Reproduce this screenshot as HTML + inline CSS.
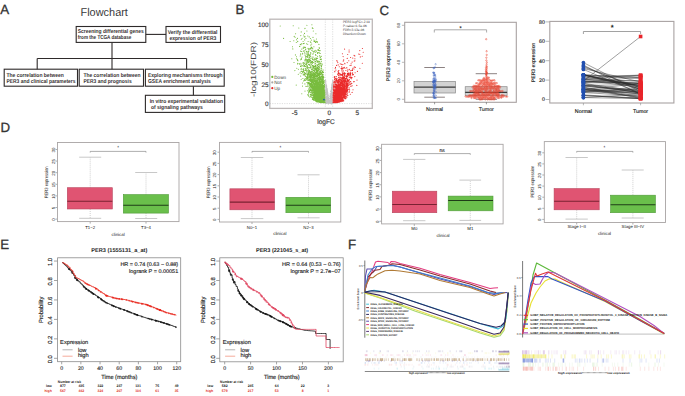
<!DOCTYPE html>
<html><head><meta charset="utf-8"><style>
html,body{margin:0;padding:0;background:#fff;width:685px;height:396px;overflow:hidden}
svg{display:block}
text{font-family:"Liberation Sans",sans-serif;text-rendering:geometricPrecision}
</style></head><body>
<svg width="685" height="396" viewBox="0 0 685 396" font-family="Liberation Sans, sans-serif">
<rect width="685" height="396" fill="#fff"/>
<text x="0.30" y="14.00" font-size="13.3" fill="#333" stroke="#333" stroke-width="0.3">A</text>
<text x="235.40" y="13.80" font-size="13.3" fill="#333" stroke="#333" stroke-width="0.3">B</text>
<text x="379.60" y="14.90" font-size="13.3" fill="#333" stroke="#333" stroke-width="0.3">C</text>
<text x="0.60" y="132.00" font-size="13.3" fill="#333" stroke="#333" stroke-width="0.3">D</text>
<text x="0.20" y="249.20" font-size="13.3" fill="#333" stroke="#333" stroke-width="0.3">E</text>
<text x="347.90" y="248.90" font-size="13.3" fill="#333" stroke="#333" stroke-width="0.3">F</text>
<text x="80.50" y="16.20" font-size="11.3" fill="#3a3a3a" textLength="47.4" lengthAdjust="spacingAndGlyphs" >Flowchart</text>
<rect x="76.20" y="26.50" width="69.60" height="15.90" fill="none" stroke="#2e2a2a" stroke-width="1.1" />
<rect x="166.00" y="26.50" width="54.50" height="15.90" fill="none" stroke="#2e2a2a" stroke-width="1.1" />
<rect x="4.20" y="69.20" width="73.30" height="17.00" fill="none" stroke="#2e2a2a" stroke-width="1.1" />
<rect x="79.20" y="69.20" width="64.30" height="17.00" fill="none" stroke="#2e2a2a" stroke-width="1.1" />
<rect x="145.40" y="69.20" width="78.80" height="17.00" fill="none" stroke="#2e2a2a" stroke-width="1.1" />
<rect x="145.40" y="95.30" width="79.30" height="17.10" fill="none" stroke="#2e2a2a" stroke-width="1.1" />
<line x1="145.80" y1="34.40" x2="166.00" y2="34.40" stroke="#2e2a2a" stroke-width="1.1" />
<line x1="112.00" y1="42.40" x2="112.00" y2="58.50" stroke="#2e2a2a" stroke-width="1.1" />
<line x1="37.20" y1="58.50" x2="186.60" y2="58.50" stroke="#2e2a2a" stroke-width="1.1" />
<line x1="37.20" y1="58.50" x2="37.20" y2="69.20" stroke="#2e2a2a" stroke-width="1.1" />
<line x1="112.00" y1="58.50" x2="112.00" y2="69.20" stroke="#2e2a2a" stroke-width="1.1" />
<line x1="186.60" y1="58.50" x2="186.60" y2="69.20" stroke="#2e2a2a" stroke-width="1.1" />
<line x1="193.40" y1="86.20" x2="193.40" y2="95.30" stroke="#2e2a2a" stroke-width="1.1" />
<text x="77.80" y="32.82" font-size="5.6" fill="#383333" font-weight="bold" textLength="66" lengthAdjust="spacingAndGlyphs" >Screening differential genes</text>
<text x="77.80" y="39.12" font-size="5.6" fill="#383333" font-weight="bold" textLength="53.5" lengthAdjust="spacingAndGlyphs" >from the TCGA database</text>
<text x="167.70" y="33.92" font-size="5.6" fill="#383333" font-weight="bold" textLength="49.8" lengthAdjust="spacingAndGlyphs" >Verify the differential</text>
<text x="169.40" y="40.32" font-size="5.6" fill="#383333" font-weight="bold" textLength="46.9" lengthAdjust="spacingAndGlyphs" >expression of PER3</text>
<text x="6.40" y="76.82" font-size="5.6" fill="#383333" font-weight="bold" textLength="57.4" lengthAdjust="spacingAndGlyphs" >The correlation between</text>
<text x="6.40" y="83.12" font-size="5.6" fill="#383333" font-weight="bold" textLength="69.1" lengthAdjust="spacingAndGlyphs" >PER3 and clinical parameters</text>
<text x="83.40" y="76.82" font-size="5.6" fill="#383333" font-weight="bold" textLength="57.1" lengthAdjust="spacingAndGlyphs" >The correlation between</text>
<text x="83.40" y="83.22" font-size="5.6" fill="#383333" font-weight="bold" textLength="48.3" lengthAdjust="spacingAndGlyphs" >PER3 and prognosis</text>
<text x="148.00" y="76.82" font-size="5.6" fill="#383333" font-weight="bold" textLength="74.6" lengthAdjust="spacingAndGlyphs" >Exploring mechanisms through</text>
<text x="148.00" y="83.22" font-size="5.6" fill="#383333" font-weight="bold" textLength="62.8" lengthAdjust="spacingAndGlyphs" >GSEA enrichment analysis</text>
<text x="149.70" y="102.82" font-size="5.6" fill="#383333" font-weight="bold" textLength="73.3" lengthAdjust="spacingAndGlyphs" >In vitro experimental validation</text>
<text x="150.90" y="109.42" font-size="5.6" fill="#383333" font-weight="bold" textLength="52" lengthAdjust="spacingAndGlyphs" >of signaling pathways</text>
<g>
<path d="M327.6 96.9h.01M325.8 94.6h.01M326.7 99.2h.01M327.9 98.2h.01M326.1 85.4h.01M328.7 101.8h.01M328.1 97.6h.01M326.3 99.3h.01M326.3 90.0h.01M325.6 103.7h.01M327.0 88.9h.01M325.9 83.9h.01M326.5 87.1h.01M327.3 90.5h.01M327.7 101.0h.01M326.1 93.1h.01M327.2 94.2h.01M326.4 86.6h.01M326.7 99.1h.01M326.3 88.6h.01M327.3 91.5h.01M326.3 98.9h.01M327.3 99.7h.01M327.5 97.1h.01M327.4 95.1h.01M327.0 101.1h.01M327.1 88.4h.01M326.7 96.6h.01M326.2 103.2h.01M325.6 80.1h.01M327.4 92.2h.01M328.6 103.7h.01M327.4 90.9h.01M327.3 89.6h.01M326.5 97.8h.01M328.3 103.9h.01M328.5 97.3h.01M326.9 100.7h.01M327.4 96.1h.01M326.1 97.7h.01M328.6 97.7h.01M325.7 85.8h.01M326.8 100.6h.01M325.7 99.6h.01M326.2 84.9h.01M327.9 93.6h.01M326.1 98.5h.01M328.7 102.8h.01M328.3 99.9h.01M327.6 97.3h.01M326.1 87.4h.01M326.4 87.6h.01M328.3 95.4h.01M326.9 98.7h.01M326.6 87.1h.01M325.6 83.1h.01M328.2 100.9h.01M326.3 90.5h.01M326.4 101.9h.01M328.5 102.9h.01M328.6 98.4h.01M327.0 103.1h.01M327.9 97.2h.01M325.7 89.5h.01M325.9 102.9h.01M325.6 92.8h.01M327.2 88.7h.01M327.7 96.8h.01M327.0 100.3h.01M326.2 103.0h.01M328.7 100.4h.01M328.6 99.8h.01M328.7 101.6h.01M326.1 92.2h.01M327.7 101.8h.01M326.2 100.9h.01M326.7 92.6h.01M326.9 89.0h.01M325.7 81.6h.01M326.9 92.7h.01M325.8 90.3h.01M326.5 99.1h.01M325.7 80.1h.01M327.4 96.2h.01M325.8 100.5h.01M326.3 92.9h.01M327.8 97.3h.01M328.0 101.1h.01M327.0 91.0h.01M325.7 86.1h.01M325.6 101.3h.01M329.0 102.0h.01M326.8 94.7h.01M327.3 97.9h.01M327.9 96.7h.01M327.3 99.3h.01M326.6 85.5h.01M325.9 97.3h.01M325.8 100.7h.01M326.2 91.7h.01M328.3 98.0h.01M325.9 103.1h.01M328.5 99.0h.01M326.2 99.5h.01M329.0 102.3h.01M327.2 98.8h.01M328.1 96.5h.01M327.8 96.4h.01M327.6 95.4h.01M325.6 88.3h.01M326.9 101.0h.01M326.0 95.6h.01M326.4 90.6h.01M325.7 90.2h.01M326.2 100.0h.01M328.0 98.6h.01M326.4 87.4h.01M326.7 87.8h.01M327.4 90.1h.01M326.5 87.4h.01M325.5 99.7h.01M325.6 87.6h.01M327.9 97.3h.01M328.0 102.2h.01M325.7 102.4h.01M327.0 89.2h.01M325.7 92.5h.01M326.6 98.9h.01M325.6 82.6h.01M328.0 95.7h.01M325.7 82.5h.01M326.8 100.5h.01M326.6 90.8h.01M328.1 103.3h.01M326.5 98.4h.01M326.5 87.9h.01M326.7 100.2h.01M326.0 89.3h.01M325.8 96.0h.01M327.1 92.0h.01M327.6 96.5h.01M325.9 86.9h.01M326.1 84.2h.01M327.6 101.9h.01M327.0 89.8h.01M325.6 90.8h.01M325.6 98.5h.01M325.7 102.6h.01M325.6 103.3h.01M327.2 92.5h.01M327.5 96.1h.01M326.1 97.1h.01M327.3 95.7h.01M326.8 98.9h.01M327.2 89.8h.01M326.5 102.2h.01M327.5 100.1h.01M326.8 96.3h.01M327.6 99.9h.01M327.6 97.4h.01M326.3 86.6h.01M327.8 102.3h.01M326.2 85.7h.01M327.6 92.1h.01M328.3 95.9h.01M327.5 91.2h.01M326.2 84.6h.01M325.8 100.5h.01M327.8 92.6h.01M325.7 93.7h.01M326.6 98.5h.01M327.9 98.5h.01M328.4 100.0h.01M327.7 102.6h.01M325.6 94.2h.01M326.5 102.9h.01M325.9 95.3h.01M327.4 92.1h.01M326.1 97.0h.01M327.7 94.2h.01M328.2 99.5h.01M325.7 83.3h.01M325.8 97.5h.01M326.7 101.4h.01M328.9 102.4h.01M327.6 97.9h.01M328.9 100.4h.01M327.3 92.8h.01M325.9 91.4h.01M326.9 103.3h.01M328.7 103.1h.01M325.5 80.7h.01M326.1 90.7h.01M326.2 84.9h.01M328.2 101.7h.01M326.8 98.7h.01M326.2 87.1h.01M327.3 102.4h.01M326.1 93.4h.01M329.0 102.4h.01M326.0 90.3h.01M325.7 89.7h.01M326.2 88.3h.01M327.1 98.7h.01M328.0 94.2h.01M326.0 96.6h.01M326.5 90.9h.01M327.4 98.4h.01M326.0 97.4h.01M327.2 96.9h.01M326.6 85.4h.01M326.0 99.9h.01M325.7 96.4h.01M328.4 98.3h.01M326.7 86.3h.01M326.9 88.3h.01M325.9 100.1h.01M326.2 100.1h.01M326.5 90.9h.01M328.3 101.5h.01M327.3 89.6h.01M325.5 85.8h.01M327.9 101.4h.01M326.7 89.4h.01M327.6 101.4h.01M327.7 98.1h.01M325.7 80.9h.01M325.9 81.7h.01M326.5 92.7h.01M326.6 86.1h.01M325.8 103.4h.01M327.3 97.2h.01M326.0 84.0h.01M326.7 99.3h.01M326.6 90.2h.01M326.5 98.0h.01M327.0 97.1h.01M326.0 83.7h.01M326.7 98.4h.01M327.9 96.1h.01M326.3 103.5h.01M326.3 88.2h.01M327.2 98.4h.01M327.5 99.7h.01M328.1 96.3h.01M325.7 85.5h.01M325.9 93.2h.01M325.9 90.6h.01M327.1 90.0h.01M327.2 93.5h.01M327.5 98.4h.01M326.8 103.0h.01M328.6 103.8h.01M325.8 87.8h.01M326.6 92.8h.01M325.7 102.5h.01M328.7 102.5h.01M328.0 96.3h.01M326.6 99.9h.01M325.5 79.7h.01M328.1 103.5h.01M327.4 92.3h.01M327.4 92.3h.01M326.2 84.3h.01M326.7 94.1h.01M326.6 98.0h.01M327.7 94.7h.01M325.8 91.6h.01M326.0 84.5h.01M326.7 98.0h.01M330.8 103.1h.01M331.7 86.1h.01M329.4 102.3h.01M332.7 88.3h.01M331.9 101.1h.01M331.7 85.1h.01M331.8 94.1h.01M332.5 85.0h.01M331.6 92.7h.01M331.8 90.7h.01M329.6 103.3h.01M332.7 103.2h.01M329.9 98.5h.01M331.2 90.6h.01M331.9 98.5h.01M331.3 92.1h.01M332.7 92.2h.01M331.8 102.0h.01M330.2 101.8h.01M332.3 94.3h.01M330.3 97.1h.01M331.4 94.3h.01M332.4 84.6h.01M332.4 92.4h.01M331.7 85.9h.01M331.8 91.5h.01M329.9 102.1h.01M331.2 95.7h.01M330.8 91.3h.01M331.3 103.7h.01M332.4 93.2h.01M332.4 94.7h.01M329.7 101.7h.01M331.0 102.9h.01M332.4 82.1h.01M331.7 86.9h.01M331.5 91.1h.01M331.7 91.7h.01M331.0 100.5h.01M330.9 101.3h.01M332.4 101.7h.01M330.9 97.9h.01M332.3 89.8h.01M329.3 101.2h.01M331.5 98.6h.01M332.1 94.4h.01M331.1 98.9h.01M331.7 94.1h.01M332.3 87.2h.01M329.4 101.3h.01M332.1 99.4h.01M331.2 91.1h.01M331.3 96.3h.01M329.6 100.1h.01M332.0 83.9h.01M330.2 94.4h.01M331.5 97.1h.01M332.1 97.4h.01M331.4 92.2h.01M331.8 85.0h.01M332.2 93.0h.01M331.9 84.9h.01M329.2 102.8h.01M331.2 89.7h.01M331.9 85.1h.01M331.3 103.9h.01M331.6 102.4h.01M332.2 89.7h.01M332.6 81.6h.01M331.6 103.9h.01M331.4 89.3h.01M332.4 89.9h.01M330.4 96.9h.01M331.3 100.0h.01M331.1 98.6h.01M331.4 93.1h.01M332.1 87.7h.01M331.5 91.2h.01M332.8 80.3h.01M332.1 92.4h.01M332.0 92.6h.01M331.3 98.7h.01M332.2 98.1h.01M332.4 86.7h.01M332.6 103.5h.01M329.3 102.2h.01M331.5 91.8h.01M331.7 84.7h.01M330.2 93.6h.01M331.8 97.4h.01M331.3 101.5h.01M330.1 95.4h.01M332.8 86.3h.01M331.5 93.9h.01M330.4 97.9h.01M331.5 91.3h.01M332.8 95.9h.01M331.3 96.0h.01M330.3 103.3h.01M330.0 98.1h.01M331.5 87.8h.01M331.6 92.2h.01M330.7 102.4h.01M331.7 101.1h.01M332.5 95.5h.01M331.9 90.9h.01M330.9 97.7h.01M330.8 96.1h.01M332.4 84.5h.01M330.1 96.4h.01M331.6 103.7h.01M330.6 96.3h.01M330.7 97.4h.01M332.4 86.9h.01M329.1 101.4h.01M331.7 94.5h.01M331.5 98.6h.01M331.8 88.4h.01M332.7 87.5h.01M332.8 81.7h.01M332.4 88.1h.01M331.7 96.7h.01M332.2 92.4h.01M331.6 91.8h.01M331.5 102.7h.01M331.7 91.9h.01M331.2 102.0h.01M331.1 100.2h.01M332.3 84.8h.01M331.8 89.9h.01M332.1 99.2h.01M329.6 98.4h.01M330.6 101.0h.01M332.4 97.9h.01M331.4 87.4h.01M329.2 101.3h.01M332.2 85.6h.01M330.8 96.0h.01M331.5 93.8h.01M332.8 99.4h.01M331.5 88.5h.01M331.3 94.4h.01M332.1 102.6h.01M331.8 100.9h.01M330.7 98.8h.01M332.2 102.6h.01M331.5 93.3h.01M330.6 91.2h.01M331.3 94.7h.01M330.6 94.7h.01M332.6 80.5h.01M332.5 83.1h.01M332.0 99.5h.01M329.9 99.6h.01M331.8 98.9h.01M332.3 83.8h.01M332.4 88.8h.01M331.8 103.4h.01M331.3 98.2h.01M332.7 85.2h.01M332.2 91.7h.01M332.0 102.9h.01M330.7 94.9h.01M332.6 87.8h.01M331.8 90.6h.01M331.5 94.6h.01M329.8 96.6h.01M331.8 102.8h.01M331.7 87.3h.01M330.5 95.5h.01M331.2 97.1h.01M331.5 96.7h.01M332.6 83.0h.01M332.0 97.9h.01M332.5 89.7h.01M330.5 96.9h.01M332.3 94.9h.01M332.6 89.5h.01M331.4 89.0h.01M329.8 96.3h.01M331.8 100.5h.01M330.7 101.5h.01M331.8 89.8h.01M332.2 86.6h.01M331.8 91.9h.01M331.9 91.8h.01M331.5 98.7h.01M330.2 97.9h.01M331.8 92.1h.01M331.8 102.5h.01M332.7 101.3h.01M332.8 87.6h.01M332.3 89.8h.01M330.4 102.7h.01M329.6 101.1h.01M332.1 98.2h.01M331.5 102.1h.01M331.2 98.2h.01M330.7 103.2h.01M329.0 101.8h.01M330.9 97.3h.01M330.8 97.7h.01M332.5 97.7h.01M330.7 91.9h.01M331.2 95.6h.01M330.0 102.1h.01M331.6 91.2h.01M329.7 102.7h.01M329.8 96.5h.01M332.7 93.9h.01M332.4 96.4h.01M331.9 92.2h.01M330.3 103.5h.01M329.9 98.4h.01M330.0 100.1h.01M329.4 101.8h.01M329.2 100.3h.01M330.2 103.2h.01M329.7 103.1h.01M332.6 86.6h.01M331.5 94.7h.01M332.2 87.8h.01M330.2 95.6h.01M331.3 89.5h.01M329.3 101.9h.01M331.4 93.8h.01M332.6 95.3h.01M331.1 90.6h.01M332.5 102.8h.01M329.5 101.5h.01M331.9 96.2h.01M330.4 102.5h.01M331.1 100.6h.01M330.4 97.1h.01M331.1 94.6h.01M331.6 94.8h.01M330.4 98.2h.01M329.0 101.9h.01M330.3 96.0h.01M331.9 90.0h.01M330.6 101.5h.01M330.2 97.0h.01M332.1 101.3h.01M332.3 83.0h.01M332.3 83.3h.01M331.3 98.5h.01M331.7 87.9h.01M332.7 89.3h.01M331.8 90.7h.01M332.7 98.9h.01M332.1 99.4h.01M329.0 101.6h.01M332.6 95.3h.01M330.8 100.9h.01M331.7 103.1h.01M332.6 83.5h.01M329.5 102.3h.01M330.8 95.7h.01M329.2 102.1h.01M331.1 93.2h.01M331.2 97.4h.01M330.9 99.7h.01M332.0 84.0h.01M332.7 83.5h.01M331.8 93.5h.01M329.9 102.7h.01M330.3 97.9h.01M332.2 88.7h.01M331.8 99.5h.01M331.8 98.4h.01" stroke="#c4c4c4" stroke-width="1.10" stroke-linecap="round" fill="none" opacity="1"/>
<path d="M321.0 83.7h.01M308.2 54.3h.01M320.3 71.4h.01M318.1 85.0h.01M322.8 101.8h.01M317.3 65.5h.01M315.7 82.4h.01M320.0 73.9h.01M323.2 86.6h.01M323.6 99.6h.01M314.0 92.3h.01M322.9 81.2h.01M315.9 83.3h.01M323.8 98.1h.01M321.8 81.3h.01M323.5 93.3h.01M323.2 79.5h.01M319.5 92.6h.01M319.3 95.5h.01M318.6 101.5h.01M309.0 80.6h.01M322.6 90.8h.01M321.9 96.2h.01M311.7 44.0h.01M304.9 53.2h.01M309.4 74.1h.01M319.0 83.0h.01M317.2 62.4h.01M313.8 90.7h.01M316.2 88.2h.01M318.8 93.8h.01M312.4 58.8h.01M315.5 89.3h.01M322.1 76.5h.01M315.6 94.3h.01M313.6 83.6h.01M316.6 79.7h.01M313.0 88.1h.01M320.8 82.7h.01M318.0 87.0h.01M314.8 97.5h.01M313.3 72.8h.01M322.8 102.0h.01M324.1 95.6h.01M321.9 82.2h.01M318.5 93.0h.01M308.6 61.3h.01M320.9 82.5h.01M320.0 85.4h.01M317.0 68.9h.01M322.6 97.8h.01M319.7 94.7h.01M308.3 83.3h.01M319.9 99.2h.01M318.1 98.9h.01M324.1 90.0h.01M321.2 98.8h.01M315.2 93.7h.01M309.3 57.6h.01M322.6 96.2h.01M321.1 85.5h.01M318.5 98.7h.01M321.5 101.5h.01M316.0 94.2h.01M296.5 39.7h.01M315.2 97.4h.01M319.6 90.2h.01M324.0 102.6h.01M318.2 101.9h.01M320.1 95.9h.01M324.0 97.6h.01M314.1 96.9h.01M321.0 91.3h.01M318.4 50.4h.01M316.0 86.0h.01M318.6 97.0h.01M316.2 85.9h.01M314.4 86.6h.01M321.4 88.4h.01M319.4 94.6h.01M322.4 91.3h.01M322.9 80.7h.01M318.0 82.8h.01M301.2 65.7h.01M316.4 100.6h.01M317.9 86.3h.01M311.1 83.9h.01M319.9 91.2h.01M318.3 90.8h.01M323.0 97.9h.01M322.1 95.6h.01M315.1 86.5h.01M314.7 87.3h.01M308.1 82.7h.01M317.1 73.1h.01M315.9 78.5h.01M319.4 99.2h.01M314.5 80.0h.01M324.3 101.2h.01M314.4 91.2h.01M319.7 96.6h.01M317.7 90.2h.01M308.2 86.8h.01M321.3 97.7h.01M317.1 41.5h.01M321.5 97.9h.01M319.9 95.8h.01M321.9 102.3h.01M314.5 74.9h.01M321.5 93.6h.01M315.9 98.7h.01M307.2 78.9h.01M310.1 80.1h.01M319.4 99.7h.01M309.4 91.2h.01M320.6 90.4h.01M323.8 77.1h.01M324.7 93.4h.01M318.5 95.8h.01M322.3 88.1h.01M322.3 94.0h.01M303.4 62.6h.01M321.2 95.6h.01M319.5 84.2h.01M321.8 102.5h.01M322.8 93.5h.01M322.9 79.7h.01M315.8 93.1h.01M318.2 79.3h.01M315.9 75.4h.01M322.3 79.4h.01M321.8 98.2h.01M321.3 59.0h.01M312.2 93.7h.01M314.0 87.4h.01M304.5 65.4h.01M319.6 80.4h.01M313.5 82.1h.01M312.5 65.4h.01M307.5 61.2h.01M322.7 100.8h.01M320.8 91.7h.01M319.7 77.8h.01M312.9 28.4h.01M306.4 77.0h.01M315.5 42.4h.01M324.5 98.0h.01M320.5 86.7h.01M319.7 83.0h.01M322.4 95.8h.01M317.3 95.0h.01M317.3 96.0h.01M319.6 94.4h.01M320.1 57.3h.01M314.0 90.6h.01M315.0 41.0h.01M315.5 84.7h.01M319.6 96.0h.01M318.4 91.8h.01M316.7 99.8h.01M319.7 101.1h.01M319.6 84.2h.01M321.9 80.8h.01M320.1 95.8h.01M307.2 74.3h.01M319.3 97.3h.01M324.4 102.1h.01M321.9 72.8h.01M315.1 97.7h.01M324.3 87.8h.01M310.2 56.6h.01M318.1 90.0h.01M307.8 68.7h.01M317.7 95.6h.01M323.1 97.4h.01M321.8 84.2h.01M319.9 101.1h.01M324.1 93.3h.01M317.3 84.2h.01M322.1 91.0h.01M315.6 94.6h.01M322.8 97.1h.01M315.9 98.0h.01M324.2 90.4h.01M319.5 75.1h.01M317.2 80.3h.01M321.9 98.9h.01M317.9 96.3h.01M319.2 68.7h.01M322.7 93.9h.01M314.8 96.2h.01M321.0 79.5h.01M317.6 93.6h.01M321.7 93.6h.01M320.8 88.9h.01M313.6 92.9h.01M307.4 66.3h.01M315.6 88.7h.01M323.1 98.6h.01M312.0 74.7h.01M318.3 89.0h.01M320.0 72.9h.01M322.2 82.4h.01M322.1 99.5h.01M309.5 57.0h.01M316.9 96.9h.01M319.8 95.2h.01M302.1 71.3h.01M317.4 64.7h.01M318.8 69.2h.01M309.4 74.2h.01M315.1 95.5h.01M321.8 102.0h.01M318.0 89.9h.01M323.8 99.1h.01M319.1 85.5h.01M307.7 83.7h.01M315.4 79.3h.01M313.3 31.0h.01M316.0 89.3h.01M320.2 96.4h.01M320.0 82.0h.01M319.2 100.4h.01M322.6 87.4h.01M321.7 92.0h.01M320.3 73.1h.01M320.0 96.2h.01M319.3 97.1h.01M317.3 71.3h.01M324.6 94.7h.01M318.2 97.6h.01M302.2 69.3h.01M324.3 87.3h.01M313.9 81.5h.01M313.5 99.4h.01M320.7 86.5h.01M312.0 73.3h.01M305.6 80.2h.01M323.8 95.5h.01M310.6 54.0h.01M318.8 73.8h.01M321.7 99.0h.01M323.5 92.6h.01M325.0 94.2h.01M315.2 97.2h.01M305.1 70.4h.01M322.6 84.7h.01M323.1 88.7h.01M312.0 57.0h.01M319.9 89.7h.01M321.2 92.3h.01M320.5 101.2h.01M324.9 94.8h.01M315.0 66.1h.01M321.3 78.2h.01M320.4 101.5h.01M322.8 86.0h.01M324.4 99.0h.01M322.2 89.8h.01M301.2 79.3h.01M318.7 77.9h.01M318.3 95.9h.01M312.9 82.6h.01M319.9 97.1h.01M319.2 47.6h.01M313.1 84.2h.01M320.1 90.3h.01M311.2 89.8h.01M296.3 42.5h.01M322.7 95.5h.01M319.2 101.3h.01M318.9 93.2h.01M322.7 78.5h.01M322.2 64.1h.01M324.2 91.7h.01M320.5 97.2h.01M314.7 89.7h.01M315.9 80.7h.01M318.7 96.4h.01M313.9 88.7h.01M317.6 89.4h.01M320.2 96.9h.01M322.0 101.9h.01M323.9 94.9h.01M322.9 98.8h.01M314.9 88.1h.01M321.1 89.7h.01M318.0 71.0h.01M314.3 91.7h.01M318.0 97.2h.01M294.0 62.5h.01M297.4 59.2h.01M321.5 99.7h.01M319.7 100.7h.01M324.1 102.7h.01M321.0 85.2h.01M315.9 68.5h.01M310.6 80.7h.01M313.6 79.7h.01M318.5 64.0h.01M308.5 75.1h.01M319.9 92.9h.01M322.0 83.0h.01M316.8 70.2h.01M324.5 97.7h.01M304.7 80.4h.01M323.7 95.5h.01M311.1 83.3h.01M315.9 87.2h.01M319.1 91.4h.01M323.6 87.2h.01M318.3 91.3h.01M319.3 90.5h.01M320.6 98.7h.01M321.1 91.4h.01M319.7 55.6h.01M310.7 66.9h.01M324.2 92.4h.01M313.8 94.4h.01M320.0 84.1h.01M324.1 95.1h.01M318.6 85.9h.01M319.6 99.6h.01M307.9 74.1h.01M315.0 61.6h.01M316.5 83.8h.01M320.4 92.1h.01M320.8 72.4h.01M312.6 98.6h.01M301.6 51.5h.01M313.7 98.1h.01M318.1 92.9h.01M314.9 75.7h.01M313.5 75.9h.01M317.1 96.3h.01M314.7 73.7h.01M313.9 80.0h.01M317.8 88.7h.01M315.9 97.4h.01M321.7 95.2h.01M317.5 65.2h.01M318.2 89.5h.01M307.3 67.3h.01M313.6 72.9h.01M316.1 87.6h.01M322.0 98.1h.01M314.9 72.1h.01M324.3 88.8h.01M318.2 89.2h.01M324.4 101.5h.01M320.2 85.6h.01M323.1 101.0h.01M305.9 63.7h.01M316.0 69.6h.01M322.8 98.6h.01M324.8 101.2h.01M318.0 100.3h.01M320.2 79.2h.01M317.6 72.7h.01M319.1 85.7h.01M318.4 89.0h.01M319.3 95.2h.01M317.0 98.9h.01M323.9 90.9h.01M321.5 89.5h.01M322.7 86.9h.01M324.0 95.8h.01M320.3 96.3h.01M324.1 102.4h.01M321.3 100.0h.01M314.4 87.4h.01M323.8 98.0h.01M321.8 98.7h.01M315.7 86.7h.01M322.9 86.8h.01M315.4 82.0h.01M314.6 41.1h.01M319.4 50.6h.01M314.0 79.6h.01M323.9 102.6h.01M320.2 90.9h.01M319.8 99.7h.01M310.4 92.5h.01M319.0 90.3h.01M315.6 87.0h.01M312.6 71.1h.01M310.4 67.4h.01M323.0 90.3h.01M309.7 71.8h.01M314.3 98.2h.01M322.6 94.3h.01M324.5 96.1h.01M319.5 97.3h.01M324.0 101.0h.01M318.0 94.5h.01M313.4 96.8h.01M310.6 75.6h.01M321.2 95.7h.01M323.8 102.2h.01M324.3 99.8h.01M321.4 101.9h.01M323.3 100.9h.01M309.6 75.6h.01M316.5 98.7h.01M316.8 81.0h.01M324.3 101.8h.01M316.3 73.2h.01M320.3 82.8h.01M318.4 82.7h.01M313.9 66.4h.01M318.0 98.6h.01M316.2 91.1h.01M321.9 102.0h.01M300.8 35.6h.01M320.6 98.5h.01M320.4 101.9h.01M324.5 91.6h.01M315.4 97.6h.01M318.2 91.5h.01M308.2 83.8h.01M318.5 100.8h.01M318.0 92.5h.01M320.6 77.2h.01M310.4 38.5h.01M307.9 61.9h.01M313.2 70.7h.01M313.5 67.5h.01M318.4 90.7h.01M318.3 68.8h.01M321.6 100.8h.01M322.1 100.6h.01M322.7 100.2h.01M311.3 40.1h.01M320.7 98.4h.01M324.2 80.6h.01M318.9 78.0h.01M312.6 85.1h.01M308.1 72.4h.01M314.8 99.6h.01M308.9 59.8h.01M317.9 85.6h.01M304.7 39.9h.01M315.9 89.5h.01M322.2 84.1h.01M306.7 65.2h.01M319.1 82.5h.01M317.7 82.5h.01M310.6 76.9h.01M301.8 73.6h.01M312.4 89.5h.01M318.6 64.8h.01M324.8 98.1h.01M317.2 96.2h.01M315.8 78.7h.01M319.4 86.9h.01M307.4 78.5h.01M320.9 82.4h.01M319.2 93.7h.01M318.3 82.6h.01M320.8 95.5h.01M308.5 73.9h.01M322.4 101.6h.01M319.3 95.0h.01M317.4 89.8h.01M317.7 100.5h.01M311.2 88.1h.01M318.5 93.9h.01M322.9 78.9h.01M317.6 95.0h.01M312.8 97.9h.01M306.9 31.0h.01M320.9 70.4h.01M318.1 90.9h.01M316.3 72.0h.01M324.2 98.1h.01M319.7 100.2h.01M314.4 85.4h.01M310.2 84.1h.01M321.9 73.7h.01M320.8 98.2h.01M322.4 80.6h.01M311.9 79.5h.01M319.1 100.7h.01M308.7 78.1h.01M319.2 96.0h.01M312.8 48.8h.01M322.0 95.8h.01M315.9 89.7h.01M310.5 80.6h.01M321.0 93.7h.01M321.8 70.8h.01M319.8 76.8h.01M300.6 59.7h.01M324.0 87.1h.01M300.6 51.1h.01M320.1 83.4h.01M321.2 95.3h.01M305.5 49.8h.01M315.6 94.4h.01M322.4 99.4h.01M307.0 86.4h.01M322.4 92.1h.01M310.3 94.9h.01M314.4 79.8h.01M321.4 89.7h.01M317.6 98.8h.01M318.4 86.2h.01M323.3 95.2h.01M306.6 43.7h.01M323.8 90.8h.01M322.9 90.1h.01M321.2 92.8h.01M310.3 89.2h.01M316.3 96.0h.01M316.7 69.2h.01M319.2 96.8h.01M321.7 97.5h.01M306.8 59.8h.01M321.5 101.1h.01M308.0 51.6h.01M317.5 100.3h.01M313.2 68.3h.01M317.6 83.9h.01M315.8 92.2h.01M324.3 98.0h.01M321.2 98.2h.01M317.5 98.4h.01M324.6 98.1h.01M319.9 92.6h.01M300.1 72.9h.01M323.6 100.7h.01M319.4 93.6h.01M310.6 86.9h.01M323.9 81.2h.01M314.5 93.0h.01M321.4 101.9h.01M315.9 90.7h.01M317.9 95.9h.01M323.6 97.6h.01M320.0 96.0h.01M321.8 95.9h.01M317.6 100.6h.01M305.8 86.2h.01M314.6 96.1h.01M322.5 88.4h.01M315.8 85.3h.01M323.8 100.0h.01M321.1 74.8h.01M318.5 77.4h.01M317.1 86.8h.01M311.4 85.2h.01M311.7 73.8h.01M322.6 98.5h.01M320.5 98.2h.01M315.5 76.5h.01M317.7 100.0h.01M317.0 91.3h.01M321.3 79.6h.01M324.6 97.2h.01M323.4 99.7h.01M311.2 90.9h.01M324.3 102.7h.01M298.4 69.3h.01M320.1 86.5h.01M317.3 41.7h.01M323.5 88.8h.01M313.6 90.0h.01M320.4 63.1h.01M314.7 93.3h.01M320.4 90.3h.01M323.2 101.8h.01M301.3 68.3h.01M316.8 69.3h.01M306.2 72.7h.01M312.0 67.3h.01M320.8 85.7h.01M313.6 65.9h.01M322.8 94.4h.01M319.3 93.3h.01M320.9 79.4h.01M322.2 95.8h.01M313.7 73.1h.01M313.2 88.1h.01M320.7 94.5h.01M313.1 81.0h.01M309.7 77.4h.01M317.7 89.0h.01M321.6 90.6h.01M320.2 101.8h.01M309.0 76.6h.01M322.8 94.7h.01M309.2 71.9h.01M304.8 37.0h.01M311.1 81.2h.01M316.4 94.1h.01M305.2 76.0h.01M310.9 73.0h.01M324.9 97.1h.01M310.0 55.7h.01M322.1 96.5h.01M309.9 71.0h.01M317.8 91.5h.01M309.7 76.0h.01M321.1 99.8h.01M312.3 73.8h.01M309.6 75.5h.01M305.8 49.1h.01M324.1 97.8h.01M322.0 99.1h.01M314.4 76.5h.01M320.5 102.0h.01M317.9 74.2h.01M305.4 47.4h.01M322.2 96.6h.01M315.9 94.7h.01M317.9 96.6h.01M322.6 91.7h.01M313.5 77.7h.01M323.3 78.9h.01M319.1 97.9h.01M313.9 95.4h.01M318.7 84.4h.01M322.9 101.0h.01M318.4 100.8h.01M314.4 83.8h.01M321.3 101.0h.01M319.2 94.6h.01M319.6 96.9h.01M310.9 42.5h.01M318.8 68.8h.01M309.7 65.5h.01M315.8 65.9h.01M316.2 100.4h.01M320.2 82.5h.01M315.6 78.9h.01M309.4 84.0h.01M313.7 85.7h.01M306.2 62.4h.01M314.0 98.8h.01M320.0 100.5h.01M312.6 87.9h.01M316.0 69.7h.01M324.0 90.8h.01M323.4 98.4h.01M321.3 80.4h.01M324.2 102.4h.01M320.6 88.3h.01M319.6 75.0h.01M319.1 89.4h.01M321.4 77.9h.01M316.4 91.5h.01M325.0 92.2h.01M315.1 98.5h.01M323.7 96.5h.01M323.3 89.0h.01M324.3 87.1h.01M308.9 50.9h.01M322.4 93.2h.01M322.3 87.9h.01M315.6 87.7h.01M310.6 86.7h.01M322.3 88.9h.01M300.7 76.1h.01M313.9 75.9h.01M325.1 102.6h.01M314.2 80.1h.01M314.6 59.9h.01M322.9 101.1h.01M320.5 95.3h.01M322.4 90.2h.01M318.3 100.9h.01M316.0 57.7h.01M317.5 98.9h.01M315.3 52.3h.01M313.9 92.1h.01M322.9 84.6h.01M314.9 50.8h.01M322.0 86.4h.01M324.9 97.3h.01M316.9 97.8h.01M317.1 87.3h.01M324.7 99.0h.01M324.5 97.9h.01M314.6 78.4h.01M313.6 88.9h.01M313.9 90.5h.01M321.8 95.7h.01M320.8 97.8h.01M307.4 90.7h.01M319.7 92.5h.01M319.9 53.5h.01M323.2 70.0h.01M313.6 67.5h.01M316.5 99.3h.01M311.9 80.4h.01M318.5 91.1h.01M316.7 88.0h.01M321.3 76.5h.01M316.0 100.2h.01M298.3 74.3h.01M318.9 44.4h.01M319.4 89.2h.01M316.2 80.7h.01M317.0 91.2h.01M319.0 93.7h.01M322.8 98.6h.01M313.0 37.4h.01M315.8 66.8h.01M318.9 95.3h.01M315.8 65.8h.01M322.2 92.4h.01M320.0 82.1h.01M316.8 88.1h.01M299.5 46.5h.01M310.8 63.2h.01M312.8 89.7h.01M318.9 86.5h.01M312.4 90.0h.01M313.1 85.7h.01M313.5 78.7h.01M318.2 87.4h.01M320.2 83.5h.01M323.4 100.2h.01M319.3 92.2h.01M325.0 94.8h.01M324.3 90.7h.01M321.1 101.7h.01M324.2 99.5h.01M318.9 90.9h.01M313.0 71.1h.01M314.7 91.8h.01M325.0 102.2h.01M322.8 94.5h.01M322.8 98.8h.01M317.6 87.4h.01M321.6 85.7h.01M314.5 96.3h.01M318.6 96.2h.01M321.6 83.7h.01M311.7 90.3h.01M319.6 95.9h.01M322.7 91.4h.01M320.1 93.7h.01M309.4 64.4h.01M322.0 102.1h.01M320.5 98.3h.01M305.1 61.0h.01M317.4 100.4h.01M315.2 74.5h.01M318.3 99.5h.01M317.6 94.5h.01M322.6 92.3h.01M324.7 93.1h.01M318.6 101.8h.01M316.9 91.8h.01M315.4 67.1h.01M316.6 71.4h.01M321.1 72.6h.01M317.9 67.6h.01M324.5 86.3h.01M313.1 97.6h.01M319.5 100.2h.01M312.0 94.9h.01M321.0 102.6h.01M322.2 75.3h.01M290.1 41.5h.01M321.4 100.7h.01M313.9 84.9h.01M311.1 80.8h.01M323.7 98.1h.01M322.8 74.8h.01M321.3 92.5h.01M315.2 67.2h.01M320.9 91.2h.01M322.1 102.1h.01M306.0 73.3h.01M323.7 87.1h.01M310.9 63.0h.01M313.6 80.3h.01M318.0 97.2h.01M318.9 91.7h.01M314.6 79.5h.01M322.8 92.2h.01M308.7 71.6h.01M323.3 102.7h.01M315.0 90.6h.01M313.9 96.9h.01M322.2 72.4h.01M322.1 90.8h.01M311.9 68.7h.01M318.7 87.0h.01M318.8 89.2h.01M322.1 92.8h.01M313.4 84.0h.01M321.4 96.9h.01M318.8 91.4h.01M318.4 97.0h.01M315.8 55.0h.01M325.1 101.6h.01M314.1 93.7h.01M324.6 98.1h.01M315.8 96.7h.01M317.9 76.3h.01M322.2 101.8h.01M317.9 80.8h.01M318.7 97.1h.01M321.2 102.2h.01M319.1 93.1h.01M308.1 62.4h.01M323.1 94.7h.01M320.9 88.0h.01M321.2 96.6h.01M321.6 96.2h.01M316.4 83.0h.01M303.3 74.9h.01M324.0 88.3h.01M320.8 87.0h.01M320.8 74.3h.01M317.5 96.9h.01M316.6 70.3h.01M322.8 77.5h.01M312.7 95.4h.01M316.9 98.7h.01M316.9 98.9h.01M315.5 54.6h.01M322.8 101.5h.01M317.9 90.5h.01M316.4 99.1h.01M324.1 98.7h.01M317.7 68.6h.01M320.0 97.3h.01M319.3 89.0h.01M314.8 93.6h.01M317.4 98.2h.01M316.4 91.0h.01M314.3 86.2h.01M320.5 97.4h.01M322.6 100.6h.01M318.7 68.5h.01M309.2 67.8h.01M301.3 58.4h.01M320.9 99.3h.01M309.6 87.5h.01M318.7 82.3h.01M312.8 54.1h.01M319.3 95.7h.01M306.1 69.3h.01M318.2 97.3h.01M303.3 74.0h.01M321.9 98.5h.01M317.2 81.8h.01M301.0 66.5h.01M320.9 96.2h.01M314.5 66.2h.01M319.3 96.7h.01M312.5 78.3h.01M318.4 82.1h.01M313.1 77.2h.01M312.6 84.5h.01M300.7 53.8h.01M323.3 93.9h.01M311.7 86.7h.01M317.6 80.6h.01M324.1 99.8h.01M321.2 91.7h.01M316.4 86.4h.01M319.4 76.1h.01M309.4 80.2h.01M302.8 63.0h.01M318.8 99.0h.01M312.1 89.8h.01M320.7 101.6h.01M323.3 78.6h.01M315.8 90.1h.01M313.6 74.3h.01M315.5 87.4h.01M317.8 79.3h.01M319.2 91.8h.01M323.6 93.3h.01M305.2 78.8h.01M320.4 101.1h.01M321.2 94.6h.01M312.7 90.4h.01M317.9 68.3h.01M320.4 57.5h.01M323.4 99.5h.01M316.2 68.4h.01M321.4 102.1h.01M324.2 97.2h.01M298.0 60.8h.01M322.3 102.2h.01M312.8 51.1h.01M315.7 90.9h.01M322.2 71.4h.01M314.1 87.5h.01M315.6 90.5h.01M316.4 79.9h.01M319.5 97.4h.01M312.8 89.7h.01M323.5 102.0h.01M315.3 59.1h.01M314.6 94.0h.01M319.7 79.5h.01M310.7 96.4h.01M320.0 101.0h.01M324.2 98.1h.01M318.0 60.9h.01M318.5 87.7h.01M310.2 74.3h.01M316.7 90.7h.01M323.3 84.9h.01M318.5 91.8h.01M319.1 101.4h.01M316.8 75.9h.01M317.1 70.0h.01M323.0 89.6h.01M311.9 24.8h.01M320.2 92.2h.01M319.2 93.3h.01M318.8 78.3h.01M307.8 94.5h.01M296.2 85.1h.01M304.9 66.0h.01M309.9 89.8h.01M319.3 95.6h.01M320.8 86.6h.01M316.3 95.5h.01M313.9 97.2h.01M322.7 85.3h.01M316.9 83.6h.01M324.2 101.1h.01M321.7 98.6h.01M313.7 89.2h.01M321.1 100.2h.01M319.2 98.6h.01M324.7 92.4h.01M315.0 82.0h.01M317.0 82.5h.01M304.7 73.6h.01M306.3 70.4h.01M307.5 55.0h.01M324.6 93.7h.01M322.8 71.3h.01M317.8 100.2h.01M320.0 93.0h.01M317.4 97.4h.01M324.9 101.8h.01M315.5 94.0h.01M318.5 101.3h.01M318.7 92.7h.01M324.4 94.4h.01M317.8 49.9h.01M317.8 83.6h.01M319.7 90.5h.01M323.3 83.3h.01M323.8 93.2h.01M320.4 91.2h.01M320.3 98.4h.01M324.8 101.4h.01M321.5 102.0h.01M313.4 83.8h.01M316.0 91.6h.01M311.5 77.2h.01M317.8 92.6h.01M319.5 87.0h.01M314.2 100.5h.01M321.3 91.3h.01M311.0 88.1h.01M323.8 102.4h.01M307.9 74.7h.01M306.9 82.5h.01M309.8 67.7h.01M312.1 86.3h.01M324.3 98.6h.01M312.6 80.9h.01M320.7 99.1h.01M317.8 90.5h.01M318.4 97.3h.01M312.0 86.6h.01M301.3 71.2h.01M317.4 97.9h.01M321.6 88.5h.01M300.7 54.7h.01M311.9 77.1h.01M319.5 102.0h.01M303.1 41.5h.01M322.2 93.2h.01M318.3 91.4h.01M322.4 96.2h.01M321.6 91.5h.01M323.3 86.1h.01M318.9 75.4h.01M306.9 74.4h.01M321.9 96.2h.01M323.4 92.7h.01M310.6 62.3h.01M320.9 99.4h.01M310.2 83.5h.01M311.6 82.2h.01M316.0 76.7h.01M317.9 78.2h.01M318.4 75.3h.01M317.2 93.6h.01M321.9 99.3h.01M319.0 83.7h.01M314.8 70.8h.01M321.7 94.3h.01M315.4 90.9h.01M315.9 100.0h.01M317.8 80.6h.01M317.6 89.6h.01M321.0 101.9h.01M312.7 66.3h.01M313.5 97.9h.01M324.2 80.8h.01M317.9 71.9h.01M323.0 93.9h.01M323.6 88.2h.01M317.7 98.1h.01M305.3 68.4h.01M323.7 77.3h.01M319.2 78.3h.01M316.7 72.6h.01M319.1 52.6h.01M318.1 96.1h.01M319.6 98.7h.01M317.0 85.1h.01M318.6 100.2h.01M317.1 84.2h.01M320.5 92.5h.01M295.1 37.3h.01M314.6 88.1h.01M318.8 101.2h.01M323.0 81.1h.01M321.7 84.5h.01M317.4 90.5h.01M317.3 52.6h.01M323.5 72.4h.01M322.9 93.3h.01M318.0 73.3h.01M324.7 93.3h.01M313.2 92.8h.01M316.5 75.7h.01M319.8 89.7h.01M312.5 87.0h.01M305.6 59.3h.01M313.8 89.0h.01M316.0 74.2h.01M318.6 100.1h.01M321.1 92.5h.01M310.8 84.5h.01M318.4 94.9h.01M313.4 59.9h.01M317.1 93.5h.01M321.1 99.2h.01M317.4 61.6h.01M323.6 93.2h.01M305.6 70.2h.01M313.7 86.9h.01M313.0 92.7h.01M324.2 100.4h.01M307.6 76.5h.01M293.2 25.8h.01M301.8 93.8h.01M312.6 59.4h.01M317.1 76.5h.01M308.1 77.0h.01M323.2 94.2h.01M302.1 38.2h.01M319.5 98.1h.01M318.2 84.1h.01M292.8 48.9h.01M316.9 91.2h.01M319.5 99.4h.01M319.2 82.4h.01M325.1 100.2h.01M320.1 87.2h.01M310.4 94.3h.01M291.8 58.8h.01M312.7 88.7h.01M308.8 78.2h.01M308.0 80.6h.01M315.4 67.1h.01M318.8 62.7h.01M321.1 101.5h.01M324.2 93.9h.01M322.0 98.9h.01M324.7 92.5h.01M314.5 80.2h.01M316.9 89.9h.01M317.2 100.4h.01M310.7 94.8h.01M322.8 91.9h.01M321.0 101.1h.01M321.0 102.5h.01M319.4 75.7h.01M314.6 98.0h.01M316.1 59.0h.01M321.3 73.7h.01M319.1 101.6h.01M320.0 89.5h.01M310.0 86.2h.01M317.5 95.6h.01M309.7 61.4h.01M323.9 92.5h.01M321.3 68.0h.01M305.5 56.0h.01M320.3 83.1h.01M312.5 79.6h.01M310.9 80.1h.01M316.5 51.1h.01M322.0 82.3h.01M322.3 85.2h.01M314.3 80.9h.01M324.6 98.7h.01M313.3 81.9h.01M321.8 101.6h.01M322.7 100.9h.01M315.7 78.7h.01M324.3 100.8h.01M316.5 86.5h.01M315.4 96.4h.01M320.7 78.1h.01M321.0 88.2h.01M312.7 86.8h.01M319.1 94.3h.01M305.8 59.9h.01M316.1 86.7h.01M316.2 99.2h.01M324.0 102.6h.01M307.7 44.3h.01M319.8 84.4h.01M304.6 72.4h.01M302.6 71.9h.01M319.6 71.6h.01M324.3 95.3h.01M308.3 83.4h.01M321.0 97.1h.01M325.0 94.9h.01M320.5 98.8h.01M322.6 90.7h.01M312.9 75.8h.01M321.5 100.8h.01M321.1 94.2h.01M319.6 81.0h.01M321.9 97.6h.01M322.0 101.8h.01M296.4 58.7h.01M317.1 89.0h.01M317.8 95.9h.01M318.7 94.8h.01M321.0 96.8h.01M323.3 90.0h.01M324.7 100.0h.01M308.2 73.2h.01M324.4 93.2h.01M321.1 99.8h.01M319.2 77.3h.01M313.5 86.4h.01M315.5 66.5h.01M306.0 59.4h.01M321.6 93.8h.01M318.3 85.1h.01M312.8 77.6h.01M319.9 99.1h.01M316.0 92.2h.01M319.3 99.6h.01M316.8 92.6h.01M324.7 97.0h.01M322.4 95.8h.01M315.6 91.0h.01M315.9 82.4h.01M320.7 98.6h.01M314.2 74.5h.01M318.3 95.9h.01M315.9 83.2h.01M305.9 38.5h.01M315.2 41.7h.01M318.9 99.4h.01M315.7 93.2h.01M308.5 82.5h.01M317.0 67.7h.01M316.6 91.7h.01M317.8 88.8h.01M320.2 89.6h.01M315.7 88.5h.01M280.2 26.0h.01M317.6 88.2h.01M320.4 94.3h.01M319.3 86.7h.01M320.3 96.0h.01M324.3 82.7h.01M314.3 96.9h.01M318.3 52.8h.01M320.3 59.5h.01M319.2 68.9h.01M323.2 100.3h.01M324.7 98.0h.01M324.7 100.0h.01M315.9 99.0h.01M318.8 100.8h.01M316.8 84.4h.01M309.9 75.0h.01M317.7 98.5h.01M312.0 79.9h.01M320.4 97.1h.01M303.4 71.4h.01M319.7 97.9h.01M317.2 98.3h.01M323.0 96.8h.01M323.2 93.4h.01M318.4 93.2h.01M310.3 78.2h.01M310.8 60.5h.01M319.0 77.5h.01M303.7 80.9h.01M318.7 100.9h.01M303.5 68.9h.01M318.0 94.4h.01M302.8 72.5h.01M320.5 98.3h.01M322.5 102.3h.01M320.6 101.6h.01M323.2 100.7h.01M321.6 82.2h.01M307.9 73.8h.01M313.6 67.6h.01M322.1 95.1h.01M309.0 90.1h.01M296.5 56.7h.01M316.2 79.4h.01M316.0 95.3h.01M318.6 91.4h.01M321.5 100.7h.01M313.5 82.7h.01M323.2 98.1h.01M311.8 75.9h.01M316.6 76.4h.01M322.4 102.0h.01M315.0 71.9h.01M323.0 98.6h.01M319.9 75.0h.01M321.1 99.9h.01M316.2 59.7h.01M317.3 79.8h.01M320.2 95.6h.01M318.9 92.1h.01M318.7 96.0h.01M322.8 89.3h.01M320.2 83.1h.01M324.3 93.9h.01M312.6 71.0h.01M323.1 74.3h.01M318.6 94.1h.01M320.8 99.0h.01M321.7 88.9h.01M318.3 97.3h.01M307.1 52.3h.01M318.7 77.7h.01M308.6 59.2h.01M319.6 99.1h.01M313.2 78.2h.01M317.9 99.1h.01M321.4 98.9h.01M324.0 88.1h.01M319.4 95.5h.01M321.5 85.6h.01M318.2 100.6h.01M314.3 75.3h.01M322.9 77.8h.01M318.9 99.2h.01M319.8 91.4h.01M320.8 99.5h.01M314.5 84.0h.01M316.8 77.9h.01M324.2 91.1h.01M320.6 90.3h.01M320.9 101.0h.01M323.2 98.2h.01M309.9 59.5h.01M325.0 96.6h.01M309.3 92.0h.01M305.9 59.4h.01M316.4 69.3h.01M321.6 90.9h.01M320.9 99.1h.01M323.8 97.3h.01M320.8 100.2h.01M315.0 88.7h.01M322.4 76.9h.01M318.3 93.0h.01M318.8 86.9h.01M316.3 94.6h.01M320.1 65.5h.01M316.9 93.9h.01M319.1 87.7h.01M322.6 94.3h.01M308.1 85.0h.01M319.7 98.8h.01M314.8 88.5h.01M317.9 98.5h.01M320.7 93.0h.01M303.7 64.6h.01M318.7 94.8h.01M318.7 87.6h.01M315.2 66.0h.01M315.7 99.0h.01M299.2 63.6h.01M320.7 96.8h.01M307.3 53.8h.01M319.5 100.4h.01M317.5 101.9h.01M321.5 96.4h.01M300.2 56.0h.01M316.5 92.6h.01M312.5 63.3h.01M314.8 90.3h.01M318.9 88.9h.01M311.9 87.4h.01M310.0 86.7h.01M311.1 88.7h.01M321.4 100.6h.01M313.1 88.0h.01M323.9 95.1h.01M310.5 48.6h.01M313.5 76.3h.01M324.3 85.3h.01M320.8 90.4h.01M300.9 44.8h.01M314.5 90.6h.01M320.6 91.9h.01M315.0 86.6h.01M309.3 83.6h.01M321.2 93.1h.01M311.7 79.0h.01M318.1 91.2h.01M323.6 83.5h.01M310.5 81.2h.01M319.6 100.5h.01M320.9 80.1h.01M324.7 96.3h.01M320.2 85.0h.01M308.6 91.9h.01M317.3 87.7h.01M318.6 82.1h.01M321.3 95.2h.01M319.1 101.3h.01M319.6 95.7h.01M313.5 82.5h.01M317.7 83.7h.01M322.3 101.5h.01M319.5 97.3h.01M308.7 89.0h.01M313.8 97.3h.01M314.9 79.3h.01M314.8 87.1h.01M321.9 94.4h.01M323.3 94.1h.01M324.5 92.8h.01M322.0 98.8h.01M322.0 91.0h.01M310.7 49.1h.01M319.9 93.7h.01M318.5 74.0h.01M319.6 87.9h.01M323.0 97.9h.01M323.1 96.0h.01M319.0 72.6h.01M316.6 80.0h.01M318.3 49.2h.01M315.7 66.2h.01M320.8 84.3h.01M313.8 92.2h.01M321.7 98.7h.01M313.7 77.3h.01M323.6 83.4h.01M315.9 93.0h.01M318.8 83.6h.01M324.3 90.3h.01M322.5 96.8h.01M319.3 98.2h.01M322.2 97.3h.01M315.2 83.4h.01M313.2 78.0h.01M324.5 101.9h.01M321.2 86.6h.01M315.8 72.6h.01M322.7 97.8h.01M321.0 63.5h.01M314.8 88.5h.01M321.4 81.5h.01M322.0 99.5h.01M317.6 56.2h.01M315.4 89.6h.01M311.3 91.1h.01M311.8 97.4h.01M318.8 100.9h.01M316.4 90.6h.01M313.5 73.9h.01M321.4 95.5h.01M304.9 55.0h.01M317.7 99.2h.01M319.9 86.1h.01M303.1 65.7h.01M314.4 84.1h.01M316.2 87.2h.01M319.6 95.2h.01M315.4 90.7h.01M324.5 102.7h.01M324.8 101.4h.01M308.5 51.3h.01M324.2 102.6h.01M318.3 84.2h.01M322.8 76.1h.01M321.1 96.3h.01M320.4 99.9h.01M321.8 86.3h.01M308.9 58.9h.01M307.0 60.2h.01M319.1 95.1h.01M324.8 101.8h.01M314.3 97.4h.01M322.1 82.6h.01M313.6 52.0h.01M322.6 97.7h.01M316.9 93.9h.01M322.1 90.0h.01M322.0 99.1h.01M319.7 84.3h.01M316.2 85.1h.01M315.3 82.9h.01M322.2 101.7h.01M315.6 88.3h.01M322.2 88.6h.01M321.4 85.7h.01M319.1 93.3h.01M316.0 87.9h.01M322.2 98.4h.01M317.1 89.0h.01M320.5 84.9h.01M314.5 97.5h.01M321.0 85.5h.01M304.7 52.1h.01M316.1 85.1h.01M322.9 99.5h.01M321.6 89.2h.01M317.9 100.2h.01M317.0 88.9h.01M320.1 97.9h.01M304.4 74.4h.01M320.6 87.3h.01M321.3 74.0h.01M314.5 83.4h.01M324.3 101.4h.01M321.3 98.5h.01M323.9 91.7h.01M292.5 46.7h.01M323.1 99.1h.01M323.1 97.3h.01M316.5 91.3h.01M317.4 78.4h.01M307.9 85.1h.01M322.8 93.5h.01M309.2 73.5h.01M319.8 96.3h.01M315.5 80.5h.01M308.4 74.7h.01M323.4 96.9h.01M315.3 75.7h.01M319.8 92.8h.01M319.1 93.2h.01M309.8 61.5h.01M315.5 89.5h.01M321.5 102.2h.01M315.7 75.2h.01M316.7 69.5h.01M324.8 94.5h.01M314.9 96.5h.01M323.6 100.8h.01M312.7 89.1h.01M308.8 76.6h.01M323.0 80.0h.01M309.4 70.2h.01M324.1 95.6h.01M308.8 71.2h.01M314.7 76.0h.01M323.1 100.3h.01M314.1 76.7h.01M318.2 84.9h.01M316.6 95.3h.01M317.9 100.7h.01M318.4 99.5h.01M320.9 102.1h.01M311.2 90.0h.01M318.2 100.5h.01M317.6 90.2h.01M306.8 64.7h.01M315.0 76.8h.01M324.2 98.9h.01M322.0 95.9h.01M320.8 91.4h.01M325.0 100.4h.01M315.2 76.1h.01M322.3 95.2h.01M308.4 48.9h.01M321.0 101.7h.01M319.7 92.0h.01M314.5 89.3h.01M319.6 98.0h.01M321.1 90.8h.01M321.5 76.4h.01M319.4 97.0h.01M319.8 80.7h.01M316.0 70.8h.01M323.9 94.9h.01M315.8 87.2h.01M321.4 99.6h.01M324.6 84.9h.01M323.9 99.0h.01M316.9 73.0h.01M324.1 102.3h.01M318.8 70.6h.01M324.3 102.0h.01M307.1 78.2h.01M312.0 83.1h.01M318.4 68.6h.01M313.0 76.9h.01M324.2 94.6h.01M320.6 101.4h.01M317.0 64.6h.01M311.3 86.9h.01M323.7 96.4h.01M317.8 73.9h.01M323.0 102.6h.01M320.4 82.3h.01M324.8 93.5h.01M319.1 99.5h.01M311.3 78.3h.01M312.7 74.7h.01M309.0 78.3h.01M318.9 102.0h.01M315.8 61.4h.01M321.6 99.9h.01M307.7 59.5h.01M310.2 90.7h.01M323.2 87.8h.01M305.8 78.8h.01M301.3 39.2h.01M317.4 96.2h.01M314.5 80.5h.01M316.0 91.2h.01M324.4 89.6h.01M318.2 75.4h.01M321.5 65.8h.01M319.8 92.2h.01M311.9 80.9h.01M317.5 96.1h.01M320.4 102.1h.01M317.3 94.4h.01M301.0 69.3h.01M312.7 69.4h.01M320.0 101.3h.01M321.0 92.3h.01M314.9 89.3h.01M315.4 100.4h.01M313.8 85.7h.01M315.4 92.4h.01M323.1 98.2h.01M322.4 79.9h.01M313.3 53.8h.01M319.2 99.3h.01M321.2 96.2h.01M316.4 81.8h.01M317.2 96.5h.01M319.6 92.2h.01M315.2 83.5h.01M315.6 72.5h.01M321.9 102.3h.01M323.2 88.1h.01M308.1 55.7h.01M318.0 98.1h.01M322.4 97.3h.01M320.1 101.2h.01M314.8 77.7h.01M316.7 100.9h.01M318.4 69.2h.01M319.9 91.9h.01M322.7 84.6h.01M321.7 93.6h.01M315.1 78.0h.01M323.6 93.1h.01M311.6 92.0h.01M317.4 79.7h.01M310.5 81.0h.01M324.7 95.6h.01M308.7 79.6h.01M324.9 100.5h.01M311.8 50.5h.01M319.2 86.8h.01M305.6 69.9h.01M323.2 99.3h.01M324.7 98.5h.01M315.6 63.3h.01M313.7 95.7h.01M309.1 54.7h.01M317.8 91.1h.01M322.4 97.9h.01M314.4 83.9h.01M321.3 101.1h.01M295.4 54.9h.01M320.2 95.4h.01M306.7 61.1h.01M309.3 80.5h.01M317.9 79.0h.01M316.7 84.6h.01M317.4 87.8h.01M324.1 92.4h.01M303.0 43.8h.01M317.2 101.3h.01M322.3 98.6h.01M324.9 100.5h.01M318.6 75.3h.01M319.1 92.0h.01M314.9 98.5h.01M322.0 97.2h.01M313.4 83.0h.01M317.5 90.0h.01M321.8 99.2h.01M314.4 81.2h.01M312.3 75.2h.01M309.8 70.7h.01M308.5 69.8h.01M321.0 100.8h.01M311.4 69.5h.01M322.6 72.3h.01M317.7 88.2h.01M321.6 79.3h.01M321.7 97.2h.01M312.7 79.5h.01M316.9 80.5h.01M316.1 101.1h.01M315.4 98.5h.01M299.6 64.1h.01M322.9 100.5h.01M309.9 97.2h.01M320.1 50.6h.01M315.3 69.4h.01M315.1 73.1h.01M317.3 80.0h.01M315.3 97.7h.01M311.8 87.6h.01M318.0 80.3h.01M314.6 84.0h.01M323.9 95.9h.01M315.0 95.4h.01M311.0 89.4h.01M317.7 99.8h.01M325.0 99.7h.01M314.4 95.1h.01M317.9 100.6h.01M315.9 33.8h.01M321.5 66.6h.01M317.2 92.3h.01M316.5 90.4h.01M316.6 89.7h.01M323.3 81.7h.01M310.9 53.0h.01M318.6 88.1h.01M309.7 84.7h.01M320.7 99.2h.01M318.2 89.6h.01M320.8 88.6h.01M320.6 94.4h.01M323.2 102.0h.01M316.2 74.2h.01M319.7 86.0h.01M319.5 99.0h.01M319.7 102.3h.01M321.8 92.0h.01M324.5 102.1h.01M310.3 67.9h.01M309.3 76.1h.01M322.2 92.8h.01M319.3 94.5h.01M319.3 79.6h.01M312.6 77.4h.01M318.4 99.4h.01M309.2 79.5h.01M310.2 71.8h.01M322.3 84.9h.01M313.1 88.1h.01M318.1 99.7h.01M324.7 95.2h.01M322.1 100.5h.01M318.4 90.8h.01M321.0 81.0h.01M324.9 99.0h.01M322.8 102.1h.01M323.3 85.9h.01M323.3 81.9h.01M313.8 62.4h.01M325.2 102.7h.01M317.9 97.1h.01M315.2 50.3h.01M318.0 101.0h.01M321.1 91.1h.01M319.0 100.6h.01M309.2 55.5h.01M300.5 66.4h.01M315.3 81.3h.01M318.7 92.7h.01M313.1 87.6h.01M320.6 93.2h.01M316.7 85.5h.01M307.7 73.9h.01M312.7 85.6h.01M323.3 76.9h.01M316.4 96.0h.01M323.5 78.9h.01M322.4 81.3h.01M318.8 96.1h.01M323.6 101.8h.01M320.3 97.0h.01M301.5 43.7h.01M322.5 100.6h.01M322.1 102.4h.01M315.0 68.6h.01M306.5 63.6h.01M311.3 81.9h.01M323.2 93.8h.01M314.1 89.8h.01M320.8 91.5h.01M313.1 88.8h.01M304.4 74.6h.01M317.4 87.8h.01M323.5 101.4h.01M306.7 66.8h.01M318.2 89.6h.01M319.0 96.3h.01M306.0 64.2h.01M322.5 72.1h.01M307.8 77.1h.01M318.7 95.2h.01M319.4 95.1h.01M314.7 91.4h.01M306.5 78.0h.01M301.8 49.1h.01M319.5 86.1h.01M310.7 52.5h.01M313.2 89.9h.01M318.7 89.7h.01M321.0 85.2h.01M303.2 47.8h.01M315.8 83.3h.01M319.2 87.6h.01M321.8 85.1h.01M321.3 98.3h.01M321.0 100.6h.01M318.6 99.3h.01M311.4 61.6h.01M313.5 67.0h.01M311.4 62.8h.01M318.2 88.5h.01M317.8 93.0h.01M313.1 88.5h.01M319.6 61.3h.01M320.1 101.9h.01M322.4 87.7h.01M317.4 94.6h.01M314.9 63.9h.01M313.1 82.8h.01M314.3 58.3h.01M311.7 92.2h.01M321.7 89.0h.01M322.3 84.4h.01M321.1 98.5h.01M312.0 97.4h.01M317.4 89.3h.01M297.7 63.3h.01M319.7 73.7h.01M315.1 88.0h.01M311.1 71.9h.01M301.0 64.7h.01M315.2 88.9h.01M315.7 90.9h.01M324.2 99.4h.01M311.4 76.8h.01M324.1 95.0h.01M322.5 92.5h.01M321.6 96.8h.01M324.0 96.2h.01M322.0 77.6h.01M313.2 82.4h.01M320.0 81.1h.01M322.4 101.0h.01M317.5 95.8h.01M321.0 95.7h.01M317.0 98.5h.01M314.5 71.3h.01M324.7 100.3h.01M318.3 99.6h.01M315.9 94.0h.01M312.6 82.3h.01M310.3 41.8h.01M317.7 86.6h.01M304.7 60.0h.01M321.0 79.9h.01M320.3 96.6h.01M320.4 98.6h.01M317.2 101.9h.01M321.3 97.2h.01M316.4 100.3h.01M313.1 57.1h.01M317.8 80.9h.01M319.0 97.2h.01M311.6 86.6h.01M317.3 90.2h.01M316.4 90.7h.01M304.0 46.9h.01M324.1 86.8h.01M322.3 94.0h.01M324.1 87.2h.01M315.2 90.4h.01M318.5 90.1h.01M311.5 79.7h.01M324.4 100.0h.01M318.1 82.1h.01M317.7 74.2h.01M321.2 91.2h.01M319.9 101.1h.01M313.9 76.7h.01M321.1 94.3h.01M303.7 35.0h.01M320.4 98.9h.01M321.8 101.3h.01M320.9 102.5h.01M318.7 101.3h.01M308.6 54.3h.01M318.4 87.5h.01M309.0 90.4h.01M313.0 84.1h.01M323.6 100.7h.01M321.8 102.0h.01M320.9 68.8h.01M311.1 88.5h.01M318.6 98.4h.01M311.3 81.7h.01M316.9 87.9h.01M319.9 98.4h.01M313.4 94.3h.01M320.5 101.9h.01M314.0 67.8h.01M323.8 99.0h.01M321.0 81.1h.01M310.8 86.0h.01M315.0 72.7h.01M324.6 96.4h.01M310.7 81.2h.01M317.1 100.5h.01M320.3 98.3h.01M318.2 92.5h.01M321.1 101.9h.01M321.6 98.5h.01M322.1 100.9h.01M321.5 89.7h.01M309.8 82.6h.01M314.9 67.0h.01M320.2 59.1h.01M318.2 95.4h.01M306.3 79.7h.01M322.7 97.4h.01M316.3 98.3h.01M320.2 98.1h.01M324.1 102.7h.01M316.7 100.4h.01M313.2 92.6h.01M306.7 56.4h.01M323.3 100.2h.01M321.5 97.7h.01M320.1 96.0h.01M316.4 84.9h.01M318.2 78.5h.01M314.1 92.7h.01M310.5 62.1h.01M318.5 100.5h.01M323.5 91.3h.01M319.2 102.3h.01M317.0 99.7h.01M308.4 83.0h.01M320.8 99.6h.01M319.2 95.8h.01M317.3 83.4h.01M324.9 91.8h.01M310.2 60.4h.01M311.0 74.9h.01M307.3 59.8h.01M315.9 86.1h.01M316.8 95.9h.01M314.0 94.9h.01M320.1 79.8h.01M317.0 58.4h.01M320.2 78.3h.01M323.0 82.2h.01M312.4 93.0h.01M314.9 92.7h.01M315.9 93.7h.01M315.1 76.0h.01M317.9 97.1h.01M309.7 85.5h.01M309.2 36.9h.01M307.2 74.2h.01M314.7 90.0h.01M320.2 97.2h.01M321.9 92.3h.01M312.1 93.9h.01M314.1 92.8h.01M317.1 94.2h.01M315.0 79.1h.01M323.5 93.7h.01M317.0 101.7h.01M319.7 101.0h.01M324.4 87.7h.01M317.4 73.7h.01M310.2 77.6h.01M318.2 71.1h.01M319.8 81.6h.01M320.0 97.9h.01M301.2 31.9h.01M318.0 84.0h.01M323.9 97.0h.01M323.3 97.9h.01M315.7 80.7h.01M323.2 99.6h.01M323.2 102.3h.01M316.7 95.6h.01M322.4 80.0h.01M320.2 97.7h.01M314.8 97.6h.01M302.5 86.1h.01M318.6 101.6h.01M311.1 94.1h.01M314.5 89.8h.01M320.6 97.6h.01M323.5 100.4h.01M317.6 99.4h.01M312.4 82.1h.01M306.8 67.9h.01M307.5 63.0h.01M311.8 83.1h.01M322.2 100.8h.01M317.5 101.5h.01M320.0 91.3h.01M322.8 97.4h.01M317.3 86.8h.01M308.0 55.8h.01M323.6 95.1h.01M317.8 87.1h.01M311.0 47.8h.01M304.9 28.6h.01M309.2 83.3h.01M319.5 48.3h.01M313.4 70.2h.01M321.5 95.4h.01M297.6 64.0h.01M319.9 94.2h.01M319.5 64.8h.01M321.5 101.0h.01M317.6 87.5h.01M317.6 58.3h.01M309.3 90.4h.01M313.6 92.9h.01M322.5 99.7h.01M304.9 83.9h.01M321.3 86.9h.01M318.7 97.8h.01M320.5 98.4h.01M321.3 100.3h.01M313.3 77.6h.01M322.4 101.3h.01M322.4 100.4h.01M317.2 95.0h.01M316.9 76.0h.01M324.0 94.3h.01M323.5 101.8h.01M304.9 75.2h.01M324.8 92.3h.01M310.4 74.6h.01M317.8 97.1h.01M304.0 66.6h.01M323.7 99.8h.01M315.5 68.5h.01M316.8 96.1h.01M318.0 100.5h.01M322.7 99.2h.01M297.6 41.3h.01M320.8 94.2h.01M317.6 93.5h.01M320.9 100.4h.01M315.8 97.3h.01M317.7 100.1h.01M316.7 91.0h.01M314.4 95.4h.01M321.2 102.5h.01M312.5 87.2h.01M306.3 79.7h.01M322.8 86.4h.01M319.5 100.3h.01M313.1 51.2h.01M323.6 88.5h.01M323.3 99.0h.01M319.3 89.5h.01M320.5 98.0h.01M312.3 27.9h.01M314.8 93.8h.01M324.2 99.1h.01M318.1 98.9h.01M323.5 87.3h.01M322.8 100.1h.01M316.3 101.6h.01M318.0 93.0h.01M314.6 84.7h.01M320.1 100.3h.01M315.5 81.6h.01M316.6 85.0h.01M317.2 85.7h.01M308.5 95.0h.01M317.0 80.9h.01M318.8 101.7h.01M316.7 82.5h.01M297.4 38.4h.01M318.1 93.9h.01M308.8 67.5h.01M310.0 81.6h.01M318.7 97.8h.01M323.3 96.6h.01M316.3 98.6h.01M321.0 99.4h.01M319.7 66.9h.01M315.9 88.2h.01M311.1 75.8h.01M317.9 100.8h.01M324.8 99.6h.01M314.2 59.8h.01M318.7 92.4h.01M315.6 84.3h.01M305.8 57.1h.01M311.4 71.6h.01M315.7 92.9h.01M322.6 97.6h.01M323.2 100.0h.01M325.1 101.9h.01M322.9 95.7h.01M313.8 86.2h.01M312.7 82.9h.01M320.1 92.6h.01M320.0 88.5h.01M316.4 58.5h.01M300.9 63.3h.01M314.7 74.6h.01M316.2 68.1h.01M322.2 100.8h.01M317.5 53.5h.01M319.2 95.4h.01M322.7 92.6h.01M311.3 64.6h.01M315.4 88.8h.01M321.5 96.9h.01M323.6 77.4h.01M323.1 89.3h.01M311.2 91.0h.01M319.9 79.1h.01M321.0 81.0h.01M320.8 94.7h.01M316.7 82.2h.01M316.4 60.3h.01M314.4 95.2h.01M322.8 87.0h.01M320.4 94.9h.01M318.5 61.6h.01M322.6 102.2h.01M324.9 101.4h.01M320.2 85.8h.01M321.2 87.0h.01M310.9 76.7h.01M321.5 102.2h.01M310.8 45.1h.01M322.1 91.5h.01M315.8 101.3h.01M312.8 92.2h.01M317.4 93.9h.01M322.6 94.1h.01M320.4 97.5h.01M322.6 95.6h.01M317.2 90.5h.01M321.9 96.3h.01M310.4 78.2h.01M313.5 89.9h.01M315.2 72.5h.01M311.7 92.6h.01M322.7 99.6h.01M313.2 79.4h.01M317.3 87.6h.01M321.0 96.9h.01M317.1 89.2h.01M322.4 90.9h.01M324.9 101.1h.01M309.9 77.5h.01M317.9 101.0h.01M317.7 101.3h.01M323.6 102.0h.01M323.8 89.3h.01M319.7 82.1h.01M319.7 96.1h.01M316.7 77.8h.01M314.4 98.2h.01M316.0 84.9h.01M319.2 96.8h.01M314.8 82.4h.01M321.9 96.4h.01M320.9 95.5h.01M319.0 100.1h.01M321.2 89.7h.01M318.6 83.0h.01M302.7 53.2h.01M315.8 96.3h.01M308.6 49.0h.01M324.0 97.4h.01M319.2 99.8h.01M317.8 90.3h.01M324.7 92.5h.01M318.7 91.2h.01M322.5 95.8h.01M305.0 28.2h.01M321.5 99.6h.01M318.0 89.5h.01M308.5 74.0h.01M318.4 82.4h.01M318.3 88.8h.01M318.9 97.9h.01M323.4 92.8h.01M312.9 68.1h.01M323.7 101.9h.01M319.9 83.1h.01M317.3 86.0h.01M322.1 101.8h.01M316.4 94.0h.01M318.4 93.0h.01M324.4 96.6h.01M313.6 75.9h.01M320.5 91.5h.01M319.4 86.8h.01M317.7 70.2h.01M321.2 101.1h.01M307.2 74.8h.01M309.6 55.5h.01M320.5 100.3h.01M319.7 100.2h.01M319.1 89.6h.01M307.4 78.4h.01M318.7 88.1h.01M317.9 101.9h.01M319.5 86.4h.01M315.3 91.6h.01M314.5 86.1h.01M311.4 47.7h.01M323.4 98.6h.01M321.5 102.2h.01M297.5 60.2h.01M320.9 99.8h.01M315.7 97.2h.01M309.0 73.0h.01M316.3 83.2h.01M323.6 95.6h.01M313.7 94.2h.01M321.8 92.9h.01M320.0 94.7h.01M307.3 79.7h.01M318.4 84.8h.01M316.9 87.8h.01M324.5 91.4h.01M320.4 74.6h.01M324.2 98.5h.01M306.8 71.5h.01M313.5 98.2h.01M320.6 101.9h.01M317.9 76.0h.01M321.5 99.8h.01M317.6 100.3h.01M323.9 77.2h.01M316.6 94.2h.01M319.8 91.2h.01M318.8 82.9h.01M316.3 101.0h.01M312.7 81.8h.01M323.1 99.7h.01M319.2 97.2h.01M320.5 83.2h.01M324.5 96.7h.01M318.3 98.5h.01M314.0 41.5h.01M324.1 85.8h.01M319.1 99.8h.01M310.5 73.0h.01M309.5 71.9h.01M311.4 95.8h.01M323.3 98.5h.01M316.8 98.3h.01M315.9 87.7h.01M309.1 80.2h.01M321.1 100.5h.01M313.4 92.4h.01M313.3 81.6h.01M319.7 88.7h.01M315.6 100.1h.01M321.3 95.6h.01M310.9 65.9h.01M316.8 71.8h.01M321.5 96.0h.01M317.7 98.5h.01M324.5 99.8h.01M318.7 98.8h.01M323.1 101.1h.01M317.2 78.5h.01M311.4 74.7h.01M322.3 81.4h.01M323.1 96.2h.01M318.0 100.6h.01M318.2 87.8h.01M310.3 83.5h.01M311.8 73.1h.01M317.0 99.3h.01M323.0 96.8h.01M311.7 92.4h.01M318.6 98.2h.01M324.5 96.6h.01M323.2 95.1h.01M314.9 76.4h.01M321.0 100.5h.01M325.1 97.0h.01M322.1 89.1h.01M312.0 75.9h.01M322.8 99.9h.01M318.3 94.2h.01M319.3 90.0h.01M323.6 96.0h.01M315.7 82.6h.01M308.0 60.4h.01M321.4 56.2h.01M320.3 97.6h.01M303.3 48.4h.01M318.0 99.9h.01M306.4 51.6h.01M321.3 94.7h.01M317.9 71.1h.01M303.5 71.7h.01M324.4 86.7h.01M322.3 100.3h.01M317.7 90.4h.01M316.4 39.0h.01M317.9 73.7h.01M315.6 65.3h.01M314.0 90.1h.01M309.6 82.8h.01M318.9 95.7h.01M317.9 78.5h.01M310.3 58.3h.01M311.9 47.9h.01M310.3 79.3h.01M322.8 99.1h.01M318.2 97.5h.01M317.5 84.6h.01M308.1 41.5h.01M323.8 102.5h.01M318.5 100.4h.01M324.6 102.6h.01M305.1 73.6h.01M318.2 96.3h.01M323.5 98.9h.01M323.8 102.1h.01M304.9 66.2h.01M314.5 77.2h.01M313.1 90.6h.01M319.9 82.7h.01M305.7 64.4h.01M321.5 88.0h.01M314.4 74.0h.01M310.5 56.0h.01M315.2 83.9h.01M312.7 62.8h.01M319.3 96.2h.01M313.7 86.4h.01M319.5 100.1h.01M322.6 102.1h.01M305.9 76.5h.01M321.7 89.0h.01M312.5 87.4h.01M318.8 99.2h.01M312.5 80.6h.01M317.1 66.9h.01M319.6 85.0h.01M322.7 100.3h.01M323.2 93.8h.01M323.1 100.8h.01M316.1 81.5h.01M321.1 99.3h.01M317.2 96.4h.01M316.9 85.1h.01M322.5 86.1h.01M315.4 99.8h.01M320.0 76.9h.01M321.9 87.0h.01M316.6 91.5h.01M314.2 73.3h.01M320.7 100.5h.01M306.9 25.3h.01M315.2 91.0h.01M319.1 84.2h.01M322.0 93.0h.01M319.4 91.1h.01M315.6 84.5h.01M313.1 74.4h.01M313.9 40.0h.01M308.0 83.8h.01M324.3 99.6h.01M294.2 36.4h.01M316.2 98.2h.01M318.2 84.8h.01M323.4 101.3h.01M318.6 86.3h.01M306.4 51.3h.01M320.6 81.4h.01M308.2 78.0h.01M322.8 86.1h.01M310.9 48.1h.01M304.4 47.6h.01M323.5 86.3h.01M319.7 84.8h.01M318.5 97.6h.01M321.6 73.1h.01M319.3 92.8h.01M320.9 78.9h.01M321.0 100.8h.01M302.9 78.5h.01M314.1 89.8h.01M313.6 85.7h.01M317.3 61.0h.01M311.5 80.9h.01M314.2 86.0h.01M318.7 90.8h.01M319.5 81.0h.01M316.0 83.1h.01M318.1 87.7h.01M304.2 43.2h.01M319.1 91.8h.01M311.9 84.2h.01M322.7 83.1h.01M319.1 99.0h.01M319.4 97.4h.01M312.1 87.3h.01M316.8 89.7h.01M317.6 89.9h.01M319.4 100.4h.01M319.8 94.9h.01M318.2 101.6h.01M322.3 93.0h.01M316.9 85.5h.01M313.9 70.3h.01M314.6 70.3h.01M305.4 66.4h.01M313.7 83.7h.01M310.3 74.0h.01M312.8 72.5h.01M318.0 94.5h.01M323.2 98.3h.01M316.6 94.5h.01M323.1 86.1h.01M313.3 80.2h.01M316.2 96.1h.01M323.9 96.0h.01M319.1 100.5h.01M322.1 99.1h.01M320.2 98.2h.01M316.5 86.1h.01M321.5 93.8h.01M314.2 84.7h.01M324.1 93.1h.01M323.4 91.0h.01M325.0 100.8h.01M315.3 61.8h.01M319.9 92.9h.01M322.6 83.8h.01M320.9 94.0h.01M324.0 82.0h.01M316.7 91.6h.01M322.4 100.2h.01M320.6 97.6h.01M316.8 89.1h.01M318.5 66.4h.01M310.8 74.8h.01M319.2 97.1h.01M314.2 77.6h.01M295.6 33.7h.01M299.8 46.2h.01M321.6 102.0h.01M317.9 99.3h.01M318.4 97.4h.01M301.1 71.4h.01M321.5 96.6h.01M307.7 65.7h.01M316.4 97.3h.01M307.3 79.1h.01M318.2 94.4h.01M319.7 89.0h.01M312.2 86.9h.01M317.0 75.1h.01M316.2 80.8h.01M319.5 63.2h.01M313.0 72.3h.01M318.1 98.0h.01M310.9 79.2h.01M319.3 94.9h.01M313.4 99.9h.01M317.6 78.1h.01M312.4 91.1h.01M312.4 99.4h.01M314.7 78.3h.01M313.3 86.4h.01M322.7 97.6h.01M310.8 77.6h.01M322.4 84.3h.01M318.9 75.0h.01M313.8 99.2h.01M320.7 92.2h.01M324.2 102.6h.01M318.5 99.0h.01M314.0 85.4h.01M313.5 86.4h.01M318.8 99.2h.01M317.1 42.4h.01M307.1 76.7h.01M318.2 100.5h.01M311.9 58.5h.01M315.4 76.9h.01M302.0 57.0h.01M317.7 82.5h.01M310.1 77.0h.01M319.9 92.7h.01M316.5 84.5h.01M303.3 51.2h.01M315.8 93.3h.01M310.1 76.1h.01M324.6 90.3h.01M318.1 89.2h.01M313.5 70.4h.01M319.9 100.4h.01M308.9 96.5h.01M317.3 91.6h.01M322.1 93.3h.01M309.0 64.0h.01M322.7 96.7h.01M323.6 83.4h.01M318.5 75.1h.01M323.2 76.0h.01M314.0 88.0h.01M315.9 88.0h.01M302.4 83.0h.01M317.3 82.8h.01M320.2 84.1h.01M320.4 92.8h.01M321.8 100.4h.01M319.3 101.1h.01M315.0 89.5h.01M318.1 80.2h.01M320.5 89.9h.01M320.0 88.5h.01M316.7 95.3h.01M316.7 90.6h.01M311.9 75.4h.01M316.0 86.8h.01M319.1 73.0h.01M314.1 91.7h.01M321.6 101.9h.01M312.6 86.0h.01M314.1 94.1h.01M310.6 85.2h.01M322.7 86.5h.01M308.0 82.3h.01M315.5 65.7h.01M310.2 54.2h.01M313.9 94.4h.01M324.5 101.7h.01M319.5 96.9h.01M297.8 41.6h.01M314.3 98.4h.01M313.7 75.8h.01M321.2 91.0h.01M319.7 101.0h.01M319.9 96.0h.01M315.4 98.7h.01M322.4 99.4h.01M322.6 102.2h.01M317.3 91.2h.01M313.0 91.3h.01M314.2 91.7h.01M321.1 87.6h.01M301.5 59.3h.01M319.6 61.7h.01M315.5 88.1h.01M323.4 97.8h.01M316.2 86.9h.01M310.8 89.1h.01M314.0 84.6h.01M321.5 99.8h.01M312.0 85.5h.01M315.3 97.2h.01M316.6 95.2h.01M321.1 95.5h.01M316.2 92.7h.01M319.6 92.7h.01M318.1 100.8h.01M323.1 92.2h.01M317.4 67.9h.01M315.0 94.3h.01M318.9 91.1h.01M310.0 79.0h.01M319.4 90.4h.01M321.8 98.9h.01M320.7 101.4h.01M316.6 98.7h.01M322.0 95.0h.01M305.0 36.5h.01M294.9 70.6h.01M322.5 99.6h.01M318.5 99.1h.01M311.9 73.4h.01M316.3 86.2h.01M311.2 47.0h.01M310.7 79.6h.01M317.5 92.8h.01M319.3 96.7h.01M318.8 99.8h.01M313.0 95.3h.01M321.1 102.0h.01M309.6 60.3h.01M320.9 94.3h.01M313.6 88.4h.01M312.1 62.1h.01M322.0 90.0h.01M320.9 82.4h.01M316.5 87.9h.01M321.9 88.8h.01M310.1 72.5h.01M319.9 93.0h.01M323.1 98.1h.01M318.4 95.6h.01M283.6 38.4h.01M307.9 68.1h.01M314.7 81.9h.01M318.3 97.3h.01M302.4 65.7h.01M305.5 73.8h.01M316.7 82.4h.01M315.9 87.2h.01M322.7 84.4h.01M321.2 88.1h.01M322.5 86.5h.01M314.9 90.7h.01M323.2 95.5h.01M317.2 90.8h.01M321.3 95.1h.01M315.5 92.0h.01M323.7 93.1h.01M307.8 57.4h.01M314.5 73.3h.01M317.7 92.2h.01M322.9 102.0h.01M322.6 74.3h.01M318.9 69.4h.01M318.4 94.2h.01M321.8 100.2h.01M323.8 87.5h.01M322.9 99.4h.01M308.4 76.9h.01M313.9 46.7h.01M316.4 90.8h.01M317.8 96.0h.01M322.4 101.5h.01M319.1 84.3h.01M321.0 94.0h.01M317.3 80.8h.01M324.2 99.1h.01M320.3 88.9h.01M318.6 101.4h.01M319.6 80.2h.01M304.9 74.7h.01M315.6 91.5h.01M308.4 52.9h.01M319.1 98.1h.01M298.8 28.0h.01M316.6 100.5h.01M312.8 89.2h.01M309.1 49.4h.01M320.9 94.4h.01M323.1 93.6h.01M309.7 79.6h.01M324.3 80.9h.01M321.7 99.2h.01M321.2 59.8h.01M314.9 80.3h.01M317.9 77.0h.01M307.5 78.4h.01M317.8 98.8h.01M315.0 88.1h.01M320.5 97.6h.01M318.0 94.7h.01M316.0 94.4h.01M319.5 102.1h.01M323.8 95.1h.01M322.6 102.4h.01M316.4 97.1h.01M323.3 91.3h.01M318.9 92.7h.01M316.6 89.1h.01M321.9 64.9h.01M318.5 97.3h.01M317.6 93.6h.01M293.8 40.8h.01M323.8 89.0h.01M321.5 89.4h.01M320.8 102.6h.01M311.7 79.1h.01M320.5 100.1h.01M318.0 85.8h.01M321.0 98.7h.01M319.8 95.1h.01M319.7 86.6h.01M315.9 55.4h.01M312.3 81.4h.01M322.3 100.3h.01M324.0 101.0h.01M316.7 93.2h.01M318.1 98.9h.01M316.6 92.9h.01M317.1 97.0h.01M319.6 79.0h.01M312.7 85.3h.01M317.9 85.5h.01M319.9 66.7h.01M314.8 80.4h.01M315.3 73.1h.01M319.8 82.5h.01M300.3 44.4h.01M321.2 96.8h.01M314.1 74.0h.01M310.9 90.4h.01M318.2 91.3h.01M321.7 100.9h.01M320.6 94.2h.01M319.8 94.6h.01M316.8 95.2h.01M309.8 84.5h.01M304.5 33.4h.01M322.2 79.2h.01M313.7 79.5h.01M320.4 88.0h.01M315.7 96.9h.01M316.4 94.1h.01M324.5 97.7h.01M319.1 67.6h.01M319.6 101.0h.01M314.7 51.6h.01M321.9 91.9h.01M322.6 89.7h.01M317.7 75.4h.01M313.8 95.5h.01M325.1 102.1h.01M324.4 94.9h.01M316.1 99.9h.01M316.7 89.6h.01M321.4 102.6h.01M317.1 76.0h.01M312.1 74.1h.01M307.5 70.7h.01M324.3 95.4h.01M320.0 94.4h.01M311.7 71.0h.01M314.5 75.9h.01M319.1 98.2h.01M318.8 98.2h.01M316.7 92.3h.01M321.9 93.7h.01M320.4 98.3h.01M322.7 99.1h.01M312.1 73.6h.01M308.0 48.2h.01M321.9 99.3h.01M311.4 75.6h.01M296.8 68.2h.01M323.2 76.4h.01M313.1 68.4h.01M317.2 99.3h.01M318.4 82.8h.01M323.6 102.0h.01M314.7 88.6h.01M320.1 71.6h.01M322.0 83.8h.01M315.8 95.5h.01M323.1 80.8h.01M312.7 95.8h.01M307.6 75.4h.01M304.5 63.1h.01M324.6 100.5h.01M317.7 98.4h.01M324.2 99.7h.01M303.6 43.5h.01M319.6 69.8h.01M309.3 88.2h.01M309.7 84.5h.01M308.6 93.1h.01M318.6 82.2h.01M308.1 95.5h.01M319.7 98.1h.01M319.9 93.0h.01M304.1 36.8h.01M321.1 76.2h.01M320.1 88.2h.01M309.4 79.9h.01M321.1 98.8h.01M316.8 95.5h.01M312.0 71.3h.01M307.5 56.8h.01M323.4 90.2h.01M319.0 95.9h.01M323.0 102.0h.01M320.5 92.2h.01M309.5 91.7h.01M315.0 86.9h.01M320.8 98.2h.01M318.6 80.0h.01M323.3 88.5h.01M303.8 70.7h.01M318.8 94.5h.01M307.9 56.2h.01M324.4 91.8h.01M318.1 94.5h.01M305.9 57.9h.01M318.6 88.0h.01M321.2 98.3h.01M310.6 73.3h.01M322.1 87.0h.01M321.6 99.2h.01M322.3 77.1h.01M319.5 85.7h.01M308.6 64.4h.01M314.1 74.3h.01M320.9 98.4h.01M322.9 95.1h.01M316.1 83.8h.01M316.8 90.5h.01M316.8 80.8h.01M322.8 98.7h.01M316.3 86.7h.01M320.4 82.8h.01M320.5 90.6h.01M320.2 53.5h.01M323.5 83.3h.01M315.9 73.3h.01M317.4 89.6h.01M311.1 72.6h.01M318.7 95.7h.01M318.5 101.2h.01M309.8 75.4h.01M315.6 87.0h.01M319.7 73.9h.01M307.8 36.0h.01M318.1 84.2h.01M321.9 87.8h.01M316.5 41.3h.01M309.0 62.5h.01M319.1 81.5h.01M321.8 69.0h.01M319.8 92.0h.01M319.6 93.6h.01M322.8 98.6h.01M319.9 102.4h.01M324.1 100.3h.01M303.9 63.5h.01M320.6 96.5h.01M324.4 102.0h.01M322.1 98.1h.01M322.1 100.2h.01M319.7 98.3h.01M324.5 84.4h.01M316.0 100.2h.01M320.5 88.9h.01M316.9 93.9h.01M322.6 98.0h.01M308.8 70.4h.01M322.0 100.4h.01M318.5 93.5h.01M320.9 101.2h.01M322.2 96.7h.01M318.1 94.5h.01M321.4 90.7h.01M320.7 98.1h.01M314.5 68.9h.01M321.6 102.3h.01M310.8 66.0h.01M312.0 47.8h.01M318.0 92.7h.01M318.6 96.1h.01M320.5 95.9h.01M305.0 91.1h.01M316.1 99.7h.01M323.3 93.7h.01M316.5 85.6h.01M319.4 82.5h.01M322.1 89.6h.01M304.1 50.6h.01M320.5 92.5h.01M319.9 93.8h.01M316.4 97.9h.01M320.9 101.4h.01M318.2 92.3h.01M321.3 61.6h.01M317.0 97.9h.01M316.4 85.3h.01M320.5 97.4h.01M318.3 74.4h.01M318.9 90.4h.01M320.1 56.5h.01M306.3 54.0h.01M314.5 95.6h.01M303.6 69.9h.01M314.9 88.6h.01M323.3 88.0h.01M324.8 100.4h.01M324.3 102.4h.01M322.7 86.8h.01M317.9 96.8h.01M313.5 86.5h.01M312.8 74.1h.01M309.9 48.5h.01M302.6 53.9h.01M320.6 102.4h.01M312.5 61.4h.01M316.3 98.7h.01M314.6 79.9h.01M324.5 97.5h.01M316.9 96.9h.01M311.9 85.4h.01M317.6 86.9h.01M323.4 85.6h.01M322.9 101.0h.01M325.0 102.2h.01M318.7 100.5h.01M322.7 97.0h.01M315.4 80.6h.01M319.2 98.6h.01M317.6 67.3h.01M316.6 80.8h.01M323.4 102.3h.01M320.2 74.3h.01M316.7 90.1h.01M321.8 97.3h.01M319.4 95.4h.01M320.8 99.9h.01M315.9 91.0h.01M321.9 93.5h.01M311.9 83.7h.01M320.5 94.0h.01M314.2 80.6h.01M315.4 85.8h.01M304.4 79.3h.01M322.0 99.4h.01M320.5 98.5h.01M320.7 101.8h.01M307.2 77.8h.01M322.4 101.6h.01M318.1 99.8h.01M321.9 93.2h.01M322.5 99.5h.01M316.6 88.4h.01M313.1 66.1h.01M315.8 91.2h.01M319.6 84.3h.01M313.5 81.9h.01M317.2 68.8h.01M317.6 97.3h.01M323.4 102.5h.01M320.6 86.8h.01M311.1 64.4h.01M320.3 100.8h.01M319.6 97.0h.01M312.5 88.6h.01M312.4 93.6h.01M312.3 48.7h.01M320.2 64.7h.01M318.4 92.2h.01M316.8 80.0h.01" stroke="#78bc3e" stroke-width="1.10" stroke-linecap="round" fill="none" opacity="1"/>
<path d="M336.8 92.6h.01M333.4 98.4h.01M341.9 100.3h.01M336.7 100.5h.01M340.5 95.3h.01M339.0 99.9h.01M344.7 87.9h.01M337.8 96.2h.01M335.8 100.0h.01M340.6 88.5h.01M344.8 78.4h.01M336.0 95.2h.01M337.9 96.3h.01M333.7 101.9h.01M336.1 90.6h.01M346.3 92.8h.01M335.2 96.4h.01M340.8 88.4h.01M344.4 67.2h.01M342.8 95.2h.01M339.3 100.1h.01M335.9 96.1h.01M351.1 63.8h.01M340.1 93.5h.01M338.7 90.0h.01M352.1 85.7h.01M340.7 88.5h.01M339.5 95.2h.01M337.6 97.0h.01M336.5 100.7h.01M334.1 81.1h.01M341.7 66.8h.01M338.1 100.9h.01M335.3 94.1h.01M333.3 93.5h.01M344.7 82.0h.01M340.8 94.1h.01M343.2 61.1h.01M343.5 97.9h.01M336.4 84.7h.01M339.7 99.3h.01M338.6 95.6h.01M341.8 83.7h.01M341.3 98.2h.01M351.8 70.4h.01M340.8 85.0h.01M343.9 96.6h.01M342.6 88.7h.01M335.0 76.7h.01M337.8 99.3h.01M337.4 90.7h.01M337.3 82.0h.01M337.8 94.4h.01M335.8 86.6h.01M338.9 90.3h.01M340.2 63.8h.01M344.9 92.1h.01M334.3 86.0h.01M340.4 77.5h.01M341.3 100.0h.01M333.4 100.0h.01M346.9 95.0h.01M334.7 92.3h.01M337.9 92.3h.01M336.5 93.4h.01M349.1 87.2h.01M343.4 96.5h.01M348.1 83.3h.01M339.4 96.6h.01M333.0 101.6h.01M335.4 99.5h.01M344.1 90.3h.01M334.0 98.6h.01M341.9 96.2h.01M339.9 88.4h.01M335.4 99.9h.01M336.4 100.4h.01M335.3 101.7h.01M335.4 94.1h.01M335.7 96.5h.01M341.9 92.1h.01M338.9 89.5h.01M333.8 101.3h.01M338.5 95.7h.01M335.8 102.4h.01M336.0 99.8h.01M333.3 100.2h.01M338.1 83.6h.01M339.4 97.8h.01M340.4 96.6h.01M335.7 101.9h.01M337.6 98.5h.01M336.6 84.0h.01M335.0 98.9h.01M345.1 85.0h.01M344.3 92.8h.01M335.0 102.2h.01M334.1 96.0h.01M352.7 74.9h.01M337.2 101.9h.01M338.0 91.5h.01M345.8 93.8h.01M346.4 82.0h.01M338.1 71.5h.01M342.3 89.2h.01M343.5 87.7h.01M352.1 92.4h.01M333.9 100.8h.01M335.4 102.4h.01M340.1 86.0h.01M342.2 79.1h.01M337.2 98.0h.01M337.8 91.8h.01M347.8 85.7h.01M337.3 102.3h.01M338.0 88.5h.01M334.7 99.1h.01M333.7 98.2h.01M335.7 99.1h.01M334.0 90.6h.01M340.3 90.3h.01M343.7 90.3h.01M352.5 69.1h.01M334.4 77.8h.01M334.9 94.6h.01M340.0 96.9h.01M333.6 102.2h.01M342.3 96.7h.01M333.6 90.5h.01M339.2 91.9h.01M335.3 100.9h.01M336.3 94.2h.01M333.5 90.1h.01M334.5 93.6h.01M339.8 100.2h.01M333.3 99.3h.01M333.8 102.2h.01M336.1 99.3h.01M340.1 91.3h.01M335.6 93.7h.01M334.7 100.0h.01M335.9 101.4h.01M342.2 79.0h.01M340.8 97.5h.01M335.1 100.8h.01M338.7 100.3h.01M333.2 102.5h.01M340.6 95.9h.01M342.7 86.8h.01M333.9 101.7h.01M340.8 95.8h.01M338.5 99.9h.01M334.3 97.1h.01M339.6 97.6h.01M337.8 93.2h.01M342.7 84.9h.01M342.1 100.1h.01M344.6 88.2h.01M338.3 87.3h.01M338.2 92.4h.01M333.5 94.1h.01M334.2 81.3h.01M341.1 98.7h.01M335.6 85.3h.01M337.8 81.3h.01M333.0 102.2h.01M351.5 78.7h.01M341.4 87.5h.01M345.0 97.8h.01M337.2 101.6h.01M339.7 87.5h.01M340.5 100.5h.01M340.3 99.3h.01M338.6 96.1h.01M343.3 83.7h.01M336.6 96.3h.01M338.4 97.9h.01M337.1 98.5h.01M333.4 89.3h.01M337.5 100.4h.01M341.3 78.0h.01M342.8 98.0h.01M342.5 98.4h.01M341.6 95.7h.01M339.6 97.6h.01M333.3 97.6h.01M340.5 82.2h.01M335.4 91.9h.01M344.0 74.9h.01M340.3 90.9h.01M333.9 100.5h.01M344.6 90.8h.01M353.0 89.8h.01M337.8 89.9h.01M338.8 97.1h.01M340.6 94.8h.01M333.3 92.4h.01M339.5 98.7h.01M347.5 93.7h.01M346.8 81.7h.01M339.7 89.3h.01M345.9 98.5h.01M344.8 92.4h.01M340.0 95.4h.01M337.0 100.0h.01M338.3 100.0h.01M338.2 97.6h.01M345.6 88.5h.01M338.3 101.5h.01M338.4 95.5h.01M339.4 93.1h.01M334.1 99.1h.01M335.6 92.3h.01M339.3 90.6h.01M341.8 101.1h.01M334.0 99.6h.01M343.6 96.4h.01M343.5 95.5h.01M343.2 99.5h.01M336.3 91.3h.01M334.0 101.9h.01M338.3 97.2h.01M347.2 74.1h.01M344.4 78.0h.01M341.7 83.2h.01M344.1 92.5h.01M335.0 100.4h.01M334.2 101.5h.01M337.5 98.7h.01M337.4 95.4h.01M342.0 94.4h.01M338.0 99.3h.01M334.6 89.6h.01M343.7 98.0h.01M344.5 83.6h.01M341.3 84.6h.01M345.0 76.6h.01M338.3 90.0h.01M339.5 95.2h.01M336.9 89.9h.01M345.5 91.2h.01M338.0 95.9h.01M337.4 81.2h.01M342.3 78.9h.01M334.5 100.9h.01M335.1 100.5h.01M343.5 93.7h.01M335.2 89.3h.01M338.2 100.6h.01M344.9 87.6h.01M340.8 81.5h.01M337.5 100.3h.01M338.3 92.8h.01M335.2 98.7h.01M345.2 78.7h.01M336.8 97.4h.01M339.2 98.0h.01M333.3 96.6h.01M343.3 90.1h.01M341.7 99.0h.01M345.7 98.7h.01M346.9 76.0h.01M336.8 90.4h.01M339.3 102.1h.01M350.5 77.6h.01M338.6 95.5h.01M339.2 94.2h.01M338.1 99.3h.01M346.5 85.9h.01M336.6 99.8h.01M337.4 97.3h.01M362.2 56.2h.01M335.2 89.0h.01M338.3 97.0h.01M343.0 89.5h.01M336.5 94.5h.01M342.4 92.8h.01M344.9 94.2h.01M341.7 96.3h.01M341.9 82.7h.01M340.2 92.7h.01M337.6 95.0h.01M337.8 99.4h.01M334.2 99.3h.01M338.1 99.3h.01M337.6 84.7h.01M340.3 92.9h.01M342.6 100.0h.01M333.5 97.7h.01M336.8 79.0h.01M339.1 98.2h.01M337.0 89.7h.01M338.4 72.8h.01M336.5 79.6h.01M339.0 99.3h.01M333.9 100.7h.01M349.6 89.9h.01M335.5 99.2h.01M343.7 95.9h.01M337.8 101.1h.01M334.4 99.8h.01M334.2 96.6h.01M335.3 97.8h.01M342.6 97.6h.01M345.0 98.3h.01M334.0 101.3h.01M339.6 87.1h.01M342.7 88.5h.01M335.2 101.0h.01M334.7 99.3h.01M333.7 102.6h.01M335.8 96.1h.01M335.7 101.2h.01M343.7 78.8h.01M337.4 99.0h.01M334.5 91.0h.01M333.2 99.8h.01M340.8 100.1h.01M338.8 85.9h.01M336.1 96.9h.01M340.9 99.3h.01M338.1 102.0h.01M335.5 100.6h.01M338.6 97.8h.01M340.7 80.4h.01M334.5 98.1h.01M343.3 92.7h.01M338.0 90.6h.01M333.6 100.6h.01M337.1 82.7h.01M343.0 77.3h.01M354.0 55.3h.01M362.3 63.2h.01M344.6 96.6h.01M347.1 86.9h.01M333.9 91.7h.01M333.2 102.0h.01M335.7 93.7h.01M339.8 97.4h.01M342.1 79.5h.01M346.4 84.8h.01M343.7 87.1h.01M338.2 92.3h.01M340.3 79.1h.01M347.5 90.4h.01M339.8 98.6h.01M342.0 90.7h.01M341.3 84.3h.01M335.9 87.5h.01M334.2 102.6h.01M338.0 99.2h.01M334.3 97.7h.01M337.9 101.9h.01M337.9 98.6h.01M338.1 86.6h.01M337.0 97.8h.01M336.3 90.2h.01M334.4 86.7h.01M342.3 80.6h.01M339.1 75.9h.01M339.2 89.7h.01M342.9 64.6h.01M336.3 76.8h.01M349.7 82.6h.01M338.5 94.5h.01M336.4 101.1h.01M357.4 71.4h.01M338.5 98.6h.01M338.6 88.0h.01M334.4 99.6h.01M334.2 100.0h.01M342.7 84.2h.01M336.7 97.6h.01M339.7 77.6h.01M345.7 78.3h.01M337.8 101.2h.01M342.7 92.4h.01M338.6 93.5h.01M343.0 84.3h.01M333.8 100.5h.01M335.9 97.1h.01M337.2 99.9h.01M340.1 82.3h.01M341.3 97.8h.01M341.2 94.7h.01M339.4 93.3h.01M341.7 97.4h.01M340.9 83.4h.01M343.6 89.5h.01M344.0 73.8h.01M333.8 102.3h.01M344.9 81.8h.01M339.5 91.9h.01M338.3 97.1h.01M349.5 91.9h.01M337.0 99.8h.01M342.6 99.0h.01M337.6 87.9h.01M334.0 95.5h.01M342.5 94.3h.01M343.1 97.1h.01M333.4 96.7h.01M340.1 92.8h.01M338.0 93.9h.01M335.4 90.4h.01M338.8 83.7h.01M337.1 86.6h.01M335.6 100.0h.01M340.7 100.0h.01M340.9 81.2h.01M334.6 99.7h.01M337.5 97.1h.01M335.8 97.3h.01M345.0 73.9h.01M337.5 99.9h.01M337.9 95.2h.01M353.5 81.7h.01M338.8 84.5h.01M342.5 97.8h.01M342.0 83.8h.01M334.7 100.8h.01M350.6 57.5h.01M340.2 100.1h.01M335.9 70.1h.01M339.3 101.4h.01M345.9 70.5h.01M338.1 90.9h.01M339.8 97.8h.01M338.5 102.1h.01M343.5 92.0h.01M346.6 97.0h.01M339.4 90.1h.01M346.1 84.0h.01M343.5 97.9h.01M338.8 99.6h.01M347.4 76.8h.01M333.2 100.6h.01M333.9 97.5h.01M335.5 90.7h.01M341.8 93.3h.01M338.8 101.0h.01M344.4 80.9h.01M348.0 73.0h.01M335.0 84.4h.01M335.2 78.4h.01M342.7 74.2h.01M339.0 80.8h.01M339.0 86.0h.01M339.6 101.4h.01M339.9 84.4h.01M349.2 69.7h.01M339.1 100.1h.01M336.9 99.3h.01M334.8 95.8h.01M341.6 96.2h.01M339.2 91.8h.01M338.7 91.3h.01M335.7 98.3h.01M333.4 100.6h.01M344.1 93.4h.01M338.6 94.2h.01M335.4 100.6h.01M335.6 100.3h.01M334.7 97.1h.01M336.8 95.3h.01M336.1 102.6h.01M337.5 88.9h.01M341.6 82.7h.01M342.7 75.9h.01M343.9 82.0h.01M337.2 95.0h.01M336.5 101.4h.01M335.1 95.7h.01M333.9 88.2h.01M336.6 100.3h.01M339.5 101.4h.01M335.1 89.2h.01M342.0 87.9h.01M337.6 98.3h.01M336.8 97.4h.01M348.6 83.0h.01M363.2 52.2h.01M341.3 81.2h.01M339.1 86.8h.01M334.4 97.1h.01M333.1 102.7h.01M333.7 95.9h.01M334.9 101.5h.01M343.8 78.1h.01M343.0 94.5h.01M336.9 94.5h.01M334.3 95.3h.01M339.9 99.0h.01M339.3 101.3h.01M336.9 99.7h.01M335.2 100.2h.01M337.7 94.7h.01M337.5 100.9h.01M350.8 81.7h.01M348.6 80.5h.01M336.6 95.1h.01M335.2 100.2h.01M333.6 101.2h.01M335.6 96.9h.01M340.2 93.8h.01M342.0 74.6h.01M341.9 68.4h.01M341.3 86.7h.01M340.4 93.6h.01M339.8 84.9h.01M336.0 100.1h.01M338.5 95.0h.01M341.0 79.7h.01M339.4 88.5h.01M336.8 84.8h.01M341.2 99.4h.01M338.6 90.0h.01M342.1 95.4h.01M336.2 91.7h.01M335.7 101.5h.01M336.4 101.6h.01M334.5 102.1h.01M341.6 97.0h.01M345.8 97.9h.01M345.3 91.0h.01M338.1 101.4h.01M334.9 99.4h.01M341.6 98.9h.01M342.7 94.4h.01M335.4 94.0h.01M343.3 87.3h.01M336.9 93.9h.01M338.7 95.0h.01M340.5 95.6h.01M338.1 98.9h.01M341.7 96.5h.01M338.6 79.4h.01M347.0 86.3h.01M341.5 98.7h.01M337.0 92.9h.01M337.9 94.2h.01M355.3 67.4h.01M333.4 95.3h.01M333.5 102.3h.01M336.0 96.9h.01M343.1 84.8h.01M347.6 71.3h.01M338.0 98.0h.01M340.1 87.7h.01M342.6 94.0h.01M337.2 102.1h.01M347.8 79.1h.01M345.8 84.0h.01M336.9 94.8h.01M335.4 101.4h.01M333.2 101.2h.01M338.5 80.4h.01M335.7 97.5h.01M347.3 73.6h.01M344.7 91.5h.01M333.2 98.1h.01M343.7 93.9h.01M335.7 91.0h.01M339.5 98.1h.01M336.7 94.4h.01M336.3 98.5h.01M335.7 99.3h.01M342.8 93.6h.01M345.7 83.9h.01M337.7 83.0h.01M346.2 88.4h.01M344.6 89.8h.01M335.9 100.7h.01M334.4 102.0h.01M334.0 97.8h.01M340.5 100.1h.01M346.6 91.4h.01M338.2 94.8h.01M341.8 94.4h.01M341.4 95.9h.01M343.7 85.7h.01M341.6 94.5h.01M333.1 94.2h.01M334.6 79.4h.01M338.0 91.0h.01M338.3 95.1h.01M338.4 98.0h.01M338.9 70.5h.01M345.2 95.9h.01M338.3 71.1h.01M337.4 100.1h.01M336.2 95.8h.01M347.0 83.1h.01M334.9 94.7h.01M339.0 94.5h.01M339.7 95.0h.01M345.6 86.5h.01M338.2 96.9h.01M341.7 93.8h.01M335.4 94.9h.01M334.8 95.9h.01M342.8 83.0h.01M334.2 99.4h.01M337.9 99.3h.01M333.0 102.3h.01M347.7 54.5h.01M338.3 101.0h.01M345.9 89.5h.01M340.0 88.7h.01M340.8 91.4h.01M336.4 97.4h.01M341.2 101.3h.01M337.5 93.8h.01M333.3 100.1h.01M343.5 73.3h.01M342.4 53.7h.01M343.5 96.7h.01M333.6 101.6h.01M339.8 88.4h.01M334.2 100.0h.01M335.9 96.1h.01M337.5 90.5h.01M337.3 101.6h.01M337.2 99.5h.01M334.2 89.8h.01M340.8 92.6h.01M342.4 93.3h.01M333.5 97.3h.01M339.1 95.3h.01M334.3 76.9h.01M352.8 58.1h.01M339.0 98.6h.01M349.5 84.1h.01M337.8 95.0h.01M334.0 91.1h.01M334.1 94.9h.01M336.1 101.1h.01M334.2 102.3h.01M339.4 96.1h.01M344.0 82.1h.01M347.4 86.6h.01M340.0 88.1h.01M336.6 65.4h.01M340.1 100.1h.01M335.3 94.1h.01M351.9 77.7h.01M348.5 73.1h.01M335.9 99.1h.01M347.8 86.3h.01M341.8 78.4h.01M339.3 100.8h.01M347.9 92.5h.01M337.4 98.4h.01M341.8 77.5h.01M335.7 93.5h.01M343.3 77.8h.01M343.4 88.6h.01M337.5 99.6h.01M340.3 100.5h.01M338.5 85.4h.01M337.0 93.5h.01M336.8 85.8h.01M335.0 101.8h.01M341.0 101.4h.01M349.3 69.4h.01M334.0 99.2h.01M350.8 73.4h.01M340.9 94.2h.01M341.9 70.3h.01M333.4 100.6h.01M343.2 61.1h.01M336.8 87.8h.01M336.3 95.9h.01M336.0 100.6h.01M342.4 99.4h.01M348.2 84.9h.01M336.6 96.8h.01M336.1 97.1h.01M342.3 91.8h.01M342.9 73.1h.01M334.2 100.2h.01M333.2 99.3h.01M337.2 95.1h.01M338.9 101.7h.01M340.8 100.2h.01M339.9 100.0h.01M340.0 89.4h.01M353.4 74.6h.01M337.2 97.3h.01M338.0 73.5h.01M340.6 92.7h.01M341.5 95.4h.01M338.1 101.4h.01M341.1 87.4h.01M339.7 88.8h.01M341.2 95.8h.01M340.1 99.0h.01M342.2 87.7h.01M345.5 94.7h.01M336.4 81.7h.01M335.3 95.2h.01M340.5 80.1h.01M338.8 95.7h.01M340.7 75.8h.01M352.1 77.5h.01M338.7 94.3h.01M335.1 89.5h.01M338.8 102.1h.01M339.3 100.7h.01M341.6 97.2h.01M334.9 86.5h.01M334.7 85.8h.01M336.2 88.6h.01M333.3 96.4h.01M336.8 96.9h.01M340.1 97.2h.01M339.2 92.8h.01M335.6 95.4h.01M335.0 101.5h.01M346.3 87.3h.01M343.3 92.7h.01M341.3 94.3h.01M338.1 90.4h.01M336.4 94.5h.01M334.0 101.9h.01M333.7 102.7h.01M340.4 95.0h.01M334.0 102.7h.01M334.1 96.3h.01M334.3 95.9h.01M335.9 100.2h.01M340.7 94.1h.01M347.8 86.1h.01M341.8 68.3h.01M337.8 102.5h.01M339.2 92.3h.01M333.3 93.2h.01M347.7 74.6h.01M339.8 92.1h.01M344.0 97.3h.01M333.7 95.0h.01M335.2 101.1h.01M339.6 97.7h.01M339.1 91.3h.01M339.0 95.0h.01M338.0 99.8h.01M345.3 79.1h.01M336.5 97.6h.01M343.2 89.1h.01M341.9 92.5h.01M343.4 80.4h.01M335.8 99.7h.01M336.9 99.0h.01M337.0 91.7h.01M341.6 92.9h.01M334.4 102.0h.01M345.0 89.7h.01M334.3 99.1h.01M341.7 91.5h.01M337.8 80.3h.01M336.8 97.4h.01M354.0 69.0h.01M337.4 100.3h.01M337.8 101.3h.01M337.7 101.6h.01M334.1 92.6h.01M336.1 101.8h.01M345.4 96.6h.01M337.5 101.3h.01M342.0 79.1h.01M341.0 95.5h.01M350.7 72.7h.01M343.7 94.9h.01M335.6 99.4h.01M343.1 76.2h.01M334.6 101.5h.01M346.8 83.9h.01M338.8 97.1h.01M337.1 102.1h.01M333.5 86.5h.01M342.8 99.8h.01M339.8 97.4h.01M338.5 93.6h.01M350.3 94.2h.01M333.7 94.8h.01M351.7 83.4h.01M339.3 91.6h.01M341.4 98.6h.01M335.5 101.3h.01M337.7 85.7h.01M340.1 88.8h.01M336.6 60.8h.01M334.6 96.2h.01M340.0 101.4h.01M336.6 98.0h.01M337.3 96.6h.01M339.3 66.8h.01M337.5 92.2h.01M334.0 95.0h.01M334.0 100.2h.01M335.8 96.6h.01M335.0 100.4h.01M336.8 97.8h.01M339.7 93.4h.01M342.0 92.0h.01M336.1 96.9h.01M348.9 85.1h.01M341.3 81.7h.01M334.8 71.8h.01M334.3 91.8h.01M342.7 77.2h.01M338.3 101.3h.01M336.7 100.3h.01M337.1 99.1h.01M337.3 85.5h.01M336.6 101.1h.01M333.1 99.5h.01M338.1 99.6h.01M342.3 93.7h.01M337.9 85.1h.01M343.6 87.8h.01M339.5 97.6h.01M337.5 94.4h.01M336.7 95.9h.01M334.1 96.2h.01M339.7 95.0h.01M344.8 85.9h.01M338.3 97.5h.01M338.4 73.8h.01M339.8 98.1h.01M337.4 98.7h.01M336.8 99.5h.01M350.4 74.3h.01M339.2 89.5h.01M341.2 101.2h.01M342.1 99.6h.01M351.8 77.6h.01M343.4 89.6h.01M337.4 102.1h.01M341.4 82.9h.01M337.4 96.6h.01M343.4 100.9h.01M343.5 93.5h.01M345.3 73.6h.01M337.3 90.2h.01M340.0 85.4h.01M338.6 98.5h.01M333.6 90.7h.01M334.9 93.6h.01M336.9 99.0h.01M341.8 90.5h.01M340.8 100.5h.01M341.3 84.6h.01M341.7 64.3h.01M342.2 97.8h.01M334.6 76.5h.01M342.7 101.3h.01M334.0 99.4h.01M347.0 84.3h.01M336.2 80.3h.01M338.6 94.8h.01M336.9 94.5h.01M340.9 99.1h.01M344.9 86.8h.01M335.4 97.7h.01M339.5 93.9h.01M333.0 96.0h.01M336.0 100.2h.01M340.4 85.1h.01M344.9 79.9h.01M333.2 102.1h.01M335.3 100.5h.01M334.9 91.4h.01M342.7 78.4h.01M334.4 93.4h.01M338.6 94.9h.01M337.3 94.6h.01M344.5 77.3h.01M342.5 84.7h.01M334.7 82.7h.01M344.4 84.5h.01M346.2 94.8h.01M341.3 93.1h.01M344.2 83.7h.01M334.7 87.2h.01M338.9 98.6h.01M333.8 96.0h.01M336.1 101.8h.01M336.5 86.9h.01M335.1 98.8h.01M340.9 84.7h.01M344.3 90.9h.01M341.8 94.2h.01M340.9 98.4h.01M340.6 95.4h.01M339.4 87.5h.01M346.8 67.9h.01M334.6 100.0h.01M347.4 81.1h.01M334.7 97.6h.01M338.2 101.2h.01M333.1 101.4h.01M337.2 101.9h.01M342.8 90.5h.01M337.3 93.4h.01M334.8 92.9h.01M340.4 83.4h.01M338.5 93.5h.01M335.5 94.4h.01M342.2 87.7h.01M336.8 80.1h.01M346.0 78.9h.01M343.7 59.9h.01M340.4 94.3h.01M335.9 98.3h.01M339.2 96.9h.01M338.0 101.3h.01M333.4 100.4h.01M336.9 98.5h.01M344.9 85.1h.01M336.6 86.3h.01M335.6 81.8h.01M334.0 90.7h.01M340.2 96.2h.01M333.9 101.7h.01M337.0 101.1h.01M337.2 90.6h.01M337.9 100.8h.01M333.2 102.2h.01M335.3 97.8h.01M335.6 87.8h.01M342.1 79.9h.01M341.6 100.0h.01M344.3 92.4h.01M343.7 92.4h.01M339.6 97.6h.01M335.5 94.9h.01M348.2 74.4h.01M338.8 92.4h.01M339.8 98.9h.01M339.0 100.1h.01M338.1 87.5h.01M338.5 92.4h.01M342.4 88.8h.01M338.3 98.0h.01M345.6 81.7h.01M338.2 98.9h.01M333.2 95.1h.01M345.0 93.4h.01M335.9 95.5h.01M334.6 93.0h.01M339.2 99.3h.01M334.3 91.7h.01M334.0 95.4h.01M342.4 86.2h.01M336.8 92.7h.01M333.4 101.6h.01M338.2 89.5h.01M335.4 98.5h.01M335.4 99.4h.01M337.8 91.2h.01M339.6 101.3h.01M337.1 94.5h.01M339.7 95.6h.01M333.8 100.7h.01M345.0 79.0h.01M336.1 102.0h.01M340.6 91.1h.01M342.6 68.0h.01M337.1 98.7h.01M334.3 102.4h.01M339.3 99.9h.01M333.4 99.3h.01M344.8 98.7h.01M345.3 90.5h.01M340.7 97.9h.01M341.2 100.4h.01M341.1 91.0h.01M335.3 99.7h.01M341.4 93.8h.01M337.1 92.1h.01M347.3 89.3h.01M337.1 95.6h.01M345.5 93.0h.01M336.7 98.7h.01M348.2 89.6h.01M342.5 98.4h.01M342.9 86.0h.01M349.9 73.8h.01M334.9 101.4h.01M335.5 93.8h.01M336.0 102.1h.01M340.2 95.5h.01M339.2 94.8h.01M336.5 96.4h.01M338.5 95.8h.01M334.2 81.0h.01M333.3 100.5h.01M336.0 97.4h.01M342.3 81.3h.01M333.0 96.9h.01M339.8 98.7h.01M336.0 86.7h.01M333.4 98.4h.01M335.3 93.4h.01M340.9 80.6h.01M337.8 88.9h.01M339.8 95.2h.01M333.0 97.5h.01M340.3 85.5h.01M335.9 95.9h.01M339.1 96.4h.01M337.8 101.5h.01M341.6 91.1h.01M338.6 94.6h.01M348.1 81.8h.01M341.2 98.5h.01M339.1 73.1h.01M338.4 102.1h.01M352.5 70.4h.01M339.4 88.0h.01M336.8 92.6h.01M341.1 94.8h.01M336.0 101.7h.01M343.8 84.0h.01M337.4 101.2h.01M336.5 96.8h.01M354.2 61.1h.01M338.5 87.7h.01M341.5 96.3h.01M334.2 93.1h.01M337.2 93.0h.01M337.0 95.8h.01M337.1 102.3h.01M337.2 99.4h.01M346.0 83.9h.01M336.8 99.7h.01M339.4 99.5h.01M334.1 99.8h.01M343.1 85.7h.01M337.6 100.2h.01M346.0 85.4h.01M349.1 81.0h.01M341.9 95.3h.01M349.0 80.4h.01M334.6 100.7h.01M339.6 92.5h.01M333.8 102.8h.01M333.7 90.9h.01M344.3 84.0h.01M346.8 94.7h.01M342.0 94.6h.01M339.1 97.4h.01M336.1 98.1h.01M338.7 98.0h.01M336.2 92.8h.01M339.6 97.8h.01M342.8 91.9h.01M334.4 102.2h.01M340.1 100.0h.01M340.2 94.7h.01M336.0 96.1h.01M333.7 99.6h.01M334.6 91.5h.01M335.3 93.4h.01M343.1 56.6h.01M335.2 89.7h.01M339.8 79.8h.01M338.1 86.1h.01M339.1 100.2h.01M341.7 100.2h.01M346.4 87.5h.01M350.9 86.4h.01M334.3 96.4h.01M343.8 87.1h.01M337.7 98.7h.01M343.8 77.2h.01M334.4 99.6h.01M346.7 85.8h.01M344.4 95.5h.01M338.5 100.4h.01M339.1 85.4h.01M346.3 84.9h.01M339.0 89.3h.01M333.9 100.6h.01M354.9 58.8h.01M341.0 101.8h.01M343.3 76.9h.01M336.1 89.8h.01M340.0 85.0h.01M333.4 101.1h.01M346.3 87.1h.01M336.3 98.3h.01M336.4 99.8h.01M335.3 91.4h.01M340.8 95.1h.01M336.9 86.9h.01M339.9 90.3h.01M333.1 99.8h.01M335.3 97.8h.01M338.4 96.6h.01M338.7 96.7h.01M338.0 100.3h.01M341.2 95.6h.01M339.7 101.4h.01M339.5 95.4h.01M338.0 100.7h.01M338.0 97.3h.01M336.6 86.3h.01M342.0 85.5h.01M335.8 79.2h.01M337.8 95.0h.01M341.2 89.4h.01M339.8 81.6h.01M337.4 94.8h.01M337.3 94.5h.01M338.2 90.1h.01M352.6 73.9h.01M341.2 96.5h.01M343.8 92.5h.01M333.5 98.8h.01M342.1 90.7h.01M338.9 99.0h.01M340.5 87.5h.01M345.6 93.6h.01M338.7 97.2h.01M335.9 101.7h.01M342.6 74.7h.01M336.9 95.4h.01M342.6 77.9h.01M360.3 56.9h.01M338.6 89.6h.01M333.9 100.1h.01M348.9 75.3h.01M334.0 102.2h.01M346.2 75.6h.01M335.1 87.4h.01M337.7 96.0h.01M335.0 100.2h.01M334.4 91.2h.01M347.5 80.4h.01M340.4 91.3h.01M335.8 87.4h.01M336.1 94.4h.01M338.7 85.1h.01M347.1 79.0h.01M335.1 90.2h.01M335.7 94.2h.01M335.1 86.2h.01M339.3 98.3h.01M333.6 97.8h.01M338.4 95.6h.01M339.1 101.2h.01M339.5 95.4h.01M337.4 93.5h.01M336.6 100.6h.01M335.5 100.7h.01M338.0 99.7h.01M339.3 92.9h.01M350.2 81.5h.01M338.5 86.8h.01M338.3 94.3h.01M334.7 98.6h.01M346.6 90.7h.01M343.7 87.1h.01M337.5 100.4h.01M337.2 87.0h.01M344.6 88.2h.01M338.8 93.3h.01M340.8 90.4h.01M333.6 102.3h.01M342.5 93.5h.01M335.1 96.9h.01M340.2 88.6h.01M340.5 100.9h.01M347.7 79.3h.01M338.2 98.8h.01M333.6 100.9h.01M351.7 77.3h.01M342.9 76.0h.01M337.1 92.9h.01M344.1 83.5h.01M337.2 99.4h.01M333.1 102.5h.01M339.2 93.3h.01M338.6 90.0h.01M336.5 102.5h.01M337.5 99.6h.01M336.4 99.5h.01M336.6 98.7h.01M336.8 96.0h.01M343.0 79.2h.01M347.1 86.9h.01M336.3 101.6h.01M343.7 94.7h.01M343.3 97.4h.01M336.5 97.7h.01M344.5 72.9h.01M338.6 94.7h.01M342.8 96.7h.01M333.8 89.5h.01M342.6 99.9h.01M343.1 90.5h.01M336.8 101.4h.01M344.1 92.4h.01M341.6 90.5h.01M343.2 93.3h.01M346.7 83.9h.01M347.2 62.6h.01M346.8 90.8h.01M335.8 102.7h.01M337.8 101.9h.01M334.6 101.7h.01M336.9 98.0h.01M336.9 101.1h.01M341.6 88.1h.01M347.2 89.8h.01M333.1 102.0h.01M336.6 98.2h.01M337.0 101.4h.01M335.7 98.1h.01M335.5 99.0h.01M339.1 99.6h.01M338.9 97.6h.01M335.7 89.6h.01M337.7 88.2h.01M336.0 101.6h.01M342.5 93.7h.01M335.9 87.7h.01M340.4 98.0h.01M333.4 96.0h.01M339.6 96.0h.01M343.3 70.9h.01M346.0 87.2h.01M334.6 102.1h.01M344.7 97.9h.01M341.0 74.2h.01M337.8 98.5h.01M339.8 99.0h.01M345.1 79.3h.01M334.5 94.7h.01M342.0 99.9h.01M337.2 92.5h.01M336.3 95.4h.01M342.6 88.1h.01M337.8 96.2h.01M337.6 100.7h.01M340.3 97.1h.01M340.7 85.5h.01M336.7 88.8h.01M336.4 98.8h.01M342.4 73.1h.01M341.5 90.2h.01M344.8 87.3h.01M345.7 80.6h.01M336.2 96.2h.01M335.1 83.3h.01M338.5 98.5h.01M339.7 99.5h.01M334.9 100.2h.01M339.3 93.4h.01M333.6 95.8h.01M347.8 79.5h.01M332.9 100.7h.01M336.7 95.6h.01M334.5 97.6h.01M345.9 79.2h.01M338.5 94.9h.01M340.3 91.1h.01M347.2 88.3h.01M336.4 99.8h.01M338.7 88.6h.01M349.1 88.7h.01M340.5 92.2h.01M334.3 86.5h.01M346.9 88.7h.01M350.2 75.9h.01M339.0 99.0h.01M343.7 96.7h.01M339.1 98.2h.01M333.1 101.1h.01M334.1 102.2h.01M347.2 58.4h.01M334.4 96.7h.01M335.9 100.5h.01M339.7 88.3h.01M338.4 101.1h.01M343.6 89.2h.01M342.3 87.8h.01M338.1 99.9h.01M336.7 102.1h.01M335.9 99.2h.01M342.8 92.7h.01M339.6 88.4h.01M336.7 97.4h.01M341.9 93.4h.01M347.1 89.5h.01M338.9 100.8h.01M338.2 96.6h.01M341.2 91.0h.01M333.7 87.0h.01M339.0 92.4h.01M337.3 97.8h.01M336.8 94.4h.01M341.4 95.8h.01M335.0 91.6h.01M338.5 92.3h.01M337.9 99.2h.01M341.4 88.6h.01M337.3 102.5h.01M338.8 91.8h.01M335.7 102.2h.01M357.0 80.1h.01M335.6 93.4h.01M337.6 92.8h.01M335.0 95.5h.01M333.6 99.5h.01M337.6 100.2h.01M340.0 85.5h.01M340.1 83.4h.01M333.7 85.5h.01M338.9 90.7h.01M337.9 97.4h.01M347.6 73.4h.01M340.3 89.0h.01M349.8 73.1h.01M340.2 97.7h.01M333.9 86.5h.01M335.6 96.1h.01M341.5 101.2h.01M338.8 95.8h.01M340.5 86.5h.01M334.1 97.4h.01M338.1 93.1h.01M340.0 97.8h.01M338.8 97.8h.01M352.0 85.7h.01M335.4 80.8h.01M340.5 100.5h.01M340.4 96.1h.01M339.6 87.2h.01M344.6 49.1h.01M338.3 98.6h.01M341.1 68.4h.01M336.3 94.7h.01M338.7 96.3h.01M343.5 73.1h.01M342.2 80.3h.01M336.2 100.5h.01M335.8 99.4h.01M338.4 92.6h.01M346.0 82.8h.01M338.6 101.6h.01M338.1 98.8h.01M338.7 75.2h.01M334.0 93.1h.01M337.3 94.7h.01M342.8 87.9h.01M337.0 102.5h.01M337.9 100.8h.01M341.7 89.8h.01M347.5 74.5h.01M335.2 100.8h.01M340.7 93.9h.01M339.6 97.4h.01M333.4 96.0h.01M344.3 80.8h.01M335.8 99.3h.01M334.2 97.8h.01M348.2 75.2h.01M339.9 90.2h.01M334.9 99.3h.01M336.4 92.5h.01M338.9 82.4h.01M339.3 90.2h.01M341.1 100.3h.01M336.0 96.1h.01M340.4 97.0h.01M338.1 95.2h.01M338.4 88.6h.01M339.2 100.7h.01M340.1 94.4h.01M336.1 94.0h.01M336.1 100.9h.01M339.1 98.0h.01M336.1 100.2h.01M338.4 99.0h.01M336.7 101.6h.01M343.1 88.2h.01M354.8 55.9h.01M332.9 101.7h.01M341.9 88.8h.01M335.2 68.3h.01M341.1 96.5h.01M335.9 99.5h.01M350.5 77.9h.01M352.6 72.7h.01M338.7 101.4h.01M336.5 96.3h.01M340.0 94.9h.01M340.6 74.0h.01M342.5 94.3h.01M338.1 100.1h.01M339.9 94.8h.01M334.9 92.3h.01M340.5 95.7h.01M346.6 77.6h.01M338.6 100.7h.01M345.7 92.5h.01M336.2 102.2h.01M339.4 87.4h.01M335.8 99.9h.01M343.1 68.6h.01M343.3 90.8h.01M345.1 92.8h.01M347.2 90.0h.01M338.6 98.4h.01M345.9 88.8h.01M333.7 82.9h.01M340.1 89.3h.01M349.1 50.0h.01M341.1 101.0h.01M334.4 81.5h.01M344.1 77.6h.01M343.2 99.7h.01M336.8 95.0h.01M346.0 93.2h.01M344.2 92.7h.01M333.2 99.0h.01M346.0 96.3h.01M337.7 86.8h.01M348.8 60.7h.01M333.9 100.3h.01M338.7 97.3h.01M338.5 77.6h.01M333.8 95.9h.01M337.8 98.9h.01M339.6 95.1h.01M341.2 98.3h.01M340.3 100.3h.01M343.3 95.1h.01M339.0 101.1h.01M334.6 98.1h.01M343.3 85.5h.01M338.8 96.8h.01M342.2 86.6h.01M339.3 84.4h.01M338.5 98.8h.01M333.1 101.3h.01M344.4 87.2h.01M344.7 97.6h.01M341.4 94.4h.01M333.9 101.1h.01M336.5 94.8h.01M337.5 98.8h.01M348.5 81.1h.01M337.9 91.9h.01M342.0 75.4h.01M341.1 100.9h.01M339.1 99.4h.01M336.6 85.8h.01M349.3 77.6h.01M340.3 92.7h.01M335.6 84.4h.01M355.1 72.7h.01M339.2 97.1h.01M338.2 102.1h.01M337.9 97.7h.01M334.8 91.0h.01M342.4 98.3h.01M342.2 90.2h.01M335.0 95.8h.01M333.8 101.2h.01M359.8 50.6h.01M359.8 54.3h.01M341.0 99.3h.01M344.8 63.4h.01M336.5 101.5h.01M341.4 90.7h.01M333.3 94.6h.01M339.5 81.7h.01M333.7 101.6h.01M350.0 65.5h.01M343.4 83.9h.01M341.9 91.4h.01M341.1 74.5h.01M345.7 93.8h.01M334.8 92.7h.01M336.0 91.7h.01M334.8 93.5h.01M335.4 101.7h.01M334.5 102.2h.01M334.6 95.3h.01M340.9 92.1h.01M345.2 90.8h.01M348.3 80.1h.01M337.6 94.4h.01M336.8 98.1h.01M344.1 91.3h.01M333.6 87.6h.01M349.2 77.0h.01M343.5 87.7h.01M336.4 101.3h.01M340.4 97.5h.01M347.9 85.8h.01M341.9 87.3h.01M339.1 101.5h.01M339.7 97.5h.01M341.2 94.3h.01M335.4 94.9h.01M337.0 97.8h.01M338.9 99.0h.01M341.3 95.4h.01M342.1 98.4h.01M349.4 79.5h.01M334.6 90.6h.01M340.6 99.6h.01M336.8 82.1h.01M338.3 84.9h.01M334.6 101.2h.01M333.4 89.8h.01M338.6 102.2h.01M339.7 93.5h.01M333.8 95.7h.01M345.0 68.2h.01M342.4 89.8h.01M335.5 97.9h.01M343.6 87.2h.01M336.8 99.1h.01M338.4 84.6h.01M343.1 82.0h.01M338.4 84.0h.01M336.2 84.8h.01M336.1 101.4h.01M340.2 83.5h.01M340.8 89.8h.01M345.5 90.6h.01M337.2 96.1h.01M333.8 98.3h.01M341.2 96.7h.01M338.2 98.3h.01M337.6 89.0h.01M346.4 76.4h.01M346.0 80.9h.01M333.2 102.7h.01M347.7 84.0h.01M342.0 94.5h.01M340.9 100.7h.01M341.0 100.4h.01M338.1 88.0h.01M333.5 102.4h.01M336.3 100.1h.01M337.4 101.9h.01M339.6 99.7h.01M334.5 101.2h.01M341.9 82.5h.01M340.9 90.0h.01M336.2 101.9h.01M338.1 99.7h.01M336.8 92.8h.01M336.8 102.6h.01M349.1 51.9h.01M339.5 99.8h.01M338.2 100.3h.01M334.2 101.1h.01M333.6 89.8h.01M340.0 85.1h.01M337.2 100.2h.01M337.8 88.0h.01M337.7 101.8h.01M343.2 94.2h.01M354.9 60.7h.01M339.0 101.0h.01M344.9 63.8h.01M340.3 98.4h.01M341.9 91.4h.01M339.7 91.2h.01M349.3 74.9h.01M338.8 97.9h.01M339.5 91.7h.01M339.0 88.1h.01M337.7 74.5h.01M341.4 96.8h.01M334.3 100.7h.01M339.1 81.5h.01M343.3 88.6h.01M339.8 95.2h.01M333.5 98.0h.01M346.9 80.8h.01M343.7 92.9h.01M335.0 101.7h.01M340.7 90.9h.01M337.5 99.6h.01M347.7 76.0h.01M343.2 86.8h.01M335.5 67.4h.01M337.3 97.3h.01M339.2 95.0h.01M338.1 83.7h.01M342.3 95.4h.01M346.8 67.6h.01M343.6 91.5h.01M336.8 88.7h.01M336.5 90.6h.01M341.4 91.6h.01M335.5 90.4h.01M337.3 98.0h.01M350.5 74.4h.01M333.4 100.6h.01M336.0 94.9h.01M336.5 80.7h.01M335.1 100.5h.01M335.1 97.8h.01M339.8 101.8h.01M334.1 95.9h.01M335.5 92.0h.01M341.6 95.9h.01M342.4 93.7h.01M343.8 100.8h.01M334.2 93.2h.01M344.8 96.8h.01M342.0 91.8h.01M336.3 94.7h.01M337.9 97.1h.01M340.4 94.5h.01M341.6 90.5h.01M333.6 95.7h.01M339.3 85.4h.01M347.6 80.9h.01M341.9 70.0h.01M336.2 96.0h.01M333.6 97.5h.01M337.7 90.5h.01M336.3 94.6h.01M337.0 93.6h.01M334.6 101.6h.01M340.9 94.1h.01M338.7 88.8h.01M333.2 101.5h.01M333.9 95.8h.01M338.8 98.6h.01M339.2 96.8h.01M344.0 86.5h.01M340.3 74.2h.01M344.0 82.6h.01M344.4 92.8h.01M340.2 96.6h.01M333.6 97.2h.01M333.8 102.4h.01M345.2 90.4h.01M333.6 94.8h.01M340.2 95.3h.01M341.6 97.3h.01M346.1 94.8h.01M334.6 101.9h.01M336.4 102.4h.01M346.7 84.4h.01M336.0 95.8h.01M340.6 101.5h.01M338.4 95.3h.01M337.3 100.2h.01M343.7 73.3h.01M341.2 91.7h.01M341.6 94.1h.01M338.7 100.9h.01M337.8 102.2h.01M337.2 78.7h.01M334.7 92.4h.01M344.5 81.8h.01M338.6 101.0h.01M334.1 89.8h.01M362.4 48.5h.01M347.5 93.7h.01M339.6 100.5h.01M335.3 101.5h.01M335.3 100.9h.01M338.4 89.5h.01M339.3 79.4h.01M341.7 90.5h.01M335.4 96.4h.01M334.8 95.9h.01M338.8 99.4h.01M354.8 76.6h.01M335.5 100.9h.01M341.4 93.1h.01M340.1 97.7h.01M334.9 94.5h.01M348.0 74.2h.01M343.1 97.6h.01M341.2 64.2h.01M346.4 78.3h.01M346.2 83.9h.01M338.4 95.1h.01M335.1 101.4h.01M339.2 99.0h.01M339.8 84.6h.01M342.4 83.6h.01M335.8 99.5h.01M339.2 98.1h.01M342.3 95.5h.01M336.4 97.8h.01M333.8 100.1h.01M335.6 93.5h.01M338.5 101.6h.01M344.6 80.3h.01M334.1 101.5h.01M336.4 100.1h.01M334.7 100.5h.01M339.8 73.9h.01M333.8 95.7h.01M334.6 100.8h.01M334.2 99.7h.01M342.4 83.2h.01M335.8 102.2h.01M338.1 82.3h.01M336.6 99.3h.01M341.7 84.0h.01M333.0 100.0h.01M334.0 97.2h.01M333.6 101.7h.01M335.6 98.0h.01M341.4 99.0h.01M335.0 98.3h.01M351.1 65.2h.01M344.7 75.9h.01M339.6 100.3h.01M337.8 99.8h.01M335.0 100.5h.01M334.6 102.8h.01M344.2 89.5h.01M350.8 75.7h.01M344.6 85.6h.01M333.5 86.2h.01M339.1 90.8h.01M333.2 101.2h.01M334.2 102.4h.01M336.0 101.4h.01M341.9 93.5h.01M344.1 89.8h.01M333.2 99.1h.01M337.3 61.1h.01M339.9 86.1h.01M344.8 82.4h.01M344.7 72.8h.01M338.0 100.2h.01M335.5 93.8h.01M342.7 91.3h.01M345.4 92.9h.01M337.2 89.0h.01M344.4 83.9h.01M337.0 96.6h.01M339.8 96.9h.01M333.1 100.0h.01M345.5 80.8h.01M343.9 84.7h.01M347.6 87.6h.01M339.7 100.6h.01M340.0 89.2h.01M335.8 96.0h.01M347.2 82.7h.01M359.9 68.3h.01M345.9 88.5h.01M333.9 101.7h.01M334.8 97.1h.01M339.9 74.8h.01M337.5 96.8h.01M338.7 95.7h.01M337.2 96.9h.01M347.8 91.5h.01M336.8 98.6h.01M334.6 90.2h.01M340.4 99.6h.01M336.9 98.9h.01M333.7 101.9h.01M339.8 96.7h.01M337.5 98.8h.01M339.9 90.5h.01M333.3 100.5h.01M344.5 97.6h.01M339.2 98.9h.01M339.6 83.8h.01M342.8 89.9h.01M337.6 98.2h.01M340.2 94.4h.01M345.1 98.3h.01M341.1 99.3h.01M341.7 89.7h.01M340.1 101.5h.01M337.6 100.0h.01M339.4 80.3h.01M332.9 100.1h.01M339.0 86.7h.01M339.9 99.3h.01M335.8 102.7h.01M334.2 92.7h.01M354.3 66.9h.01M342.6 78.3h.01M341.2 96.4h.01M336.3 101.9h.01M334.8 101.0h.01M341.9 80.7h.01M345.5 89.5h.01M339.3 99.7h.01M347.5 79.8h.01M334.8 100.2h.01M344.6 94.7h.01M339.0 86.2h.01M334.6 97.1h.01M347.1 90.8h.01M341.2 93.6h.01M346.9 85.5h.01M333.1 102.2h.01M340.3 91.2h.01M338.8 90.8h.01M340.9 98.4h.01M335.4 96.8h.01M335.1 98.8h.01M333.4 96.7h.01M336.6 95.9h.01M337.1 98.3h.01M338.8 95.1h.01M344.0 92.6h.01M338.8 90.2h.01M352.1 62.1h.01M342.0 95.1h.01M344.5 86.5h.01M336.8 102.2h.01M336.7 101.6h.01M333.4 98.6h.01M338.8 97.6h.01M338.1 96.1h.01M338.2 64.9h.01M347.8 75.3h.01M338.5 99.1h.01M340.9 85.0h.01M337.6 93.2h.01M342.7 81.4h.01M334.0 100.0h.01M336.1 102.2h.01M334.8 71.2h.01M339.7 94.7h.01M335.4 100.3h.01M340.8 93.8h.01M336.8 99.1h.01M343.0 90.2h.01M333.8 102.6h.01M337.5 100.8h.01M336.1 98.6h.01M337.0 100.3h.01M350.5 70.8h.01M339.8 92.7h.01M340.9 99.8h.01M343.9 97.8h.01M336.2 78.6h.01M337.5 89.2h.01M338.8 101.1h.01M344.4 91.5h.01M350.8 77.4h.01M333.8 91.8h.01M356.8 85.4h.01M334.3 100.6h.01M339.4 100.9h.01M335.8 85.2h.01M347.7 84.8h.01M333.7 102.2h.01M335.1 88.9h.01M338.4 100.5h.01M341.3 91.7h.01M339.1 97.7h.01M344.5 80.9h.01M342.4 92.4h.01M345.4 94.5h.01M337.7 88.8h.01M340.4 95.6h.01M337.6 98.5h.01M336.7 92.2h.01M335.5 94.3h.01M346.3 78.6h.01M333.0 102.0h.01M340.3 97.4h.01M340.0 100.9h.01M338.4 82.6h.01M339.7 78.9h.01M337.4 98.4h.01M339.6 100.9h.01M344.5 75.6h.01M335.5 101.4h.01M346.0 75.7h.01M339.2 96.8h.01M338.4 99.3h.01M335.4 95.0h.01M333.9 91.5h.01M334.6 99.0h.01M338.1 94.3h.01M350.5 72.7h.01M337.2 96.1h.01M358.7 54.0h.01M333.9 98.2h.01M343.3 90.1h.01M345.9 88.4h.01M334.5 90.3h.01M338.7 101.1h.01M340.4 95.2h.01M338.2 73.4h.01M338.8 81.8h.01M333.6 87.9h.01M335.6 99.5h.01M336.6 99.6h.01M339.5 99.1h.01M340.8 95.3h.01M334.8 82.0h.01M338.6 84.0h.01M344.1 79.7h.01M335.1 102.6h.01M341.4 98.5h.01M336.5 90.4h.01M333.4 100.6h.01M335.7 92.8h.01M333.8 102.5h.01M340.8 94.1h.01M339.3 97.5h.01M337.7 93.3h.01M337.5 98.6h.01M336.1 97.1h.01M339.6 90.2h.01M334.8 96.8h.01M337.2 100.0h.01M341.5 83.2h.01M344.3 89.9h.01M343.2 100.4h.01M342.2 90.8h.01M346.8 86.5h.01M343.5 93.5h.01M344.3 94.3h.01M343.8 67.6h.01M336.8 96.6h.01M337.4 100.6h.01M340.3 96.9h.01M336.2 100.8h.01M334.2 98.2h.01M339.5 95.8h.01M342.3 93.0h.01M337.7 97.9h.01M333.7 92.3h.01M334.7 99.3h.01M339.1 84.1h.01M342.1 97.4h.01M333.3 100.1h.01M339.8 100.2h.01M336.5 90.8h.01M350.7 83.9h.01M343.2 96.2h.01M343.3 87.7h.01M344.3 89.5h.01M333.9 101.6h.01M340.1 93.5h.01M341.9 87.1h.01M336.0 94.2h.01M335.9 98.0h.01M341.4 74.6h.01M336.5 95.5h.01M339.9 91.2h.01M340.5 84.2h.01M338.5 91.0h.01M337.1 90.9h.01M336.2 97.3h.01M343.2 78.2h.01M339.6 91.1h.01M345.9 90.6h.01M346.2 89.7h.01M338.8 96.8h.01M346.9 83.9h.01M333.7 82.1h.01M347.1 85.5h.01M339.4 90.9h.01M346.8 85.9h.01M338.5 95.1h.01M337.6 98.4h.01M344.4 89.1h.01M341.6 79.9h.01M341.6 85.4h.01M337.8 95.1h.01M343.3 81.1h.01M339.3 92.4h.01M336.6 97.6h.01M335.7 95.1h.01M341.5 93.7h.01M336.0 98.9h.01M335.0 97.6h.01M344.3 74.8h.01M338.6 86.7h.01M336.4 102.5h.01M338.9 94.3h.01M342.0 69.3h.01M335.4 90.3h.01M336.3 96.4h.01M336.4 91.7h.01M334.2 100.3h.01M339.2 88.8h.01M342.4 82.0h.01M342.0 95.7h.01M341.7 90.3h.01M338.5 99.5h.01M334.8 98.8h.01M337.1 89.1h.01M342.4 97.2h.01M339.7 98.3h.01M338.0 102.2h.01M336.0 95.6h.01M335.1 94.8h.01M340.8 89.9h.01M336.6 92.8h.01M354.2 81.6h.01M336.8 102.2h.01M341.1 95.4h.01M337.0 100.0h.01M337.3 88.8h.01M338.6 92.5h.01M333.4 100.5h.01M336.2 97.1h.01M347.9 83.2h.01M334.8 82.1h.01M334.5 101.6h.01M339.3 99.7h.01M340.2 93.1h.01M341.2 93.9h.01M333.9 98.8h.01M340.3 99.5h.01M346.7 78.5h.01M343.1 98.3h.01M340.3 92.0h.01M342.7 86.3h.01M342.1 71.8h.01M340.0 101.1h.01M333.9 98.4h.01M335.9 101.7h.01M337.9 82.9h.01M338.4 90.1h.01M334.3 97.2h.01M336.8 93.3h.01M344.9 97.9h.01M334.0 86.3h.01M343.7 89.8h.01M339.2 90.4h.01M337.6 96.2h.01M343.1 95.2h.01M339.5 92.1h.01M335.9 98.2h.01M342.0 97.7h.01M337.1 93.5h.01M340.8 80.0h.01M338.9 91.3h.01M338.0 94.8h.01M337.1 93.4h.01M342.1 100.8h.01M345.1 89.7h.01M341.4 91.0h.01M335.8 99.5h.01M333.3 95.5h.01M335.5 100.0h.01M334.5 100.2h.01M350.6 74.3h.01M342.6 94.9h.01M334.9 100.0h.01M342.3 91.9h.01M341.1 99.5h.01M333.5 85.9h.01M334.3 97.5h.01M340.0 87.9h.01M334.0 91.7h.01M335.1 99.3h.01M339.9 83.8h.01M351.8 83.5h.01M338.5 81.9h.01M343.4 80.4h.01M343.9 89.5h.01M344.1 93.9h.01M344.6 80.4h.01M335.4 82.7h.01M340.5 97.5h.01M342.2 92.4h.01M336.4 94.9h.01M333.8 101.9h.01M337.5 98.3h.01M334.9 93.6h.01M333.3 102.7h.01M334.9 99.5h.01M341.9 93.4h.01M347.0 97.1h.01M340.1 92.9h.01M343.5 94.0h.01M338.4 98.5h.01M339.9 96.4h.01M347.2 85.7h.01M348.0 85.3h.01M336.8 87.2h.01M337.4 94.1h.01M337.3 88.7h.01M337.4 96.4h.01M338.2 87.6h.01M344.3 88.2h.01M340.3 99.7h.01M333.2 99.7h.01M335.4 100.7h.01M335.0 100.9h.01M337.1 88.4h.01M336.3 76.6h.01M338.3 72.1h.01M338.3 92.8h.01M334.4 101.4h.01M340.5 95.5h.01M340.5 92.0h.01M335.1 98.0h.01M347.1 89.4h.01M338.3 91.8h.01M345.6 91.4h.01M333.3 96.3h.01M339.4 96.7h.01M335.4 98.3h.01M344.3 87.7h.01M336.1 99.9h.01M337.8 92.6h.01M342.4 91.8h.01M343.8 97.0h.01M334.6 102.6h.01M335.2 87.6h.01M334.7 90.5h.01M338.3 94.2h.01M337.1 100.8h.01M340.1 88.1h.01M338.6 84.9h.01M336.9 100.8h.01M345.6 83.9h.01M340.0 97.1h.01M337.1 87.4h.01M334.8 95.9h.01M337.8 80.3h.01M338.9 84.7h.01M334.0 96.4h.01M338.3 75.3h.01M334.0 96.8h.01M340.3 82.5h.01M343.7 94.2h.01M334.2 100.9h.01M334.8 90.3h.01M353.1 68.0h.01M336.3 101.9h.01M343.1 83.6h.01M334.9 100.4h.01M340.2 97.6h.01M336.5 89.1h.01M340.2 100.3h.01M336.5 88.9h.01M339.7 97.1h.01M338.8 98.2h.01M333.7 96.8h.01M343.1 83.9h.01M339.8 91.6h.01M335.1 100.6h.01M345.3 81.5h.01M348.7 73.9h.01M339.3 100.3h.01M337.8 97.9h.01M342.7 94.4h.01M336.3 89.7h.01M340.5 90.2h.01M341.0 83.8h.01M338.1 95.1h.01M341.7 96.0h.01M338.8 102.3h.01M334.5 99.9h.01M343.6 96.1h.01M347.8 69.9h.01M346.2 93.2h.01M335.3 99.3h.01M340.0 100.8h.01M344.1 94.8h.01M350.7 84.6h.01M340.2 78.8h.01M336.6 93.5h.01M340.3 97.9h.01M333.5 101.7h.01M333.8 102.1h.01M333.4 102.4h.01M337.1 101.7h.01M338.8 94.6h.01M339.4 98.9h.01M337.8 62.6h.01M339.8 92.0h.01M341.3 93.2h.01M340.2 79.5h.01M337.9 95.1h.01M339.5 102.0h.01M334.7 101.6h.01M333.7 84.5h.01M337.7 97.9h.01M347.8 95.4h.01M346.5 92.6h.01M338.8 101.6h.01M337.4 95.5h.01" stroke="#ea2a2a" stroke-width="1.10" stroke-linecap="round" fill="none" opacity="1"/>
</g>
<circle cx="324" cy="99.6" r="0.9" fill="#1f4fb0"/>
<line x1="269.80" y1="103.60" x2="372.30" y2="103.60" stroke="#c8c8c8" stroke-width="0.6" stroke-dasharray="1.2,1.2"/>
<line x1="325.30" y1="19.20" x2="325.30" y2="108.40" stroke="#c8c8c8" stroke-width="0.6" stroke-dasharray="1.2,1.2"/>
<line x1="332.70" y1="19.20" x2="332.70" y2="108.40" stroke="#c8c8c8" stroke-width="0.6" stroke-dasharray="1.2,1.2"/>
<rect x="269.80" y="19.20" width="102.50" height="89.20" fill="none" stroke="#bdb8b8" stroke-width="1.3" />
<text x="268.60" y="26.90" font-size="6.4" fill="#3a3a3a" stroke="#3a3a3a" stroke-width="0.16" text-anchor="end" >100</text>
<text x="268.60" y="46.80" font-size="6.4" fill="#3a3a3a" stroke="#3a3a3a" stroke-width="0.16" text-anchor="end" >75</text>
<text x="268.60" y="67.00" font-size="6.4" fill="#3a3a3a" stroke="#3a3a3a" stroke-width="0.16" text-anchor="end" >50</text>
<text x="268.60" y="86.70" font-size="6.4" fill="#3a3a3a" stroke="#3a3a3a" stroke-width="0.16" text-anchor="end" >25</text>
<text x="268.60" y="106.20" font-size="6.4" fill="#3a3a3a" stroke="#3a3a3a" stroke-width="0.16" text-anchor="end" >0</text>
<text transform="translate(256.10,69.50) rotate(-90)" font-size="7.5" fill="#4a4a4a" text-anchor="middle" textLength="55" lengthAdjust="spacingAndGlyphs" >-log10(FDR)</text>
<text x="294.60" y="115.30" font-size="6.4" fill="#3a3a3a" stroke="#3a3a3a" stroke-width="0.16" text-anchor="middle" >-5</text>
<text x="329.30" y="115.30" font-size="6.4" fill="#3a3a3a" stroke="#3a3a3a" stroke-width="0.16" text-anchor="middle" >0</text>
<text x="357.40" y="115.30" font-size="6.4" fill="#3a3a3a" stroke="#3a3a3a" stroke-width="0.16" text-anchor="middle" >5</text>
<text x="326.00" y="123.60" font-size="6.8" fill="#3a3a3a" stroke="#3a3a3a" stroke-width="0.17" text-anchor="middle" textLength="17.5" lengthAdjust="spacingAndGlyphs" >logFC</text>
<circle cx="272.3" cy="76.9" r="1.1" fill="#76b83a"/>
<text x="274.30" y="78.56" font-size="4.6" fill="#444" >Down</text>
<circle cx="272.3" cy="82.4" r="1.1" fill="#a9a9a9"/>
<text x="274.30" y="84.06" font-size="4.6" fill="#444" >Not</text>
<circle cx="272.3" cy="88.2" r="1.1" fill="#e8282a"/>
<text x="274.30" y="89.86" font-size="4.6" fill="#444" >Up</text>
<text x="342.90" y="23.29" font-size="3.3" fill="#3a3a3a" textLength="27.0" lengthAdjust="spacingAndGlyphs" >PER3 logFC=-2.19</text>
<text x="342.90" y="27.19" font-size="3.3" fill="#3a3a3a" textLength="24.0" lengthAdjust="spacingAndGlyphs" >P-value=1.5e-06</text>
<text x="342.90" y="31.09" font-size="3.3" fill="#3a3a3a" textLength="21.5" lengthAdjust="spacingAndGlyphs" >FDR=3.13e-06</text>
<text x="342.90" y="34.99" font-size="3.3" fill="#3a3a3a" textLength="23.0" lengthAdjust="spacingAndGlyphs" >Direction=Down</text>
<!--C-->
<line x1="401.90" y1="99.30" x2="404.70" y2="99.30" stroke="#8c8c8c" stroke-width="0.6" />
<text transform="translate(400.15,99.30) rotate(-90)" font-size="4.3" fill="#333" text-anchor="middle" >0</text>
<line x1="401.90" y1="80.80" x2="404.70" y2="80.80" stroke="#8c8c8c" stroke-width="0.6" />
<text transform="translate(400.15,80.80) rotate(-90)" font-size="4.3" fill="#333" text-anchor="middle" >20</text>
<line x1="401.90" y1="62.30" x2="404.70" y2="62.30" stroke="#8c8c8c" stroke-width="0.6" />
<text transform="translate(400.15,62.30) rotate(-90)" font-size="4.3" fill="#333" text-anchor="middle" >40</text>
<line x1="401.90" y1="43.80" x2="404.70" y2="43.80" stroke="#8c8c8c" stroke-width="0.6" />
<text transform="translate(400.15,43.80) rotate(-90)" font-size="4.3" fill="#333" text-anchor="middle" >60</text>
<line x1="401.90" y1="25.30" x2="404.70" y2="25.30" stroke="#8c8c8c" stroke-width="0.6" />
<text transform="translate(400.15,25.30) rotate(-90)" font-size="4.3" fill="#333" text-anchor="middle" >80</text>
<text transform="translate(390.31,60.40) rotate(-90)" font-size="5.3" fill="#222" stroke="#222" stroke-width="0.13" text-anchor="middle" textLength="42" lengthAdjust="spacingAndGlyphs" >PER3 expression</text>
<line x1="424.30" y1="67.50" x2="444.90" y2="67.50" stroke="#6e6262" stroke-width="0.8" />
<line x1="424.30" y1="97.20" x2="444.90" y2="97.20" stroke="#6e6262" stroke-width="0.8" />
<rect x="414.00" y="81.40" width="41.50" height="11.60" fill="#d2d2d2" stroke="#8a8a8a" stroke-width="0.7" />
<line x1="414.00" y1="87.20" x2="455.50" y2="87.20" stroke="#3a3a3a" stroke-width="1.2" />
<line x1="475.70" y1="73.70" x2="497.00" y2="73.70" stroke="#6e6262" stroke-width="0.8" />
<line x1="475.70" y1="99.30" x2="497.00" y2="99.30" stroke="#6e6262" stroke-width="0.8" />
<rect x="465.20" y="86.70" width="41.90" height="8.80" fill="#d2d2d2" stroke="#8a8a8a" stroke-width="0.7" />
<line x1="465.20" y1="92.30" x2="507.10" y2="92.30" stroke="#3a3a3a" stroke-width="1.2" />
<circle cx="435.8" cy="95.4" r="0.7" fill="none" stroke="#3f64c0" stroke-width="0.4"/>
<circle cx="434.5" cy="83.6" r="0.7" fill="none" stroke="#3f64c0" stroke-width="0.4"/>
<circle cx="433.7" cy="96.2" r="0.7" fill="none" stroke="#3f64c0" stroke-width="0.4"/>
<circle cx="434.6" cy="86.8" r="0.7" fill="none" stroke="#3f64c0" stroke-width="0.4"/>
<circle cx="433.5" cy="95.3" r="0.7" fill="none" stroke="#3f64c0" stroke-width="0.4"/>
<circle cx="434.0" cy="95.9" r="0.7" fill="none" stroke="#3f64c0" stroke-width="0.4"/>
<circle cx="435.1" cy="75.0" r="0.7" fill="none" stroke="#3f64c0" stroke-width="0.4"/>
<circle cx="433.3" cy="79.1" r="0.7" fill="none" stroke="#3f64c0" stroke-width="0.4"/>
<circle cx="435.0" cy="67.3" r="0.7" fill="none" stroke="#3f64c0" stroke-width="0.4"/>
<circle cx="434.9" cy="88.5" r="0.7" fill="none" stroke="#3f64c0" stroke-width="0.4"/>
<circle cx="434.7" cy="85.6" r="0.7" fill="none" stroke="#3f64c0" stroke-width="0.4"/>
<circle cx="433.4" cy="85.3" r="0.7" fill="none" stroke="#3f64c0" stroke-width="0.4"/>
<circle cx="433.3" cy="84.3" r="0.7" fill="none" stroke="#3f64c0" stroke-width="0.4"/>
<circle cx="434.5" cy="81.2" r="0.7" fill="none" stroke="#3f64c0" stroke-width="0.4"/>
<circle cx="434.7" cy="97.9" r="0.7" fill="none" stroke="#3f64c0" stroke-width="0.4"/>
<circle cx="435.0" cy="81.2" r="0.7" fill="none" stroke="#3f64c0" stroke-width="0.4"/>
<circle cx="434.5" cy="97.3" r="0.7" fill="none" stroke="#3f64c0" stroke-width="0.4"/>
<circle cx="434.0" cy="86.3" r="0.7" fill="none" stroke="#3f64c0" stroke-width="0.4"/>
<circle cx="435.6" cy="64.2" r="0.7" fill="none" stroke="#3f64c0" stroke-width="0.4"/>
<circle cx="435.2" cy="86.7" r="0.7" fill="none" stroke="#3f64c0" stroke-width="0.4"/>
<circle cx="434.0" cy="88.5" r="0.7" fill="none" stroke="#3f64c0" stroke-width="0.4"/>
<circle cx="433.4" cy="81.4" r="0.7" fill="none" stroke="#3f64c0" stroke-width="0.4"/>
<circle cx="435.6" cy="85.6" r="0.7" fill="none" stroke="#3f64c0" stroke-width="0.4"/>
<circle cx="434.3" cy="93.8" r="0.7" fill="none" stroke="#3f64c0" stroke-width="0.4"/>
<circle cx="433.2" cy="72.5" r="0.7" fill="none" stroke="#3f64c0" stroke-width="0.4"/>
<circle cx="433.8" cy="90.1" r="0.7" fill="none" stroke="#3f64c0" stroke-width="0.4"/>
<circle cx="435.9" cy="79.3" r="0.7" fill="none" stroke="#3f64c0" stroke-width="0.4"/>
<circle cx="434.3" cy="90.8" r="0.7" fill="none" stroke="#3f64c0" stroke-width="0.4"/>
<circle cx="435.4" cy="77.0" r="0.7" fill="none" stroke="#3f64c0" stroke-width="0.4"/>
<circle cx="434.0" cy="81.7" r="0.7" fill="none" stroke="#3f64c0" stroke-width="0.4"/>
<circle cx="435.9" cy="80.7" r="0.7" fill="none" stroke="#3f64c0" stroke-width="0.4"/>
<circle cx="435.3" cy="82.9" r="0.7" fill="none" stroke="#3f64c0" stroke-width="0.4"/>
<circle cx="433.5" cy="82.2" r="0.7" fill="none" stroke="#3f64c0" stroke-width="0.4"/>
<circle cx="433.4" cy="82.6" r="0.7" fill="none" stroke="#3f64c0" stroke-width="0.4"/>
<circle cx="434.8" cy="85.0" r="0.7" fill="none" stroke="#3f64c0" stroke-width="0.4"/>
<circle cx="434.5" cy="90.8" r="0.7" fill="none" stroke="#3f64c0" stroke-width="0.4"/>
<circle cx="433.6" cy="82.0" r="0.7" fill="none" stroke="#3f64c0" stroke-width="0.4"/>
<circle cx="435.0" cy="75.2" r="0.7" fill="none" stroke="#3f64c0" stroke-width="0.4"/>
<circle cx="433.8" cy="80.6" r="0.7" fill="none" stroke="#3f64c0" stroke-width="0.4"/>
<circle cx="434.0" cy="81.2" r="0.7" fill="none" stroke="#3f64c0" stroke-width="0.4"/>
<circle cx="434.1" cy="73.2" r="0.7" fill="none" stroke="#3f64c0" stroke-width="0.4"/>
<circle cx="435.7" cy="88.8" r="0.7" fill="none" stroke="#3f64c0" stroke-width="0.4"/>
<circle cx="435.6" cy="84.5" r="0.7" fill="none" stroke="#3f64c0" stroke-width="0.4"/>
<circle cx="435.0" cy="79.2" r="0.7" fill="none" stroke="#3f64c0" stroke-width="0.4"/>
<circle cx="433.8" cy="68.3" r="0.7" fill="none" stroke="#3f64c0" stroke-width="0.4"/>
<circle cx="433.9" cy="73.2" r="0.7" fill="none" stroke="#3f64c0" stroke-width="0.4"/>
<circle cx="434.0" cy="85.4" r="0.7" fill="none" stroke="#3f64c0" stroke-width="0.4"/>
<circle cx="433.4" cy="92.9" r="0.7" fill="none" stroke="#3f64c0" stroke-width="0.4"/>
<circle cx="433.9" cy="78.1" r="0.7" fill="none" stroke="#3f64c0" stroke-width="0.4"/>
<circle cx="434.9" cy="81.1" r="0.7" fill="none" stroke="#3f64c0" stroke-width="0.4"/>
<circle cx="435.9" cy="92.0" r="0.7" fill="none" stroke="#3f64c0" stroke-width="0.4"/>
<circle cx="434.6" cy="80.5" r="0.7" fill="none" stroke="#3f64c0" stroke-width="0.4"/>
<circle cx="433.7" cy="97.9" r="0.7" fill="none" stroke="#3f64c0" stroke-width="0.4"/>
<circle cx="433.6" cy="93.1" r="0.7" fill="none" stroke="#3f64c0" stroke-width="0.4"/>
<circle cx="433.9" cy="74.9" r="0.7" fill="none" stroke="#3f64c0" stroke-width="0.4"/>
<circle cx="433.7" cy="93.8" r="0.7" fill="none" stroke="#3f64c0" stroke-width="0.4"/>
<circle cx="433.8" cy="87.5" r="0.7" fill="none" stroke="#3f64c0" stroke-width="0.4"/>
<circle cx="435.9" cy="97.9" r="0.7" fill="none" stroke="#3f64c0" stroke-width="0.4"/>
<circle cx="434.4" cy="78.9" r="0.7" fill="none" stroke="#3f64c0" stroke-width="0.4"/>
<circle cx="433.5" cy="93.1" r="0.7" fill="none" stroke="#3f64c0" stroke-width="0.4"/>
<circle cx="433.9" cy="67.9" r="0.7" fill="none" stroke="#3f64c0" stroke-width="0.4"/>
<circle cx="435.2" cy="81.8" r="0.7" fill="none" stroke="#3f64c0" stroke-width="0.4"/>
<circle cx="434.9" cy="87.0" r="0.7" fill="none" stroke="#3f64c0" stroke-width="0.4"/>
<circle cx="434.0" cy="72.6" r="0.7" fill="none" stroke="#3f64c0" stroke-width="0.4"/>
<circle cx="433.4" cy="81.0" r="0.7" fill="none" stroke="#3f64c0" stroke-width="0.4"/>
<circle cx="433.8" cy="75.8" r="0.7" fill="none" stroke="#3f64c0" stroke-width="0.4"/>
<circle cx="434.9" cy="97.9" r="0.7" fill="none" stroke="#3f64c0" stroke-width="0.4"/>
<circle cx="434.0" cy="91.6" r="0.7" fill="none" stroke="#3f64c0" stroke-width="0.4"/>
<circle cx="433.2" cy="82.0" r="0.7" fill="none" stroke="#3f64c0" stroke-width="0.4"/>
<circle cx="434.0" cy="88.8" r="0.7" fill="none" stroke="#3f64c0" stroke-width="0.4"/>
<g fill="none" stroke="#e8402c" stroke-width="0.5"><circle cx="479.5" cy="99.3" r="0.7"/><circle cx="480.6" cy="99.5" r="0.7"/><circle cx="481.8" cy="99.4" r="0.7"/><circle cx="482.8" cy="99.1" r="0.7"/><circle cx="485.3" cy="99.5" r="0.7"/><circle cx="487.5" cy="99.4" r="0.7"/><circle cx="488.8" cy="99.1" r="0.7"/><circle cx="489.9" cy="99.5" r="0.7"/><circle cx="491.1" cy="99.4" r="0.7"/><circle cx="492.1" cy="99.4" r="0.7"/><circle cx="493.4" cy="99.3" r="0.7"/><circle cx="494.6" cy="99.3" r="0.7"/><circle cx="471.5" cy="98.0" r="0.7"/><circle cx="473.9" cy="98.1" r="0.7"/><circle cx="474.9" cy="98.0" r="0.7"/><circle cx="476.0" cy="98.1" r="0.7"/><circle cx="478.2" cy="98.0" r="0.7"/><circle cx="479.4" cy="98.0" r="0.7"/><circle cx="480.7" cy="98.1" r="0.7"/><circle cx="481.7" cy="97.9" r="0.7"/><circle cx="482.9" cy="97.8" r="0.7"/><circle cx="484.1" cy="97.9" r="0.7"/><circle cx="485.2" cy="98.0" r="0.7"/><circle cx="486.4" cy="98.1" r="0.7"/><circle cx="487.7" cy="97.9" r="0.7"/><circle cx="488.6" cy="97.8" r="0.7"/><circle cx="490.0" cy="98.1" r="0.7"/><circle cx="491.1" cy="97.9" r="0.7"/><circle cx="492.1" cy="97.9" r="0.7"/><circle cx="493.3" cy="98.0" r="0.7"/><circle cx="494.4" cy="98.1" r="0.7"/><circle cx="495.6" cy="97.8" r="0.7"/><circle cx="497.8" cy="98.0" r="0.7"/><circle cx="499.0" cy="98.1" r="0.7"/><circle cx="501.3" cy="97.8" r="0.7"/><circle cx="465.6" cy="96.4" r="0.7"/><circle cx="466.8" cy="96.7" r="0.7"/><circle cx="468.1" cy="96.8" r="0.7"/><circle cx="469.1" cy="96.6" r="0.7"/><circle cx="470.2" cy="96.6" r="0.7"/><circle cx="471.4" cy="96.5" r="0.7"/><circle cx="472.7" cy="96.6" r="0.7"/><circle cx="473.8" cy="96.6" r="0.7"/><circle cx="475.0" cy="96.4" r="0.7"/><circle cx="476.1" cy="96.5" r="0.7"/><circle cx="477.2" cy="96.8" r="0.7"/><circle cx="478.4" cy="96.8" r="0.7"/><circle cx="479.6" cy="96.6" r="0.7"/><circle cx="480.6" cy="96.7" r="0.7"/><circle cx="481.8" cy="96.7" r="0.7"/><circle cx="483.1" cy="96.8" r="0.7"/><circle cx="484.1" cy="96.7" r="0.7"/><circle cx="485.4" cy="96.7" r="0.7"/><circle cx="486.3" cy="96.6" r="0.7"/><circle cx="487.6" cy="96.6" r="0.7"/><circle cx="489.7" cy="96.7" r="0.7"/><circle cx="491.0" cy="96.7" r="0.7"/><circle cx="492.0" cy="96.6" r="0.7"/><circle cx="493.4" cy="96.7" r="0.7"/><circle cx="494.4" cy="96.8" r="0.7"/><circle cx="496.8" cy="96.5" r="0.7"/><circle cx="497.9" cy="96.6" r="0.7"/><circle cx="499.1" cy="96.5" r="0.7"/><circle cx="500.3" cy="96.8" r="0.7"/><circle cx="501.5" cy="96.8" r="0.7"/><circle cx="502.5" cy="96.5" r="0.7"/><circle cx="503.7" cy="96.6" r="0.7"/><circle cx="506.0" cy="96.6" r="0.7"/><circle cx="507.1" cy="96.6" r="0.7"/><circle cx="469.1" cy="95.4" r="0.7"/><circle cx="470.2" cy="95.2" r="0.7"/><circle cx="471.4" cy="95.4" r="0.7"/><circle cx="472.6" cy="95.2" r="0.7"/><circle cx="473.8" cy="95.4" r="0.7"/><circle cx="475.0" cy="95.1" r="0.7"/><circle cx="476.0" cy="95.3" r="0.7"/><circle cx="477.2" cy="95.3" r="0.7"/><circle cx="478.4" cy="95.1" r="0.7"/><circle cx="479.4" cy="95.1" r="0.7"/><circle cx="480.6" cy="95.2" r="0.7"/><circle cx="481.8" cy="95.1" r="0.7"/><circle cx="483.0" cy="95.3" r="0.7"/><circle cx="484.2" cy="95.3" r="0.7"/><circle cx="485.2" cy="95.3" r="0.7"/><circle cx="486.5" cy="95.2" r="0.7"/><circle cx="487.7" cy="95.1" r="0.7"/><circle cx="488.8" cy="95.1" r="0.7"/><circle cx="489.9" cy="95.2" r="0.7"/><circle cx="492.1" cy="95.4" r="0.7"/><circle cx="493.3" cy="95.3" r="0.7"/><circle cx="495.7" cy="95.4" r="0.7"/><circle cx="496.6" cy="95.3" r="0.7"/><circle cx="497.9" cy="95.3" r="0.7"/><circle cx="498.9" cy="95.1" r="0.7"/><circle cx="501.4" cy="95.3" r="0.7"/><circle cx="502.4" cy="95.1" r="0.7"/><circle cx="503.8" cy="95.4" r="0.7"/><circle cx="473.7" cy="94.0" r="0.7"/><circle cx="474.9" cy="93.9" r="0.7"/><circle cx="476.1" cy="93.7" r="0.7"/><circle cx="477.3" cy="93.8" r="0.7"/><circle cx="478.4" cy="93.9" r="0.7"/><circle cx="479.4" cy="93.9" r="0.7"/><circle cx="481.9" cy="94.0" r="0.7"/><circle cx="483.0" cy="93.9" r="0.7"/><circle cx="484.1" cy="94.1" r="0.7"/><circle cx="485.2" cy="94.1" r="0.7"/><circle cx="486.5" cy="94.0" r="0.7"/><circle cx="487.7" cy="94.1" r="0.7"/><circle cx="488.8" cy="94.0" r="0.7"/><circle cx="489.9" cy="93.7" r="0.7"/><circle cx="491.0" cy="93.7" r="0.7"/><circle cx="492.2" cy="93.9" r="0.7"/><circle cx="493.4" cy="94.0" r="0.7"/><circle cx="494.5" cy="93.9" r="0.7"/><circle cx="495.6" cy="94.1" r="0.7"/><circle cx="496.8" cy="94.0" r="0.7"/><circle cx="497.8" cy="93.9" r="0.7"/><circle cx="499.0" cy="93.9" r="0.7"/><circle cx="474.9" cy="92.4" r="0.7"/><circle cx="476.2" cy="92.6" r="0.7"/><circle cx="477.3" cy="92.6" r="0.7"/><circle cx="478.4" cy="92.7" r="0.7"/><circle cx="480.7" cy="92.4" r="0.7"/><circle cx="481.7" cy="92.5" r="0.7"/><circle cx="482.9" cy="92.6" r="0.7"/><circle cx="485.2" cy="92.6" r="0.7"/><circle cx="486.4" cy="92.5" r="0.7"/><circle cx="487.6" cy="92.5" r="0.7"/><circle cx="488.6" cy="92.4" r="0.7"/><circle cx="489.7" cy="92.4" r="0.7"/><circle cx="491.0" cy="92.7" r="0.7"/><circle cx="492.0" cy="92.7" r="0.7"/><circle cx="493.2" cy="92.7" r="0.7"/><circle cx="494.4" cy="92.7" r="0.7"/><circle cx="495.6" cy="92.7" r="0.7"/><circle cx="496.7" cy="92.7" r="0.7"/><circle cx="497.9" cy="92.4" r="0.7"/><circle cx="470.2" cy="91.0" r="0.7"/><circle cx="471.3" cy="91.2" r="0.7"/><circle cx="472.6" cy="91.1" r="0.7"/><circle cx="473.7" cy="91.3" r="0.7"/><circle cx="475.0" cy="91.4" r="0.7"/><circle cx="476.0" cy="91.0" r="0.7"/><circle cx="477.3" cy="91.2" r="0.7"/><circle cx="478.3" cy="91.3" r="0.7"/><circle cx="479.5" cy="91.3" r="0.7"/><circle cx="480.6" cy="91.1" r="0.7"/><circle cx="481.9" cy="91.4" r="0.7"/><circle cx="485.2" cy="91.2" r="0.7"/><circle cx="486.4" cy="91.0" r="0.7"/><circle cx="488.7" cy="91.3" r="0.7"/><circle cx="489.8" cy="91.1" r="0.7"/><circle cx="491.1" cy="91.3" r="0.7"/><circle cx="493.4" cy="91.2" r="0.7"/><circle cx="494.4" cy="91.2" r="0.7"/><circle cx="495.7" cy="91.1" r="0.7"/><circle cx="496.9" cy="91.1" r="0.7"/><circle cx="498.0" cy="91.4" r="0.7"/><circle cx="499.0" cy="91.0" r="0.7"/><circle cx="500.1" cy="91.0" r="0.7"/><circle cx="501.3" cy="91.3" r="0.7"/><circle cx="502.6" cy="91.0" r="0.7"/><circle cx="473.6" cy="89.8" r="0.7"/><circle cx="475.0" cy="89.8" r="0.7"/><circle cx="476.0" cy="89.9" r="0.7"/><circle cx="477.1" cy="89.9" r="0.7"/><circle cx="478.5" cy="90.0" r="0.7"/><circle cx="479.5" cy="90.0" r="0.7"/><circle cx="480.6" cy="89.8" r="0.7"/><circle cx="481.9" cy="89.7" r="0.7"/><circle cx="482.9" cy="89.8" r="0.7"/><circle cx="484.1" cy="89.7" r="0.7"/><circle cx="485.3" cy="89.9" r="0.7"/><circle cx="486.4" cy="89.7" r="0.7"/><circle cx="487.7" cy="89.8" r="0.7"/><circle cx="489.9" cy="89.9" r="0.7"/><circle cx="491.0" cy="90.0" r="0.7"/><circle cx="493.4" cy="89.7" r="0.7"/><circle cx="495.7" cy="89.7" r="0.7"/><circle cx="496.6" cy="89.9" r="0.7"/><circle cx="497.8" cy="89.7" r="0.7"/><circle cx="499.1" cy="90.0" r="0.7"/><circle cx="473.9" cy="88.6" r="0.7"/><circle cx="474.9" cy="88.6" r="0.7"/><circle cx="476.2" cy="88.5" r="0.7"/><circle cx="477.3" cy="88.6" r="0.7"/><circle cx="478.5" cy="88.7" r="0.7"/><circle cx="479.5" cy="88.5" r="0.7"/><circle cx="480.7" cy="88.5" r="0.7"/><circle cx="481.7" cy="88.6" r="0.7"/><circle cx="482.9" cy="88.4" r="0.7"/><circle cx="484.1" cy="88.4" r="0.7"/><circle cx="485.1" cy="88.4" r="0.7"/><circle cx="486.4" cy="88.6" r="0.7"/><circle cx="487.4" cy="88.5" r="0.7"/><circle cx="488.8" cy="88.3" r="0.7"/><circle cx="489.8" cy="88.4" r="0.7"/><circle cx="491.1" cy="88.5" r="0.7"/><circle cx="492.1" cy="88.4" r="0.7"/><circle cx="493.4" cy="88.4" r="0.7"/><circle cx="494.5" cy="88.5" r="0.7"/><circle cx="495.7" cy="88.7" r="0.7"/><circle cx="496.8" cy="88.7" r="0.7"/><circle cx="497.8" cy="88.3" r="0.7"/><circle cx="499.1" cy="88.5" r="0.7"/><circle cx="472.5" cy="87.3" r="0.7"/><circle cx="473.7" cy="87.0" r="0.7"/><circle cx="474.9" cy="87.3" r="0.7"/><circle cx="476.1" cy="87.0" r="0.7"/><circle cx="477.1" cy="87.1" r="0.7"/><circle cx="478.4" cy="87.2" r="0.7"/><circle cx="479.4" cy="87.2" r="0.7"/><circle cx="480.7" cy="87.0" r="0.7"/><circle cx="481.9" cy="87.3" r="0.7"/><circle cx="484.2" cy="87.0" r="0.7"/><circle cx="485.2" cy="87.3" r="0.7"/><circle cx="486.5" cy="87.1" r="0.7"/><circle cx="487.5" cy="87.3" r="0.7"/><circle cx="489.8" cy="87.2" r="0.7"/><circle cx="490.9" cy="87.3" r="0.7"/><circle cx="492.1" cy="87.0" r="0.7"/><circle cx="493.3" cy="87.2" r="0.7"/><circle cx="494.5" cy="87.0" r="0.7"/><circle cx="495.6" cy="87.3" r="0.7"/><circle cx="496.8" cy="87.0" r="0.7"/><circle cx="498.0" cy="87.0" r="0.7"/><circle cx="499.0" cy="87.0" r="0.7"/><circle cx="500.3" cy="87.0" r="0.7"/><circle cx="473.7" cy="85.8" r="0.7"/><circle cx="474.9" cy="85.8" r="0.7"/><circle cx="476.0" cy="85.7" r="0.7"/><circle cx="477.1" cy="86.0" r="0.7"/><circle cx="478.4" cy="85.7" r="0.7"/><circle cx="479.4" cy="85.7" r="0.7"/><circle cx="481.9" cy="85.7" r="0.7"/><circle cx="483.1" cy="85.8" r="0.7"/><circle cx="485.1" cy="85.6" r="0.7"/><circle cx="486.3" cy="86.0" r="0.7"/><circle cx="487.6" cy="85.9" r="0.7"/><circle cx="488.8" cy="85.8" r="0.7"/><circle cx="489.8" cy="85.6" r="0.7"/><circle cx="491.1" cy="86.0" r="0.7"/><circle cx="492.2" cy="85.8" r="0.7"/><circle cx="494.4" cy="85.9" r="0.7"/><circle cx="495.6" cy="85.8" r="0.7"/><circle cx="496.8" cy="85.8" r="0.7"/><circle cx="498.0" cy="86.0" r="0.7"/><circle cx="499.0" cy="85.8" r="0.7"/><circle cx="478.5" cy="84.5" r="0.7"/><circle cx="479.6" cy="84.3" r="0.7"/><circle cx="480.7" cy="84.3" r="0.7"/><circle cx="483.0" cy="84.5" r="0.7"/><circle cx="484.2" cy="84.4" r="0.7"/><circle cx="485.1" cy="84.6" r="0.7"/><circle cx="486.5" cy="84.5" r="0.7"/><circle cx="487.6" cy="84.4" r="0.7"/><circle cx="488.8" cy="84.6" r="0.7"/><circle cx="489.7" cy="84.6" r="0.7"/><circle cx="491.1" cy="84.3" r="0.7"/><circle cx="492.2" cy="84.3" r="0.7"/><circle cx="493.2" cy="84.3" r="0.7"/><circle cx="494.6" cy="84.6" r="0.7"/><circle cx="476.1" cy="83.2" r="0.7"/><circle cx="477.2" cy="83.2" r="0.7"/><circle cx="479.5" cy="83.0" r="0.7"/><circle cx="480.7" cy="83.0" r="0.7"/><circle cx="481.7" cy="83.1" r="0.7"/><circle cx="483.0" cy="82.9" r="0.7"/><circle cx="484.0" cy="83.3" r="0.7"/><circle cx="485.2" cy="83.1" r="0.7"/><circle cx="486.5" cy="83.2" r="0.7"/><circle cx="487.5" cy="83.3" r="0.7"/><circle cx="488.8" cy="83.1" r="0.7"/><circle cx="489.9" cy="83.3" r="0.7"/><circle cx="491.0" cy="83.1" r="0.7"/><circle cx="492.1" cy="82.9" r="0.7"/><circle cx="493.4" cy="83.2" r="0.7"/><circle cx="494.5" cy="83.0" r="0.7"/><circle cx="495.5" cy="82.9" r="0.7"/><circle cx="496.8" cy="83.1" r="0.7"/><circle cx="480.7" cy="81.6" r="0.7"/><circle cx="481.8" cy="81.6" r="0.7"/><circle cx="484.2" cy="81.8" r="0.7"/><circle cx="485.2" cy="81.9" r="0.7"/><circle cx="486.5" cy="81.8" r="0.7"/><circle cx="487.4" cy="81.9" r="0.7"/><circle cx="488.7" cy="81.9" r="0.7"/><circle cx="490.9" cy="81.7" r="0.7"/><circle cx="478.3" cy="80.3" r="0.7"/><circle cx="479.4" cy="80.2" r="0.7"/><circle cx="480.6" cy="80.4" r="0.7"/><circle cx="481.9" cy="80.4" r="0.7"/><circle cx="482.9" cy="80.6" r="0.7"/><circle cx="484.0" cy="80.5" r="0.7"/><circle cx="485.2" cy="80.3" r="0.7"/><circle cx="486.5" cy="80.3" r="0.7"/><circle cx="487.5" cy="80.6" r="0.7"/><circle cx="489.9" cy="80.3" r="0.7"/><circle cx="491.1" cy="80.5" r="0.7"/><circle cx="492.2" cy="80.6" r="0.7"/><circle cx="493.2" cy="80.3" r="0.7"/><circle cx="494.5" cy="80.3" r="0.7"/><circle cx="483.0" cy="79.2" r="0.7"/><circle cx="484.1" cy="79.2" r="0.7"/><circle cx="485.2" cy="79.0" r="0.7"/><circle cx="486.5" cy="79.0" r="0.7"/><circle cx="487.4" cy="79.2" r="0.7"/><circle cx="488.7" cy="79.1" r="0.7"/><circle cx="484.0" cy="77.8" r="0.7"/><circle cx="486.5" cy="77.6" r="0.7"/><circle cx="487.6" cy="77.6" r="0.7"/><circle cx="488.8" cy="77.5" r="0.7"/><circle cx="486.4" cy="76.5" r="0.7"/><circle cx="486.4" cy="75.1" r="0.7"/><circle cx="486.2" cy="39.2" r="0.7"/><circle cx="486.6" cy="51.2" r="0.7"/><circle cx="486.7" cy="54.9" r="0.7"/><circle cx="486.4" cy="57.7" r="0.7"/><circle cx="486.4" cy="60.4" r="0.7"/><circle cx="486.8" cy="62.3" r="0.7"/><circle cx="486.6" cy="64.2" r="0.7"/><circle cx="486.4" cy="66.0" r="0.7"/><circle cx="486.9" cy="66.9" r="0.7"/><circle cx="486.0" cy="67.8" r="0.7"/><circle cx="486.7" cy="68.8" r="0.7"/><circle cx="486.0" cy="69.7" r="0.7"/><circle cx="486.5" cy="70.6" r="0.7"/><circle cx="486.1" cy="71.5" r="0.7"/><circle cx="486.3" cy="72.0" r="0.7"/><circle cx="486.7" cy="72.5" r="0.7"/><circle cx="486.7" cy="72.9" r="0.7"/><circle cx="486.7" cy="73.4" r="0.7"/><circle cx="486.1" cy="74.3" r="0.7"/><circle cx="486.4" cy="74.8" r="0.7"/></g>
<rect x="404.70" y="22.30" width="111.60" height="80.00" fill="none" stroke="#a8a2a2" stroke-width="1.1" />
<line x1="434.60" y1="102.30" x2="434.60" y2="104.30" stroke="#555" stroke-width="0.6" />
<line x1="486.40" y1="102.30" x2="486.40" y2="104.30" stroke="#555" stroke-width="0.6" />
<text x="434.50" y="110.61" font-size="5.3" fill="#222" stroke="#222" stroke-width="0.13" text-anchor="middle" >Normal</text>
<text x="486.30" y="111.01" font-size="5.3" fill="#222" stroke="#222" stroke-width="0.13" text-anchor="middle" >Tumor</text>
<polyline points="434.3,32.5 434.3,29.8 486.6,29.8 486.6,32.5" fill="none" stroke="#888" stroke-width="0.7" stroke-linejoin="round" />
<text x="460.50" y="29.58" font-size="5.5" fill="#222" stroke="#222" stroke-width="0.14" text-anchor="middle" >*</text>
<line x1="545.60" y1="99.50" x2="549.80" y2="99.50" stroke="#8c8c8c" stroke-width="0.6" />
<text x="544.80" y="101.37" font-size="5.2" fill="#222" stroke="#222" stroke-width="0.13" text-anchor="end" >0</text>
<line x1="545.60" y1="80.10" x2="549.80" y2="80.10" stroke="#8c8c8c" stroke-width="0.6" />
<text x="544.80" y="81.97" font-size="5.2" fill="#222" stroke="#222" stroke-width="0.13" text-anchor="end" >20</text>
<line x1="545.60" y1="60.70" x2="549.80" y2="60.70" stroke="#8c8c8c" stroke-width="0.6" />
<text x="544.80" y="62.57" font-size="5.2" fill="#222" stroke="#222" stroke-width="0.13" text-anchor="end" >40</text>
<line x1="545.60" y1="41.30" x2="549.80" y2="41.30" stroke="#8c8c8c" stroke-width="0.6" />
<text x="544.80" y="43.17" font-size="5.2" fill="#222" stroke="#222" stroke-width="0.13" text-anchor="end" >60</text>
<line x1="545.60" y1="21.90" x2="549.80" y2="21.90" stroke="#8c8c8c" stroke-width="0.6" />
<text x="544.80" y="23.77" font-size="5.2" fill="#222" stroke="#222" stroke-width="0.13" text-anchor="end" >80</text>
<text transform="translate(534.74,62.40) rotate(-90)" font-size="5.1" fill="#1a1a1a" stroke="#1a1a1a" stroke-width="0.13" text-anchor="middle" textLength="39.5" lengthAdjust="spacingAndGlyphs" >PER3 expression</text>
<path d="M583.4 94.9L640.6 98.2M583.4 76.5L640.6 75.2M583.4 79.4L640.6 75.8M583.4 95.5L640.6 98.5M583.4 91.9L640.6 93.1M583.4 87.9L640.6 94.0M583.4 89.7L640.6 83.4M583.4 80.4L640.6 87.0M583.4 89.5L640.6 97.5M583.4 83.7L640.6 93.1M583.4 74.8L640.6 86.3M583.4 78.7L640.6 81.4M583.4 82.4L640.6 77.1M583.4 74.8L640.6 86.7M583.4 89.5L640.6 93.9M583.4 81.6L640.6 83.4M583.4 76.7L640.6 85.6M583.4 91.5L640.6 88.6M583.4 90.0L640.6 87.6M583.4 74.8L640.6 88.8M583.4 86.9L640.6 98.5M583.4 85.4L640.6 90.6M583.4 84.8L640.6 92.6M583.4 82.6L640.6 83.4M583.4 74.8L640.6 87.4M583.4 92.0L640.6 89.2M583.4 78.1L640.6 75.2M583.4 85.7L640.6 84.2M583.4 81.7L640.6 82.9M583.4 81.5L640.6 80.4M583.4 92.5L640.6 96.1M583.4 85.7L640.6 92.4M583.4 95.5L640.6 98.5M583.4 74.8L640.6 77.6M583.4 91.0L640.6 91.2M583.4 83.4L640.6 91.4M583.4 74.8L640.6 89.1M583.4 97.6L640.6 98.5M583.4 88.8L640.6 97.3M583.4 86.1L640.6 91.6M583.4 79.1L640.6 83.5M583.4 97.6L640.6 94.2M583.4 79.5L640.6 85.2M583.4 87.9L640.6 96.3M583.4 90.0L640.6 92.5M583.4 74.8L640.6 78.7M583.4 62.6L640.6 91.7M583.4 65.1L640.6 94.7M583.4 66.0L640.6 89.8M583.4 67.0L640.6 87.9M583.4 68.5L640.6 82.0M583.4 69.4L640.6 93.7M583.4 74.8L640.6 85.9M583.4 81.1L640.6 36.5" stroke="#2a2a2a" stroke-width="0.45" fill="none"/>
<circle cx="583.4" cy="94.9" r="1.85" fill="#2250b0"/>
<rect x="638.8000000000001" y="96.4" width="3.6" height="3.6" fill="#e8242a"/>
<circle cx="583.4" cy="76.5" r="1.85" fill="#2250b0"/>
<rect x="638.8000000000001" y="73.5" width="3.6" height="3.6" fill="#e8242a"/>
<circle cx="583.4" cy="79.4" r="1.85" fill="#2250b0"/>
<rect x="638.8000000000001" y="74.0" width="3.6" height="3.6" fill="#e8242a"/>
<circle cx="583.4" cy="95.5" r="1.85" fill="#2250b0"/>
<rect x="638.8000000000001" y="96.7" width="3.6" height="3.6" fill="#e8242a"/>
<circle cx="583.4" cy="91.9" r="1.85" fill="#2250b0"/>
<rect x="638.8000000000001" y="91.3" width="3.6" height="3.6" fill="#e8242a"/>
<circle cx="583.4" cy="87.9" r="1.85" fill="#2250b0"/>
<rect x="638.8000000000001" y="92.2" width="3.6" height="3.6" fill="#e8242a"/>
<circle cx="583.4" cy="89.7" r="1.85" fill="#2250b0"/>
<rect x="638.8000000000001" y="81.6" width="3.6" height="3.6" fill="#e8242a"/>
<circle cx="583.4" cy="80.4" r="1.85" fill="#2250b0"/>
<rect x="638.8000000000001" y="85.2" width="3.6" height="3.6" fill="#e8242a"/>
<circle cx="583.4" cy="89.5" r="1.85" fill="#2250b0"/>
<rect x="638.8000000000001" y="95.7" width="3.6" height="3.6" fill="#e8242a"/>
<circle cx="583.4" cy="83.7" r="1.85" fill="#2250b0"/>
<rect x="638.8000000000001" y="91.3" width="3.6" height="3.6" fill="#e8242a"/>
<circle cx="583.4" cy="74.8" r="1.85" fill="#2250b0"/>
<rect x="638.8000000000001" y="84.5" width="3.6" height="3.6" fill="#e8242a"/>
<circle cx="583.4" cy="78.7" r="1.85" fill="#2250b0"/>
<rect x="638.8000000000001" y="79.6" width="3.6" height="3.6" fill="#e8242a"/>
<circle cx="583.4" cy="82.4" r="1.85" fill="#2250b0"/>
<rect x="638.8000000000001" y="75.3" width="3.6" height="3.6" fill="#e8242a"/>
<circle cx="583.4" cy="74.8" r="1.85" fill="#2250b0"/>
<rect x="638.8000000000001" y="84.9" width="3.6" height="3.6" fill="#e8242a"/>
<circle cx="583.4" cy="89.5" r="1.85" fill="#2250b0"/>
<rect x="638.8000000000001" y="92.1" width="3.6" height="3.6" fill="#e8242a"/>
<circle cx="583.4" cy="81.6" r="1.85" fill="#2250b0"/>
<rect x="638.8000000000001" y="81.6" width="3.6" height="3.6" fill="#e8242a"/>
<circle cx="583.4" cy="76.7" r="1.85" fill="#2250b0"/>
<rect x="638.8000000000001" y="83.8" width="3.6" height="3.6" fill="#e8242a"/>
<circle cx="583.4" cy="91.5" r="1.85" fill="#2250b0"/>
<rect x="638.8000000000001" y="86.8" width="3.6" height="3.6" fill="#e8242a"/>
<circle cx="583.4" cy="90.0" r="1.85" fill="#2250b0"/>
<rect x="638.8000000000001" y="85.8" width="3.6" height="3.6" fill="#e8242a"/>
<circle cx="583.4" cy="74.8" r="1.85" fill="#2250b0"/>
<rect x="638.8000000000001" y="87.0" width="3.6" height="3.6" fill="#e8242a"/>
<circle cx="583.4" cy="86.9" r="1.85" fill="#2250b0"/>
<rect x="638.8000000000001" y="96.7" width="3.6" height="3.6" fill="#e8242a"/>
<circle cx="583.4" cy="85.4" r="1.85" fill="#2250b0"/>
<rect x="638.8000000000001" y="88.8" width="3.6" height="3.6" fill="#e8242a"/>
<circle cx="583.4" cy="84.8" r="1.85" fill="#2250b0"/>
<rect x="638.8000000000001" y="90.8" width="3.6" height="3.6" fill="#e8242a"/>
<circle cx="583.4" cy="82.6" r="1.85" fill="#2250b0"/>
<rect x="638.8000000000001" y="81.6" width="3.6" height="3.6" fill="#e8242a"/>
<circle cx="583.4" cy="74.8" r="1.85" fill="#2250b0"/>
<rect x="638.8000000000001" y="85.6" width="3.6" height="3.6" fill="#e8242a"/>
<circle cx="583.4" cy="92.0" r="1.85" fill="#2250b0"/>
<rect x="638.8000000000001" y="87.4" width="3.6" height="3.6" fill="#e8242a"/>
<circle cx="583.4" cy="78.1" r="1.85" fill="#2250b0"/>
<rect x="638.8000000000001" y="73.5" width="3.6" height="3.6" fill="#e8242a"/>
<circle cx="583.4" cy="85.7" r="1.85" fill="#2250b0"/>
<rect x="638.8000000000001" y="82.4" width="3.6" height="3.6" fill="#e8242a"/>
<circle cx="583.4" cy="81.7" r="1.85" fill="#2250b0"/>
<rect x="638.8000000000001" y="81.1" width="3.6" height="3.6" fill="#e8242a"/>
<circle cx="583.4" cy="81.5" r="1.85" fill="#2250b0"/>
<rect x="638.8000000000001" y="78.6" width="3.6" height="3.6" fill="#e8242a"/>
<circle cx="583.4" cy="92.5" r="1.85" fill="#2250b0"/>
<rect x="638.8000000000001" y="94.3" width="3.6" height="3.6" fill="#e8242a"/>
<circle cx="583.4" cy="85.7" r="1.85" fill="#2250b0"/>
<rect x="638.8000000000001" y="90.6" width="3.6" height="3.6" fill="#e8242a"/>
<circle cx="583.4" cy="95.5" r="1.85" fill="#2250b0"/>
<rect x="638.8000000000001" y="96.7" width="3.6" height="3.6" fill="#e8242a"/>
<circle cx="583.4" cy="74.8" r="1.85" fill="#2250b0"/>
<rect x="638.8000000000001" y="75.8" width="3.6" height="3.6" fill="#e8242a"/>
<circle cx="583.4" cy="91.0" r="1.85" fill="#2250b0"/>
<rect x="638.8000000000001" y="89.4" width="3.6" height="3.6" fill="#e8242a"/>
<circle cx="583.4" cy="83.4" r="1.85" fill="#2250b0"/>
<rect x="638.8000000000001" y="89.6" width="3.6" height="3.6" fill="#e8242a"/>
<circle cx="583.4" cy="74.8" r="1.85" fill="#2250b0"/>
<rect x="638.8000000000001" y="87.3" width="3.6" height="3.6" fill="#e8242a"/>
<circle cx="583.4" cy="97.6" r="1.85" fill="#2250b0"/>
<rect x="638.8000000000001" y="96.7" width="3.6" height="3.6" fill="#e8242a"/>
<circle cx="583.4" cy="88.8" r="1.85" fill="#2250b0"/>
<rect x="638.8000000000001" y="95.5" width="3.6" height="3.6" fill="#e8242a"/>
<circle cx="583.4" cy="86.1" r="1.85" fill="#2250b0"/>
<rect x="638.8000000000001" y="89.8" width="3.6" height="3.6" fill="#e8242a"/>
<circle cx="583.4" cy="79.1" r="1.85" fill="#2250b0"/>
<rect x="638.8000000000001" y="81.7" width="3.6" height="3.6" fill="#e8242a"/>
<circle cx="583.4" cy="97.6" r="1.85" fill="#2250b0"/>
<rect x="638.8000000000001" y="92.4" width="3.6" height="3.6" fill="#e8242a"/>
<circle cx="583.4" cy="79.5" r="1.85" fill="#2250b0"/>
<rect x="638.8000000000001" y="83.4" width="3.6" height="3.6" fill="#e8242a"/>
<circle cx="583.4" cy="87.9" r="1.85" fill="#2250b0"/>
<rect x="638.8000000000001" y="94.5" width="3.6" height="3.6" fill="#e8242a"/>
<circle cx="583.4" cy="90.0" r="1.85" fill="#2250b0"/>
<rect x="638.8000000000001" y="90.7" width="3.6" height="3.6" fill="#e8242a"/>
<circle cx="583.4" cy="74.8" r="1.85" fill="#2250b0"/>
<rect x="638.8000000000001" y="76.9" width="3.6" height="3.6" fill="#e8242a"/>
<circle cx="583.4" cy="62.6" r="1.85" fill="#2250b0"/>
<rect x="638.8000000000001" y="89.9" width="3.6" height="3.6" fill="#e8242a"/>
<circle cx="583.4" cy="65.1" r="1.85" fill="#2250b0"/>
<rect x="638.8000000000001" y="92.9" width="3.6" height="3.6" fill="#e8242a"/>
<circle cx="583.4" cy="66.0" r="1.85" fill="#2250b0"/>
<rect x="638.8000000000001" y="88.0" width="3.6" height="3.6" fill="#e8242a"/>
<circle cx="583.4" cy="67.0" r="1.85" fill="#2250b0"/>
<rect x="638.8000000000001" y="86.1" width="3.6" height="3.6" fill="#e8242a"/>
<circle cx="583.4" cy="68.5" r="1.85" fill="#2250b0"/>
<rect x="638.8000000000001" y="80.2" width="3.6" height="3.6" fill="#e8242a"/>
<circle cx="583.4" cy="69.4" r="1.85" fill="#2250b0"/>
<rect x="638.8000000000001" y="91.9" width="3.6" height="3.6" fill="#e8242a"/>
<circle cx="583.4" cy="74.8" r="1.85" fill="#2250b0"/>
<rect x="638.8000000000001" y="84.1" width="3.6" height="3.6" fill="#e8242a"/>
<circle cx="583.4" cy="81.1" r="1.85" fill="#2250b0"/>
<rect x="638.8000000000001" y="34.7" width="3.6" height="3.6" fill="#e8242a"/>
<rect x="549.80" y="21.40" width="124.10" height="81.60" fill="none" stroke="#a8a2a2" stroke-width="1.1" />
<line x1="583.40" y1="103.00" x2="583.40" y2="105.30" stroke="#8c8c8c" stroke-width="0.6" />
<line x1="640.60" y1="103.00" x2="640.60" y2="105.30" stroke="#8c8c8c" stroke-width="0.6" />
<text x="583.40" y="112.51" font-size="5.3" fill="#111" stroke="#111" stroke-width="0.13" text-anchor="middle" >Normal</text>
<text x="640.60" y="112.51" font-size="5.3" fill="#111" stroke="#111" stroke-width="0.13" text-anchor="middle" >Tumor</text>
<polyline points="583.4,34.0 583.4,31.5 640.6,31.5 640.6,34.0" fill="none" stroke="#8a8a8a" stroke-width="0.8" stroke-linejoin="round" />
<text x="612.20" y="30.20" font-size="7.5" fill="#222" font-weight="bold" text-anchor="middle" >*</text>
<line x1="55.50" y1="219.10" x2="57.50" y2="219.10" stroke="#777" stroke-width="0.6" />
<text transform="translate(54.98,219.60) rotate(-90)" font-size="4.4" fill="#222" text-anchor="middle" >0</text>
<line x1="55.50" y1="207.50" x2="57.50" y2="207.50" stroke="#777" stroke-width="0.6" />
<text transform="translate(54.98,208.00) rotate(-90)" font-size="4.4" fill="#222" text-anchor="middle" >5</text>
<line x1="55.50" y1="195.90" x2="57.50" y2="195.90" stroke="#777" stroke-width="0.6" />
<text transform="translate(54.98,196.40) rotate(-90)" font-size="4.4" fill="#222" text-anchor="middle" >10</text>
<line x1="55.50" y1="184.30" x2="57.50" y2="184.30" stroke="#777" stroke-width="0.6" />
<text transform="translate(54.98,184.80) rotate(-90)" font-size="4.4" fill="#222" text-anchor="middle" >15</text>
<line x1="55.50" y1="172.70" x2="57.50" y2="172.70" stroke="#777" stroke-width="0.6" />
<text transform="translate(54.98,173.20) rotate(-90)" font-size="4.4" fill="#222" text-anchor="middle" >20</text>
<line x1="55.50" y1="161.10" x2="57.50" y2="161.10" stroke="#777" stroke-width="0.6" />
<text transform="translate(54.98,161.60) rotate(-90)" font-size="4.4" fill="#222" text-anchor="middle" >25</text>
<line x1="55.50" y1="149.50" x2="57.50" y2="149.50" stroke="#777" stroke-width="0.6" />
<text transform="translate(54.98,150.00) rotate(-90)" font-size="4.4" fill="#222" text-anchor="middle" >30</text>
<text transform="translate(48.33,182.30) rotate(-90)" font-size="4.8" fill="#222" text-anchor="middle" textLength="31.8" lengthAdjust="spacingAndGlyphs" >PER3 expression</text>
<line x1="90.20" y1="187.70" x2="90.20" y2="157.20" stroke="#b0b0b0" stroke-width="0.6" stroke-dasharray="1,1"/>
<line x1="90.20" y1="209.00" x2="90.20" y2="218.30" stroke="#b0b0b0" stroke-width="0.6" stroke-dasharray="1,1"/>
<line x1="79.20" y1="157.20" x2="101.20" y2="157.20" stroke="#bababa" stroke-width="0.8" />
<line x1="79.20" y1="218.30" x2="101.20" y2="218.30" stroke="#bababa" stroke-width="0.8" />
<rect x="67.30" y="187.70" width="45.00" height="21.30" fill="#e05472" stroke="#b8445c" stroke-width="0.6" />
<line x1="67.30" y1="201.20" x2="112.30" y2="201.20" stroke="#7a2232" stroke-width="1.05" />
<line x1="90.20" y1="221.60" x2="90.20" y2="223.60" stroke="#777" stroke-width="0.6" />
<text x="90.20" y="228.75" font-size="4.3" fill="#111" text-anchor="middle" >T1~2</text>
<line x1="146.00" y1="194.60" x2="146.00" y2="172.50" stroke="#b0b0b0" stroke-width="0.6" stroke-dasharray="1,1"/>
<line x1="146.00" y1="213.10" x2="146.00" y2="218.50" stroke="#b0b0b0" stroke-width="0.6" stroke-dasharray="1,1"/>
<line x1="135.20" y1="172.50" x2="157.20" y2="172.50" stroke="#bababa" stroke-width="0.8" />
<line x1="135.20" y1="218.50" x2="157.20" y2="218.50" stroke="#bababa" stroke-width="0.8" />
<rect x="123.30" y="194.60" width="45.20" height="18.50" fill="#6abf4b" stroke="#4f9a38" stroke-width="0.6" />
<line x1="123.30" y1="205.20" x2="168.50" y2="205.20" stroke="#1f3d17" stroke-width="1.05" />
<line x1="146.00" y1="221.60" x2="146.00" y2="223.60" stroke="#777" stroke-width="0.6" />
<text x="146.00" y="228.75" font-size="4.3" fill="#111" text-anchor="middle" >T3~4</text>
<rect x="57.50" y="142.50" width="121.50" height="79.10" fill="none" stroke="#a8a4a4" stroke-width="0.9" />
<polyline points="90.2,152.6 90.2,151.4 146.0,151.4 146.0,152.6" fill="none" stroke="#777" stroke-width="0.6" stroke-linejoin="round" />
<text x="118.10" y="148.86" font-size="4.6" fill="#222" text-anchor="middle" >*</text>
<text x="118.10" y="235.58" font-size="4.4" fill="#222" text-anchor="middle" >clinical</text>
<line x1="217.50" y1="219.40" x2="219.50" y2="219.40" stroke="#777" stroke-width="0.6" />
<text transform="translate(215.78,219.90) rotate(-90)" font-size="4.4" fill="#222" text-anchor="middle" >0</text>
<line x1="217.50" y1="208.20" x2="219.50" y2="208.20" stroke="#777" stroke-width="0.6" />
<text transform="translate(215.78,208.70) rotate(-90)" font-size="4.4" fill="#222" text-anchor="middle" >5</text>
<line x1="217.50" y1="197.00" x2="219.50" y2="197.00" stroke="#777" stroke-width="0.6" />
<text transform="translate(215.78,197.50) rotate(-90)" font-size="4.4" fill="#222" text-anchor="middle" >10</text>
<line x1="217.50" y1="185.80" x2="219.50" y2="185.80" stroke="#777" stroke-width="0.6" />
<text transform="translate(215.78,186.30) rotate(-90)" font-size="4.4" fill="#222" text-anchor="middle" >15</text>
<line x1="217.50" y1="174.60" x2="219.50" y2="174.60" stroke="#777" stroke-width="0.6" />
<text transform="translate(215.78,175.10) rotate(-90)" font-size="4.4" fill="#222" text-anchor="middle" >20</text>
<line x1="217.50" y1="163.40" x2="219.50" y2="163.40" stroke="#777" stroke-width="0.6" />
<text transform="translate(215.78,163.90) rotate(-90)" font-size="4.4" fill="#222" text-anchor="middle" >25</text>
<line x1="217.50" y1="152.20" x2="219.50" y2="152.20" stroke="#777" stroke-width="0.6" />
<text transform="translate(215.78,152.70) rotate(-90)" font-size="4.4" fill="#222" text-anchor="middle" >30</text>
<text transform="translate(209.53,182.30) rotate(-90)" font-size="4.8" fill="#222" text-anchor="middle" textLength="31.8" lengthAdjust="spacingAndGlyphs" >PER3 expression</text>
<line x1="252.00" y1="188.80" x2="252.00" y2="157.50" stroke="#b0b0b0" stroke-width="0.6" stroke-dasharray="1,1"/>
<line x1="252.00" y1="209.80" x2="252.00" y2="218.60" stroke="#b0b0b0" stroke-width="0.6" stroke-dasharray="1,1"/>
<line x1="240.80" y1="157.50" x2="263.30" y2="157.50" stroke="#bababa" stroke-width="0.8" />
<line x1="240.80" y1="218.60" x2="263.30" y2="218.60" stroke="#bababa" stroke-width="0.8" />
<rect x="229.90" y="188.80" width="44.60" height="21.00" fill="#e05472" stroke="#b8445c" stroke-width="0.6" />
<line x1="229.90" y1="202.10" x2="274.50" y2="202.10" stroke="#7a2232" stroke-width="1.05" />
<line x1="252.00" y1="222.00" x2="252.00" y2="224.00" stroke="#777" stroke-width="0.6" />
<text x="252.00" y="229.25" font-size="4.3" fill="#111" text-anchor="middle" >N0~1</text>
<line x1="308.50" y1="197.30" x2="308.50" y2="174.80" stroke="#b0b0b0" stroke-width="0.6" stroke-dasharray="1,1"/>
<line x1="308.50" y1="212.70" x2="308.50" y2="217.80" stroke="#b0b0b0" stroke-width="0.6" stroke-dasharray="1,1"/>
<line x1="297.50" y1="174.80" x2="319.60" y2="174.80" stroke="#bababa" stroke-width="0.8" />
<line x1="297.50" y1="217.80" x2="319.60" y2="217.80" stroke="#bababa" stroke-width="0.8" />
<rect x="285.90" y="197.30" width="44.80" height="15.40" fill="#6abf4b" stroke="#4f9a38" stroke-width="0.6" />
<line x1="285.90" y1="205.30" x2="330.70" y2="205.30" stroke="#1f3d17" stroke-width="1.05" />
<line x1="308.50" y1="222.00" x2="308.50" y2="224.00" stroke="#777" stroke-width="0.6" />
<text x="308.50" y="229.25" font-size="4.3" fill="#111" text-anchor="middle" >N2~3</text>
<rect x="219.50" y="142.40" width="121.30" height="79.60" fill="none" stroke="#a8a4a4" stroke-width="0.9" />
<polyline points="252.0,152.6 252.0,151.4 308.5,151.4 308.5,152.6" fill="none" stroke="#777" stroke-width="0.6" stroke-linejoin="round" />
<text x="280.30" y="148.86" font-size="4.6" fill="#222" text-anchor="middle" >*</text>
<text x="279.80" y="235.28" font-size="4.4" fill="#222" text-anchor="middle" >clinical</text>
<line x1="379.60" y1="221.20" x2="381.60" y2="221.20" stroke="#777" stroke-width="0.6" />
<text transform="translate(379.08,221.70) rotate(-90)" font-size="4.4" fill="#222" text-anchor="middle" >0</text>
<line x1="379.60" y1="209.05" x2="381.60" y2="209.05" stroke="#777" stroke-width="0.6" />
<text transform="translate(379.08,209.55) rotate(-90)" font-size="4.4" fill="#222" text-anchor="middle" >5</text>
<line x1="379.60" y1="196.90" x2="381.60" y2="196.90" stroke="#777" stroke-width="0.6" />
<text transform="translate(379.08,197.40) rotate(-90)" font-size="4.4" fill="#222" text-anchor="middle" >10</text>
<line x1="379.60" y1="184.75" x2="381.60" y2="184.75" stroke="#777" stroke-width="0.6" />
<text transform="translate(379.08,185.25) rotate(-90)" font-size="4.4" fill="#222" text-anchor="middle" >15</text>
<line x1="379.60" y1="172.60" x2="381.60" y2="172.60" stroke="#777" stroke-width="0.6" />
<text transform="translate(379.08,173.10) rotate(-90)" font-size="4.4" fill="#222" text-anchor="middle" >20</text>
<line x1="379.60" y1="160.45" x2="381.60" y2="160.45" stroke="#777" stroke-width="0.6" />
<text transform="translate(379.08,160.95) rotate(-90)" font-size="4.4" fill="#222" text-anchor="middle" >25</text>
<line x1="379.60" y1="148.30" x2="381.60" y2="148.30" stroke="#777" stroke-width="0.6" />
<text transform="translate(379.08,148.80) rotate(-90)" font-size="4.4" fill="#222" text-anchor="middle" >30</text>
<text transform="translate(372.43,184.60) rotate(-90)" font-size="4.8" fill="#222" text-anchor="middle" textLength="31.8" lengthAdjust="spacingAndGlyphs" >PER3 expression</text>
<line x1="414.30" y1="191.20" x2="414.30" y2="159.40" stroke="#b0b0b0" stroke-width="0.6" stroke-dasharray="1,1"/>
<line x1="414.30" y1="212.70" x2="414.30" y2="220.70" stroke="#b0b0b0" stroke-width="0.6" stroke-dasharray="1,1"/>
<line x1="403.10" y1="159.40" x2="425.40" y2="159.40" stroke="#bababa" stroke-width="0.8" />
<line x1="403.10" y1="220.70" x2="425.40" y2="220.70" stroke="#bababa" stroke-width="0.8" />
<rect x="392.30" y="191.20" width="44.50" height="21.50" fill="#e05472" stroke="#b8445c" stroke-width="0.6" />
<line x1="392.30" y1="204.50" x2="436.80" y2="204.50" stroke="#7a2232" stroke-width="1.05" />
<line x1="414.30" y1="223.90" x2="414.30" y2="225.90" stroke="#777" stroke-width="0.6" />
<text x="414.30" y="229.95" font-size="4.3" fill="#111" text-anchor="middle" >M0</text>
<line x1="470.30" y1="196.10" x2="470.30" y2="180.10" stroke="#b0b0b0" stroke-width="0.6" stroke-dasharray="1,1"/>
<line x1="470.30" y1="210.80" x2="470.30" y2="220.40" stroke="#b0b0b0" stroke-width="0.6" stroke-dasharray="1,1"/>
<line x1="459.40" y1="180.10" x2="481.10" y2="180.10" stroke="#bababa" stroke-width="0.8" />
<line x1="459.40" y1="220.40" x2="481.10" y2="220.40" stroke="#bababa" stroke-width="0.8" />
<rect x="448.20" y="196.10" width="44.80" height="14.70" fill="#6abf4b" stroke="#4f9a38" stroke-width="0.6" />
<line x1="448.20" y1="200.40" x2="493.00" y2="200.40" stroke="#1f3d17" stroke-width="1.05" />
<line x1="470.30" y1="223.90" x2="470.30" y2="225.90" stroke="#777" stroke-width="0.6" />
<text x="470.30" y="229.95" font-size="4.3" fill="#111" text-anchor="middle" >M1</text>
<rect x="381.60" y="144.30" width="121.50" height="79.60" fill="none" stroke="#a8a4a4" stroke-width="0.9" />
<polyline points="414.3,154.8 414.3,153.6 470.3,153.6 470.3,154.8" fill="none" stroke="#777" stroke-width="0.6" stroke-linejoin="round" />
<text x="442.10" y="151.90" font-size="5.0" fill="#222" stroke="#222" stroke-width="0.12" text-anchor="middle" >ns</text>
<text x="443.00" y="236.88" font-size="4.4" fill="#222" text-anchor="middle" >clinical</text>
<line x1="542.30" y1="219.40" x2="544.30" y2="219.40" stroke="#777" stroke-width="0.6" />
<text transform="translate(540.98,219.90) rotate(-90)" font-size="4.4" fill="#222" text-anchor="middle" >0</text>
<line x1="542.30" y1="208.30" x2="544.30" y2="208.30" stroke="#777" stroke-width="0.6" />
<text transform="translate(540.98,208.80) rotate(-90)" font-size="4.4" fill="#222" text-anchor="middle" >5</text>
<line x1="542.30" y1="197.20" x2="544.30" y2="197.20" stroke="#777" stroke-width="0.6" />
<text transform="translate(540.98,197.70) rotate(-90)" font-size="4.4" fill="#222" text-anchor="middle" >10</text>
<line x1="542.30" y1="186.10" x2="544.30" y2="186.10" stroke="#777" stroke-width="0.6" />
<text transform="translate(540.98,186.60) rotate(-90)" font-size="4.4" fill="#222" text-anchor="middle" >15</text>
<line x1="542.30" y1="175.00" x2="544.30" y2="175.00" stroke="#777" stroke-width="0.6" />
<text transform="translate(540.98,175.50) rotate(-90)" font-size="4.4" fill="#222" text-anchor="middle" >20</text>
<line x1="542.30" y1="163.90" x2="544.30" y2="163.90" stroke="#777" stroke-width="0.6" />
<text transform="translate(540.98,164.40) rotate(-90)" font-size="4.4" fill="#222" text-anchor="middle" >25</text>
<line x1="542.30" y1="152.80" x2="544.30" y2="152.80" stroke="#777" stroke-width="0.6" />
<text transform="translate(540.98,153.30) rotate(-90)" font-size="4.4" fill="#222" text-anchor="middle" >30</text>
<text transform="translate(534.23,181.60) rotate(-90)" font-size="4.8" fill="#222" text-anchor="middle" textLength="31.8" lengthAdjust="spacingAndGlyphs" >PER3 expression</text>
<line x1="576.70" y1="188.60" x2="576.70" y2="157.50" stroke="#b0b0b0" stroke-width="0.6" stroke-dasharray="1,1"/>
<line x1="576.70" y1="209.80" x2="576.70" y2="219.10" stroke="#b0b0b0" stroke-width="0.6" stroke-dasharray="1,1"/>
<line x1="565.50" y1="157.50" x2="587.80" y2="157.50" stroke="#bababa" stroke-width="0.8" />
<line x1="565.50" y1="219.10" x2="587.80" y2="219.10" stroke="#bababa" stroke-width="0.8" />
<rect x="554.10" y="188.60" width="45.10" height="21.20" fill="#e05472" stroke="#b8445c" stroke-width="0.6" />
<line x1="554.10" y1="201.30" x2="599.20" y2="201.30" stroke="#7a2232" stroke-width="1.05" />
<line x1="576.70" y1="222.50" x2="576.70" y2="224.50" stroke="#777" stroke-width="0.6" />
<text x="576.70" y="228.05" font-size="4.3" fill="#111" text-anchor="middle" >Stage I~II</text>
<line x1="632.90" y1="195.20" x2="632.90" y2="170.00" stroke="#b0b0b0" stroke-width="0.6" stroke-dasharray="1,1"/>
<line x1="632.90" y1="212.70" x2="632.90" y2="218.00" stroke="#b0b0b0" stroke-width="0.6" stroke-dasharray="1,1"/>
<line x1="621.70" y1="170.00" x2="643.70" y2="170.00" stroke="#bababa" stroke-width="0.8" />
<line x1="621.70" y1="218.00" x2="643.70" y2="218.00" stroke="#bababa" stroke-width="0.8" />
<rect x="610.60" y="195.20" width="44.80" height="17.50" fill="#6abf4b" stroke="#4f9a38" stroke-width="0.6" />
<line x1="610.60" y1="204.80" x2="655.40" y2="204.80" stroke="#1f3d17" stroke-width="1.05" />
<line x1="632.90" y1="222.50" x2="632.90" y2="224.50" stroke="#777" stroke-width="0.6" />
<text x="632.90" y="228.05" font-size="4.3" fill="#111" text-anchor="middle" >Stage III~IV</text>
<rect x="544.30" y="141.60" width="121.20" height="80.90" fill="none" stroke="#a8a4a4" stroke-width="0.9" />
<polyline points="576.7,152.6 576.7,151.4 632.9,151.4 632.9,152.6" fill="none" stroke="#777" stroke-width="0.6" stroke-linejoin="round" />
<text x="604.50" y="148.86" font-size="4.6" fill="#222" text-anchor="middle" >*</text>
<text x="604.50" y="235.28" font-size="4.4" fill="#222" text-anchor="middle" >clinical</text>
<line x1="54.00" y1="358.30" x2="57.60" y2="358.30" stroke="#666" stroke-width="0.6" />
<text transform="translate(52.32,359.20) rotate(-90)" font-size="5.9" fill="#222" stroke="#222" stroke-width="0.15" text-anchor="middle" >0.0</text>
<line x1="54.00" y1="338.85" x2="57.60" y2="338.85" stroke="#666" stroke-width="0.6" />
<text transform="translate(52.32,339.75) rotate(-90)" font-size="5.9" fill="#222" stroke="#222" stroke-width="0.15" text-anchor="middle" >0.2</text>
<line x1="54.00" y1="319.40" x2="57.60" y2="319.40" stroke="#666" stroke-width="0.6" />
<text transform="translate(52.32,320.30) rotate(-90)" font-size="5.9" fill="#222" stroke="#222" stroke-width="0.15" text-anchor="middle" >0.4</text>
<line x1="54.00" y1="299.95" x2="57.60" y2="299.95" stroke="#666" stroke-width="0.6" />
<text transform="translate(52.32,300.85) rotate(-90)" font-size="5.9" fill="#222" stroke="#222" stroke-width="0.15" text-anchor="middle" >0.6</text>
<line x1="54.00" y1="280.50" x2="57.60" y2="280.50" stroke="#666" stroke-width="0.6" />
<text transform="translate(52.32,281.40) rotate(-90)" font-size="5.9" fill="#222" stroke="#222" stroke-width="0.15" text-anchor="middle" >0.8</text>
<line x1="54.00" y1="261.05" x2="57.60" y2="261.05" stroke="#666" stroke-width="0.6" />
<text transform="translate(52.32,261.95) rotate(-90)" font-size="5.9" fill="#222" stroke="#222" stroke-width="0.15" text-anchor="middle" >1.0</text>
<text transform="translate(43.12,309.80) rotate(-90)" font-size="5.9" fill="#222" stroke="#222" stroke-width="0.15" text-anchor="middle" textLength="26.5" lengthAdjust="spacingAndGlyphs" >Probability</text>
<line x1="61.70" y1="361.70" x2="61.70" y2="364.30" stroke="#666" stroke-width="0.6" />
<text x="61.70" y="369.97" font-size="5.2" fill="#333" stroke="#333" stroke-width="0.13" text-anchor="middle" >0</text>
<line x1="80.87" y1="361.70" x2="80.87" y2="364.30" stroke="#666" stroke-width="0.6" />
<text x="80.87" y="369.97" font-size="5.2" fill="#333" stroke="#333" stroke-width="0.13" text-anchor="middle" >20</text>
<line x1="100.04" y1="361.70" x2="100.04" y2="364.30" stroke="#666" stroke-width="0.6" />
<text x="100.04" y="369.97" font-size="5.2" fill="#333" stroke="#333" stroke-width="0.13" text-anchor="middle" >40</text>
<line x1="119.21" y1="361.70" x2="119.21" y2="364.30" stroke="#666" stroke-width="0.6" />
<text x="119.21" y="369.97" font-size="5.2" fill="#333" stroke="#333" stroke-width="0.13" text-anchor="middle" >60</text>
<line x1="138.38" y1="361.70" x2="138.38" y2="364.30" stroke="#666" stroke-width="0.6" />
<text x="138.38" y="369.97" font-size="5.2" fill="#333" stroke="#333" stroke-width="0.13" text-anchor="middle" >80</text>
<line x1="157.55" y1="361.70" x2="157.55" y2="364.30" stroke="#666" stroke-width="0.6" />
<text x="157.55" y="369.97" font-size="5.2" fill="#333" stroke="#333" stroke-width="0.13" text-anchor="middle" >100</text>
<line x1="176.72" y1="361.70" x2="176.72" y2="364.30" stroke="#666" stroke-width="0.6" />
<text x="176.72" y="369.97" font-size="5.2" fill="#333" stroke="#333" stroke-width="0.13" text-anchor="middle" >120</text>
<text x="119.30" y="379.06" font-size="6.0" fill="#222" stroke="#222" stroke-width="0.15" text-anchor="middle" textLength="36.1" lengthAdjust="spacingAndGlyphs" >Time (months)</text>
<text x="119.30" y="251.52" font-size="5.6" fill="#222" font-weight="bold" text-anchor="middle" textLength="56.0" lengthAdjust="spacingAndGlyphs" >PER3 (1555131_a_at)</text>
<text x="178.20" y="265.74" font-size="5.4" fill="#1e1e1e" stroke="#1e1e1e" stroke-width="0.14" text-anchor="end" textLength="57.8" lengthAdjust="spacingAndGlyphs" >HR = 0.74 (0.63 − 0.88)</text>
<text x="178.20" y="272.84" font-size="5.4" fill="#1e1e1e" stroke="#1e1e1e" stroke-width="0.14" text-anchor="end" textLength="49.1" lengthAdjust="spacingAndGlyphs" >logrank P = 0.00051</text>
<path d="M62.3 262.6H63.0V263.3H64.1V264.3H65.0V265.2H66.1V266.2H67.2V267.3H67.7V267.9H68.3V268.4H69.6V269.7H70.4V270.4H71.1V271.1H72.6V273.6H73.6V275.3H74.9V277.7H75.9V278.9H77.0V280.0H77.7V280.7H78.8V281.8H80.2V283.2H81.2V284.2H82.4V285.4H83.6V286.6H84.2V287.2H85.4V288.4H86.5V289.2H87.3V289.7H87.8V290.1H89.2V291.0H90.2V291.7H91.4V292.6H92.8V293.6H94.0V294.4H95.4V295.4H96.3V296.0H97.6V297.0H98.6V297.6H100.0V298.6H101.4V299.6H102.0V300.0H102.6V300.5H103.3V301.0H104.8V302.0H105.7V302.6H106.8V303.1H107.7V303.5H108.7V303.9H109.5V304.3H110.4V304.7H111.5V305.2H112.6V305.7H114.0V306.4H115.1V306.9H116.6V307.4H117.9V307.9H119.4V308.4H120.6V308.8H121.3V309.1H122.6V309.5H124.1V310.0H125.5V310.5H126.6V310.9H127.8V311.4H128.5V311.7H129.8V312.2H130.9V312.7H131.7V313.0H132.2V313.2H133.6V313.7H135.1V314.3H135.7V314.5H137.0V315.0H137.9V315.3H138.5V315.5H139.3V315.8H140.6V316.2H142.0V316.7H142.5V316.9H143.6V317.2H144.2V317.4H145.4V317.8H146.2V318.1H147.6V318.5H149.1V318.9H150.1V319.1H151.6V319.5H152.4V319.7H153.0V319.9H154.1V320.2H154.6V320.3H155.3V320.5H156.2V320.8H157.3V321.1H158.0V321.3H158.5V321.4H159.9V321.9H160.7V322.1H162.2V322.5H163.6V322.9H164.4V323.2H165.4V323.5H166.4V323.8H167.6V324.2H168.7V324.6H169.7V325.0H170.8V325.4H172.3V325.9H173.3V326.3H174.2V326.6H175.4V327.0H176.2V327.3H176.2V327.3V327.3" fill="none" stroke="#111" stroke-width="0.8"/>
<path d="M93.4 293.1v1.8M92.5 294.0h1.8M77.0 279.1v1.8M76.1 280.0h1.8M111.8 304.5v1.8M110.9 305.4h1.8M83.6 285.7v1.8M82.7 286.6h1.8M72.2 272.1v1.8M71.3 273.0h1.8M112.4 304.7v1.8M111.5 305.6h1.8M167.8 323.4v1.8M166.9 324.3h1.8M155.5 319.7v1.8M154.6 320.6h1.8M151.8 318.7v1.8M150.9 319.6h1.8M91.7 291.9v1.8M90.8 292.8h1.8M127.4 310.4v1.8M126.5 311.3h1.8M98.1 296.4v1.8M97.2 297.3h1.8M85.7 287.7v1.8M84.8 288.6h1.8M77.4 279.5v1.8M76.5 280.4h1.8M90.8 291.3v1.8M89.9 292.2h1.8M168.7 323.7v1.8M167.8 324.6h1.8M158.5 320.5v1.8M157.6 321.4h1.8M156.2 319.9v1.8M155.3 320.8h1.8M155.5 319.7v1.8M154.6 320.6h1.8M88.3 289.5v1.8M87.4 290.4h1.8M102.0 299.1v1.8M101.1 300.0h1.8M137.1 314.1v1.8M136.2 315.0h1.8M148.3 317.7v1.8M147.4 318.6h1.8M161.2 321.3v1.8M160.3 322.2h1.8M163.8 322.1v1.8M162.9 323.0h1.8M74.9 276.8v1.8M74.0 277.7h1.8M134.9 313.3v1.8M134.0 314.2h1.8M141.9 315.8v1.8M141.0 316.7h1.8M124.0 309.1v1.8M123.1 310.0h1.8M86.4 288.2v1.8M85.5 289.1h1.8M120.4 307.9v1.8M119.5 308.8h1.8M75.3 277.4v1.8M74.4 278.3h1.8M169.5 324.0v1.8M168.6 324.9h1.8M162.3 321.7v1.8M161.4 322.6h1.8M128.5 310.8v1.8M127.6 311.7h1.8M100.9 298.3v1.8M100.0 299.2h1.8M166.8 323.1v1.8M165.9 324.0h1.8M131.2 311.9v1.8M130.3 312.8h1.8M164.1 322.2v1.8M163.2 323.1h1.8M160.5 321.1v1.8M159.6 322.0h1.8M124.3 309.2v1.8M123.4 310.1h1.8M113.8 305.4v1.8M112.9 306.3h1.8M134.1 313.0v1.8M133.2 313.9h1.8M115.7 306.2v1.8M114.8 307.1h1.8M84.4 286.5v1.8M83.5 287.4h1.8M101.4 298.7v1.8M100.5 299.6h1.8M156.8 320.0v1.8M155.9 320.9h1.8M69.0 268.2v1.8M68.1 269.1h1.8M69.5 268.6v1.8M68.6 269.5h1.8M137.1 314.1v1.8M136.2 315.0h1.8M98.6 296.7v1.8M97.7 297.6h1.8M127.1 310.3v1.8M126.2 311.2h1.8M120.2 307.8v1.8M119.3 308.7h1.8M105.8 301.7v1.8M104.9 302.6h1.8M175.9 326.3v1.8M175.0 327.2h1.8M88.5 289.7v1.8M87.6 290.6h1.8M113.7 305.3v1.8M112.8 306.2h1.8M89.4 290.3v1.8M88.5 291.2h1.8M137.7 314.4v1.8M136.8 315.3h1.8M98.1 296.4v1.8M97.2 297.3h1.8M107.2 302.4v1.8M106.3 303.3h1.8M149.9 318.2v1.8M149.0 319.1h1.8M103.2 300.0v1.8M102.3 300.9h1.8M129.7 311.3v1.8M128.8 312.2h1.8M166.3 322.9v1.8M165.4 323.8h1.8M76.8 278.9v1.8M75.9 279.8h1.8M71.6 271.0v1.8M70.7 271.9h1.8M92.5 292.5v1.8M91.6 293.4h1.8M151.8 318.7v1.8M150.9 319.6h1.8M135.9 313.7v1.8M135.0 314.6h1.8M93.5 293.2v1.8M92.6 294.1h1.8M104.4 300.8v1.8M103.5 301.7h1.8M86.3 288.1v1.8M85.4 289.0h1.8M118.8 307.3v1.8M117.9 308.2h1.8M69.0 268.2v1.8M68.1 269.1h1.8" fill="none" stroke="#111" stroke-width="0.5"/>
<path d="M62.3 262.6H63.4V263.3H64.7V264.1H66.0V264.9H67.4V266.0H68.6V267.3H70.1V268.9H70.6V269.5H71.6V270.8H73.0V273.4H74.2V275.4H75.6V277.4H76.2V277.7H77.1V278.2H77.9V278.6H78.9V279.1H80.0V279.6H80.5V279.9H81.2V280.3H82.0V280.8H83.4V281.9H84.7V282.8H85.3V283.3H86.6V284.0H87.3V284.3H88.4V284.8H89.0V285.1H89.5V285.4H90.9V286.1H91.6V286.4H92.3V286.8H93.8V287.5H95.2V288.2H96.0V288.7H97.4V289.7H98.5V290.5H99.7V291.3H100.4V291.8H101.8V292.8H103.0V293.6H104.5V294.7H105.8V295.5H106.6V295.7H107.5V296.0H108.2V296.2H108.8V296.4H109.4V296.6H110.2V296.8H111.3V297.1H111.8V297.3H113.0V297.6H113.8V297.9H114.6V298.1H115.9V298.4H116.9V298.6H117.7V298.7H118.7V298.8H119.9V299.0H120.5V299.1H122.0V299.3H122.5V299.4H123.7V299.5H125.1V299.7H125.6V299.8H126.9V300.1H127.7V300.3H128.8V300.6H129.3V300.8H129.9V300.9H130.6V301.1H132.0V301.5H132.7V301.7H134.0V302.0H135.4V302.4H136.8V302.7H137.7V302.9H138.5V303.0H139.6V303.2H140.8V303.5H141.4V303.6H142.7V303.9H144.0V304.1H145.3V304.4H145.9V304.5H147.3V305.1H147.9V305.3H148.8V305.6H149.9V306.1H151.3V306.6H152.1V307.0H153.6V307.5H154.6V307.9H155.4V308.3H156.2V308.6H156.9V308.9H157.5V309.1H158.1V309.4H159.3V309.8H160.8V310.5H161.5V310.7H162.0V310.9H163.5V311.6H164.6V312.0H165.5V312.3H166.2V312.6H167.3V312.9H168.6V313.2H169.6V313.5H170.5V313.7H171.0V313.9H172.5V314.2H173.0V314.4H174.0V314.6H175.3V315.0H176.0V315.1H176.2V315.2V315.2" fill="none" stroke="#e8291f" stroke-width="0.8"/>
<path d="M159.1 308.9v1.8M158.2 309.8h1.8M161.5 309.8v1.8M160.6 310.7h1.8M132.7 300.8v1.8M131.8 301.7h1.8M112.5 296.6v1.8M111.6 297.5h1.8M85.4 282.4v1.8M84.5 283.3h1.8M148.1 304.5v1.8M147.2 305.4h1.8M131.4 300.4v1.8M130.5 301.3h1.8M156.3 307.7v1.8M155.4 308.6h1.8M122.7 298.5v1.8M121.8 299.4h1.8M157.2 308.1v1.8M156.3 309.0h1.8M113.5 296.9v1.8M112.6 297.8h1.8M159.8 309.2v1.8M158.9 310.1h1.8M153.8 306.7v1.8M152.9 307.6h1.8M126.4 299.1v1.8M125.5 300.0h1.8M137.4 301.9v1.8M136.5 302.8h1.8M149.7 305.1v1.8M148.8 306.0h1.8M106.0 294.6v1.8M105.1 295.5h1.8M138.7 302.2v1.8M137.8 303.1h1.8M160.1 309.3v1.8M159.2 310.2h1.8M112.9 296.7v1.8M112.0 297.6h1.8M159.9 309.2v1.8M159.0 310.1h1.8M150.0 305.2v1.8M149.1 306.1h1.8M163.4 310.6v1.8M162.5 311.5h1.8M119.3 298.0v1.8M118.4 298.9h1.8M96.0 287.8v1.8M95.1 288.7h1.8M159.7 309.1v1.8M158.8 310.0h1.8M160.1 309.2v1.8M159.2 310.1h1.8M129.2 299.8v1.8M128.3 300.7h1.8M96.1 287.9v1.8M95.2 288.8h1.8M106.4 294.8v1.8M105.5 295.7h1.8M145.7 303.6v1.8M144.8 304.5h1.8M115.2 297.4v1.8M114.3 298.3h1.8M172.2 313.3v1.8M171.3 314.2h1.8M141.7 302.8v1.8M140.8 303.7h1.8M106.7 294.9v1.8M105.8 295.8h1.8M147.4 304.2v1.8M146.5 305.1h1.8M121.6 298.3v1.8M120.7 299.2h1.8M170.7 312.9v1.8M169.8 313.8h1.8M168.8 312.4v1.8M167.9 313.3h1.8M135.3 301.5v1.8M134.4 302.4h1.8M146.5 303.8v1.8M145.6 304.7h1.8M151.1 305.6v1.8M150.2 306.5h1.8M160.1 309.3v1.8M159.2 310.2h1.8M174.3 313.8v1.8M173.4 314.7h1.8M89.0 284.2v1.8M88.1 285.1h1.8M121.7 298.3v1.8M120.8 299.2h1.8M142.8 303.0v1.8M141.9 303.9h1.8M116.5 297.6v1.8M115.6 298.5h1.8M141.8 302.8v1.8M140.9 303.7h1.8M95.7 287.6v1.8M94.8 288.5h1.8M166.3 311.8v1.8M165.4 312.7h1.8M136.2 301.7v1.8M135.3 302.6h1.8M98.5 289.6v1.8M97.6 290.5h1.8M148.1 304.5v1.8M147.2 305.4h1.8M117.2 297.7v1.8M116.3 298.6h1.8M106.3 294.7v1.8M105.4 295.6h1.8M132.6 300.7v1.8M131.7 301.6h1.8M100.6 291.1v1.8M99.7 292.0h1.8M107.6 295.1v1.8M106.7 296.0h1.8M165.1 311.3v1.8M164.2 312.2h1.8M151.1 305.7v1.8M150.2 306.6h1.8M87.1 283.3v1.8M86.2 284.2h1.8M157.8 308.3v1.8M156.9 309.2h1.8M87.6 283.6v1.8M86.7 284.5h1.8M119.1 298.0v1.8M118.2 298.9h1.8" fill="none" stroke="#e8291f" stroke-width="0.5"/>
<rect x="57.60" y="257.80" width="123.10" height="103.90" fill="none" stroke="#8a8a8a" stroke-width="0.8" />
<text x="60.10" y="344.25" font-size="5.7" fill="#222" stroke="#222" stroke-width="0.14" >Expression</text>
<line x1="62.50" y1="349.80" x2="72.60" y2="349.80" stroke="#aaa" stroke-width="0.9" />
<line x1="62.50" y1="356.20" x2="72.60" y2="356.20" stroke="#f4a291" stroke-width="0.9" />
<text x="77.90" y="351.65" font-size="5.7" fill="#222" stroke="#222" stroke-width="0.14" >low</text>
<text x="77.90" y="356.65" font-size="5.7" fill="#222" stroke="#222" stroke-width="0.14" >high</text>
<text x="57.80" y="383.46" font-size="3.5" fill="#222" font-weight="bold" textLength="23.2" lengthAdjust="spacingAndGlyphs" >Number at risk</text>
<text x="51.80" y="387.46" font-size="3.5" fill="#222" font-weight="bold" text-anchor="end" >low</text>
<text x="51.80" y="391.86" font-size="3.5" fill="#e0342a" font-weight="bold" text-anchor="end" >high</text>
<text x="62.90" y="387.46" font-size="3.5" fill="#222" font-weight="bold" text-anchor="middle" >877</text>
<text x="62.90" y="391.86" font-size="3.5" fill="#e0342a" font-weight="bold" text-anchor="middle" >567</text>
<text x="81.30" y="387.46" font-size="3.5" fill="#222" font-weight="bold" text-anchor="middle" >435</text>
<text x="81.30" y="391.86" font-size="3.5" fill="#e0342a" font-weight="bold" text-anchor="middle" >442</text>
<text x="100.40" y="387.46" font-size="3.5" fill="#222" font-weight="bold" text-anchor="middle" >322</text>
<text x="100.40" y="391.86" font-size="3.5" fill="#e0342a" font-weight="bold" text-anchor="middle" >324</text>
<text x="119.40" y="387.46" font-size="3.5" fill="#222" font-weight="bold" text-anchor="middle" >237</text>
<text x="119.40" y="391.86" font-size="3.5" fill="#e0342a" font-weight="bold" text-anchor="middle" >207</text>
<text x="138.10" y="387.46" font-size="3.5" fill="#222" font-weight="bold" text-anchor="middle" >131</text>
<text x="138.10" y="391.86" font-size="3.5" fill="#e0342a" font-weight="bold" text-anchor="middle" >104</text>
<text x="157.20" y="387.46" font-size="3.5" fill="#222" font-weight="bold" text-anchor="middle" >75</text>
<text x="157.20" y="391.86" font-size="3.5" fill="#e0342a" font-weight="bold" text-anchor="middle" >61</text>
<text x="176.60" y="387.46" font-size="3.5" fill="#222" font-weight="bold" text-anchor="middle" >49</text>
<text x="176.60" y="391.86" font-size="3.5" fill="#e0342a" font-weight="bold" text-anchor="middle" >35</text>
<line x1="216.20" y1="358.30" x2="219.80" y2="358.30" stroke="#666" stroke-width="0.6" />
<text transform="translate(214.52,359.20) rotate(-90)" font-size="5.9" fill="#222" stroke="#222" stroke-width="0.15" text-anchor="middle" >0.0</text>
<line x1="216.20" y1="338.85" x2="219.80" y2="338.85" stroke="#666" stroke-width="0.6" />
<text transform="translate(214.52,339.75) rotate(-90)" font-size="5.9" fill="#222" stroke="#222" stroke-width="0.15" text-anchor="middle" >0.2</text>
<line x1="216.20" y1="319.40" x2="219.80" y2="319.40" stroke="#666" stroke-width="0.6" />
<text transform="translate(214.52,320.30) rotate(-90)" font-size="5.9" fill="#222" stroke="#222" stroke-width="0.15" text-anchor="middle" >0.4</text>
<line x1="216.20" y1="299.95" x2="219.80" y2="299.95" stroke="#666" stroke-width="0.6" />
<text transform="translate(214.52,300.85) rotate(-90)" font-size="5.9" fill="#222" stroke="#222" stroke-width="0.15" text-anchor="middle" >0.6</text>
<line x1="216.20" y1="280.50" x2="219.80" y2="280.50" stroke="#666" stroke-width="0.6" />
<text transform="translate(214.52,281.40) rotate(-90)" font-size="5.9" fill="#222" stroke="#222" stroke-width="0.15" text-anchor="middle" >0.8</text>
<line x1="216.20" y1="261.05" x2="219.80" y2="261.05" stroke="#666" stroke-width="0.6" />
<text transform="translate(214.52,261.95) rotate(-90)" font-size="5.9" fill="#222" stroke="#222" stroke-width="0.15" text-anchor="middle" >1.0</text>
<text transform="translate(205.32,309.80) rotate(-90)" font-size="5.9" fill="#222" stroke="#222" stroke-width="0.15" text-anchor="middle" textLength="26.5" lengthAdjust="spacingAndGlyphs" >Probability</text>
<line x1="224.70" y1="361.80" x2="224.70" y2="364.40" stroke="#666" stroke-width="0.6" />
<text x="224.70" y="369.97" font-size="5.2" fill="#333" stroke="#333" stroke-width="0.13" text-anchor="middle" >0</text>
<line x1="250.62" y1="361.80" x2="250.62" y2="364.40" stroke="#666" stroke-width="0.6" />
<text x="250.62" y="369.97" font-size="5.2" fill="#333" stroke="#333" stroke-width="0.13" text-anchor="middle" >50</text>
<line x1="276.55" y1="361.80" x2="276.55" y2="364.40" stroke="#666" stroke-width="0.6" />
<text x="276.55" y="369.97" font-size="5.2" fill="#333" stroke="#333" stroke-width="0.13" text-anchor="middle" >100</text>
<line x1="302.47" y1="361.80" x2="302.47" y2="364.40" stroke="#666" stroke-width="0.6" />
<text x="302.47" y="369.97" font-size="5.2" fill="#333" stroke="#333" stroke-width="0.13" text-anchor="middle" >150</text>
<line x1="328.40" y1="361.80" x2="328.40" y2="364.40" stroke="#666" stroke-width="0.6" />
<text x="328.40" y="369.97" font-size="5.2" fill="#333" stroke="#333" stroke-width="0.13" text-anchor="middle" >200</text>
<text x="281.80" y="379.06" font-size="6.0" fill="#222" stroke="#222" stroke-width="0.15" text-anchor="middle" textLength="35.6" lengthAdjust="spacingAndGlyphs" >Time (months)</text>
<text x="282.10" y="251.52" font-size="5.6" fill="#222" font-weight="bold" text-anchor="middle" textLength="52.2" lengthAdjust="spacingAndGlyphs" >PER3 (221045_s_at)</text>
<text x="340.70" y="265.74" font-size="5.4" fill="#1e1e1e" stroke="#1e1e1e" stroke-width="0.14" text-anchor="end" textLength="58.6" lengthAdjust="spacingAndGlyphs" >HR = 0.64 (0.53 − 0.76)</text>
<text x="340.70" y="272.84" font-size="5.4" fill="#1e1e1e" stroke="#1e1e1e" stroke-width="0.14" text-anchor="end" textLength="50.3" lengthAdjust="spacingAndGlyphs" >logrank P = 2.7e−07</text>
<path d="M224.8 262.3H225.5V263.6H226.6V265.5H227.5V267.2H228.6V269.7H229.7V272.3H230.2V273.6H230.8V274.8H232.1V278.1H232.9V280.0H233.6V281.6H235.1V284.6H236.1V286.5H237.4V289.2H238.4V291.2H239.5V293.3H240.2V294.2H241.3V295.6H242.7V297.4H243.7V298.8H244.9V300.1H246.1V301.2H246.7V301.8H247.9V303.1H249.0V304.0H249.8V304.6H250.3V305.0H251.7V306.0H252.7V306.7H253.9V307.6H255.3V308.5H256.5V309.3H257.9V310.1H258.8V310.7H260.1V311.5H261.1V312.1H262.5V312.8H263.9V313.4H264.5V313.6H265.1V313.8H265.8V314.1H267.3V314.6H268.2V315.0H269.3V315.5H270.2V316.0H271.2V316.6H272.0V317.1H272.9V317.7H274.0V318.3H275.1V319.0H276.5V319.8H277.6V320.3H279.1V320.8H280.4V321.3H281.9V321.9H283.1V322.3H283.8V322.7H285.1V323.4H286.6V324.3H288.0V325.1H289.1V325.7H290.3V326.4H291.0V326.6H292.3V327.1H293.4V327.4H294.2V327.7H294.7V327.9H296.1V328.3H297.6V328.7H298.2V328.8H299.5V329.1H300.4V329.3H301.0V329.5H301.8V329.7H303.1V330.0H304.5V330.3H305.0V330.3H306.1V330.4H306.7V330.5H307.9V330.6H308.7V330.7H310.1V330.8H311.6V330.9H312.6V331.0H314.1V331.1H314.9V331.2H315.5V333.5H316.6V333.5H317.1V333.5H317.8V333.5H318.7V333.5H319.8V333.5H320.5V333.5H321.0V333.5H322.4V333.5H323.2V333.5H324.7V333.5H326.1V339.5H326.9V339.5H327.9V339.5H328.9V339.5H330.1V339.5H330.1V339.5V348.9" fill="none" stroke="#111" stroke-width="0.8"/>
<path d="M244.1 298.3v1.8M243.2 299.2h1.8M234.0 281.4v1.8M233.1 282.3h1.8M255.6 307.8v1.8M254.7 308.7h1.8M238.0 289.6v1.8M237.1 290.5h1.8M231.0 274.4v1.8M230.1 275.3h1.8M255.9 308.0v1.8M255.0 308.9h1.8M290.3 325.5v1.8M289.4 326.4h1.8M282.7 321.3v1.8M281.8 322.2h1.8M280.4 320.4v1.8M279.5 321.3h1.8M243.1 297.0v1.8M242.2 297.9h1.8M265.2 313.0v1.8M264.3 313.9h1.8M247.1 301.3v1.8M246.2 302.2h1.8M239.4 292.2v1.8M238.5 293.1h1.8M234.2 281.9v1.8M233.3 282.8h1.8M242.5 296.3v1.8M241.6 297.2h1.8M291.0 325.7v1.8M290.1 326.6h1.8M284.6 322.2v1.8M283.7 323.1h1.8M283.2 321.4v1.8M282.3 322.3h1.8M282.7 321.3v1.8M281.8 322.2h1.8M240.9 294.3v1.8M240.0 295.2h1.8M249.5 303.5v1.8M248.6 304.4h1.8M271.3 315.8v1.8M270.4 316.7h1.8M278.3 319.6v1.8M277.4 320.5h1.8M286.3 323.2v1.8M285.4 324.1h1.8M287.9 324.1v1.8M287.0 325.0h1.8M232.6 278.5v1.8M231.7 279.4h1.8M269.9 314.9v1.8M269.0 315.8h1.8M274.3 317.6v1.8M273.4 318.5h1.8M263.1 312.2v1.8M262.2 313.1h1.8M239.8 292.7v1.8M238.9 293.6h1.8M260.9 311.1v1.8M260.0 312.0h1.8M232.9 279.1v1.8M232.0 280.0h1.8M291.4 325.9v1.8M290.5 326.8h1.8M287.0 323.6v1.8M286.1 324.5h1.8M266.0 313.2v1.8M265.1 314.1h1.8M248.8 303.0v1.8M247.9 303.9h1.8M289.8 325.2v1.8M288.9 326.1h1.8M267.6 313.9v1.8M266.7 314.8h1.8M288.1 324.2v1.8M287.2 325.1h1.8M285.8 323.0v1.8M284.9 323.9h1.8M263.3 312.3v1.8M262.4 313.2h1.8M256.8 308.6v1.8M255.9 309.5h1.8M269.4 314.6v1.8M268.5 315.5h1.8M258.0 309.3v1.8M257.1 310.2h1.8M238.5 290.6v1.8M237.6 291.5h1.8M249.1 303.2v1.8M248.2 304.1h1.8M283.5 321.6v1.8M282.6 322.5h1.8M229.0 269.8v1.8M228.1 270.7h1.8M229.3 270.4v1.8M228.4 271.3h1.8M271.3 315.7v1.8M270.4 316.6h1.8M247.3 301.6v1.8M246.4 302.5h1.8M265.1 312.9v1.8M264.2 313.8h1.8M260.8 311.0v1.8M259.9 311.9h1.8M251.8 305.2v1.8M250.9 306.1h1.8M295.4 327.2v1.8M294.5 328.1h1.8M241.1 294.5v1.8M240.2 295.4h1.8M256.7 308.5v1.8M255.8 309.4h1.8M241.6 295.2v1.8M240.7 296.1h1.8M271.7 316.0v1.8M270.8 316.9h1.8M247.0 301.3v1.8M246.1 302.2h1.8M252.7 305.9v1.8M251.8 306.8h1.8M279.2 320.0v1.8M278.3 320.9h1.8M250.2 304.0v1.8M249.3 304.9h1.8M266.7 313.5v1.8M265.8 314.4h1.8M289.5 325.0v1.8M288.6 325.9h1.8M233.8 281.1v1.8M232.9 282.0h1.8M230.6 273.4v1.8M229.7 274.3h1.8M243.6 297.7v1.8M242.7 298.6h1.8M280.4 320.4v1.8M279.5 321.3h1.8M270.5 315.3v1.8M269.6 316.2h1.8M244.2 298.4v1.8M243.3 299.3h1.8M251.0 304.6v1.8M250.1 305.5h1.8M239.7 292.7v1.8M238.8 293.6h1.8M259.9 310.5v1.8M259.0 311.4h1.8M229.0 269.7v1.8M228.1 270.6h1.8" fill="none" stroke="#111" stroke-width="0.5"/>
<path d="M224.8 262.3H225.9V263.3H227.2V264.4H228.5V265.5H229.9V267.3H231.1V269.0H232.6V270.9H233.1V271.6H234.1V273.0H235.5V275.2H236.7V276.4H238.1V277.1H238.7V277.4H239.6V277.9H240.4V278.3H241.4V278.8H242.5V279.5H243.0V280.0H243.7V280.7H244.5V281.5H245.9V283.2H247.2V285.1H247.8V286.1H249.1V287.3H249.8V287.7H250.9V288.4H251.5V288.8H252.0V289.1H253.4V290.0H254.1V290.4H254.8V290.8H256.3V291.6H257.7V292.4H258.5V292.8H259.9V294.3H261.0V295.6H262.2V297.0H262.9V297.8H264.3V299.5H265.5V300.8H267.0V302.5H268.3V303.8H269.1V304.6H270.0V305.5H270.7V306.2H271.3V306.7H271.9V307.1H272.7V307.6H273.8V308.3H274.3V308.6H275.5V309.4H276.3V310.0H277.1V310.5H278.4V311.5H279.4V312.1H280.2V312.7H281.2V313.6H282.4V314.7H283.0V315.2H284.5V316.6H285.0V317.1H286.2V317.4H287.6V317.7H288.1V317.9H289.4V319.3H290.2V320.8H291.3V322.6H291.8V323.6H292.4V324.7H293.1V326.0H294.5V328.3H295.2V329.1H296.5V329.4H297.9V329.4H299.3V329.4H300.2V329.4H301.0V329.4H302.1V329.4H303.3V329.4H303.9V329.4H305.2V329.4H306.5V329.4H307.8V329.4H308.4V329.4H309.8V329.4H310.4V329.4H311.3V329.4H312.4V329.4H313.8V329.4H314.6V329.4H316.1V336.0H317.1V336.0H317.9V336.0H318.7V336.0H319.4V336.0H320.0V336.0H320.6V336.0H321.8V336.0H323.3V336.0H324.0V336.0H324.5V336.0H326.0V347.5H327.1V347.5H328.0V347.5H328.7V347.5H329.8V347.5H331.1V347.5H332.1V347.5H333.0V347.5H333.5V347.5H335.0V347.5H335.5V347.5H336.5V347.5H337.8V347.5H338.5V347.5H339.5V347.5V347.5" fill="none" stroke="#e04862" stroke-width="0.8"/>
<path d="M282.3 313.7v1.8M281.4 314.6h1.8M284.1 315.4v1.8M283.2 316.3h1.8M261.7 295.6v1.8M260.8 296.5h1.8M246.0 282.4v1.8M245.1 283.3h1.8M224.9 261.5v1.8M224.0 262.4h1.8M273.7 307.4v1.8M272.8 308.3h1.8M260.7 294.3v1.8M259.8 295.2h1.8M280.1 311.7v1.8M279.2 312.6h1.8M254.0 289.4v1.8M253.1 290.3h1.8M280.8 312.3v1.8M279.9 313.2h1.8M246.8 283.6v1.8M245.9 284.5h1.8M282.8 314.2v1.8M281.9 315.1h1.8M278.1 310.3v1.8M277.2 311.2h1.8M256.8 291.0v1.8M255.9 291.9h1.8M265.3 299.8v1.8M264.4 300.7h1.8M275.0 308.2v1.8M274.1 309.1h1.8M240.9 277.7v1.8M240.0 278.6h1.8M266.4 301.0v1.8M265.5 301.9h1.8M283.1 314.4v1.8M282.2 315.3h1.8M246.3 282.8v1.8M245.4 283.7h1.8M282.9 314.3v1.8M282.0 315.2h1.8M275.2 308.3v1.8M274.3 309.2h1.8M285.6 316.3v1.8M284.7 317.2h1.8M251.3 287.8v1.8M250.4 288.7h1.8M233.2 270.7v1.8M232.3 271.6h1.8M282.7 314.1v1.8M281.8 315.0h1.8M283.0 314.4v1.8M282.1 315.3h1.8M259.0 292.2v1.8M258.1 293.1h1.8M233.2 270.8v1.8M232.3 271.7h1.8M241.2 277.8v1.8M240.3 278.7h1.8M271.8 306.1v1.8M270.9 307.0h1.8M248.1 285.6v1.8M247.2 286.5h1.8M292.5 324.0v1.8M291.6 324.9h1.8M268.7 303.3v1.8M267.8 304.2h1.8M241.5 277.9v1.8M240.6 278.8h1.8M273.2 307.0v1.8M272.3 307.9h1.8M253.1 288.9v1.8M252.2 289.8h1.8M291.3 321.7v1.8M290.4 322.6h1.8M289.8 319.1v1.8M288.9 320.0h1.8M263.7 297.9v1.8M262.8 298.8h1.8M272.5 306.6v1.8M271.6 307.5h1.8M276.0 308.9v1.8M275.1 309.8h1.8M283.1 314.4v1.8M282.2 315.3h1.8M294.1 327.0v1.8M293.2 327.9h1.8M227.7 263.9v1.8M226.8 264.8h1.8M253.1 288.9v1.8M252.2 289.8h1.8M269.6 304.2v1.8M268.7 305.1h1.8M249.1 286.4v1.8M248.2 287.3h1.8M268.8 303.4v1.8M267.9 304.3h1.8M232.9 270.4v1.8M232.0 271.3h1.8M287.9 316.9v1.8M287.0 317.8h1.8M264.5 298.8v1.8M263.6 299.7h1.8M235.1 273.6v1.8M234.2 274.5h1.8M273.7 307.4v1.8M272.8 308.3h1.8M249.6 286.7v1.8M248.7 287.6h1.8M241.1 277.8v1.8M240.2 278.7h1.8M261.6 295.5v1.8M260.7 296.4h1.8M236.7 275.6v1.8M235.8 276.5h1.8M242.2 278.3v1.8M241.3 279.2h1.8M287.0 316.7v1.8M286.1 317.6h1.8M276.0 308.9v1.8M275.1 309.8h1.8M226.2 262.6v1.8M225.3 263.5h1.8M281.3 312.8v1.8M280.4 313.7h1.8M226.6 263.0v1.8M225.7 263.9h1.8M251.1 287.7v1.8M250.2 288.6h1.8" fill="none" stroke="#e04862" stroke-width="0.5"/>
<rect x="219.80" y="257.80" width="123.40" height="104.00" fill="none" stroke="#8a8a8a" stroke-width="0.8" />
<text x="222.70" y="344.25" font-size="5.7" fill="#222" stroke="#222" stroke-width="0.14" >Expression</text>
<line x1="225.10" y1="349.80" x2="235.20" y2="349.80" stroke="#aaa" stroke-width="0.9" />
<line x1="225.10" y1="356.20" x2="235.20" y2="356.20" stroke="#f4a291" stroke-width="0.9" />
<text x="240.50" y="351.65" font-size="5.7" fill="#222" stroke="#222" stroke-width="0.14" >low</text>
<text x="240.50" y="356.65" font-size="5.7" fill="#222" stroke="#222" stroke-width="0.14" >high</text>
<text x="220.00" y="383.46" font-size="3.5" fill="#222" font-weight="bold" textLength="23.2" lengthAdjust="spacingAndGlyphs" >Number at risk</text>
<text x="213.20" y="387.46" font-size="3.5" fill="#222" font-weight="bold" text-anchor="end" >low</text>
<text x="213.20" y="391.86" font-size="3.5" fill="#e0342a" font-weight="bold" text-anchor="end" >high</text>
<text x="224.70" y="387.46" font-size="3.5" fill="#222" font-weight="bold" text-anchor="middle" >582</text>
<text x="224.70" y="391.86" font-size="3.5" fill="#e0342a" font-weight="bold" text-anchor="middle" >579</text>
<text x="250.60" y="387.46" font-size="3.5" fill="#222" font-weight="bold" text-anchor="middle" >245</text>
<text x="250.60" y="391.86" font-size="3.5" fill="#e0342a" font-weight="bold" text-anchor="middle" >217</text>
<text x="276.80" y="387.46" font-size="3.5" fill="#222" font-weight="bold" text-anchor="middle" >64</text>
<text x="276.80" y="391.86" font-size="3.5" fill="#e0342a" font-weight="bold" text-anchor="middle" >53</text>
<text x="302.70" y="387.46" font-size="3.5" fill="#222" font-weight="bold" text-anchor="middle" >22</text>
<text x="302.70" y="391.86" font-size="3.5" fill="#e0342a" font-weight="bold" text-anchor="middle" >8</text>
<text x="328.20" y="387.46" font-size="3.5" fill="#222" font-weight="bold" text-anchor="middle" >3</text>
<text x="328.20" y="391.86" font-size="3.5" fill="#e0342a" font-weight="bold" text-anchor="middle" >1</text>
<line x1="364.80" y1="292.60" x2="508.40" y2="292.60" stroke="#b8b8b8" stroke-width="0.9" />
<line x1="364.80" y1="260.50" x2="364.80" y2="337.70" stroke="#555" stroke-width="0.8" />
<line x1="363.40" y1="265.60" x2="364.80" y2="265.60" stroke="#555" stroke-width="0.5" />
<text x="362.90" y="266.61" font-size="2.8" fill="#333" text-anchor="end" >0.5</text>
<line x1="363.40" y1="292.60" x2="364.80" y2="292.60" stroke="#555" stroke-width="0.5" />
<text x="362.90" y="293.61" font-size="2.8" fill="#333" text-anchor="end" >0</text>
<line x1="363.40" y1="319.90" x2="364.80" y2="319.90" stroke="#555" stroke-width="0.5" />
<text x="362.90" y="320.91" font-size="2.8" fill="#333" text-anchor="end" >-0.5</text>
<text transform="translate(358.64,298.90) rotate(-90)" font-size="2.9" fill="#333" font-weight="bold" text-anchor="middle" textLength="21.2" lengthAdjust="spacingAndGlyphs" >Enrichment Score</text>
<polyline points="364.8,292.0 365.5,276.0 367.0,268.9 372.0,268.9 373.5,272.0 377.0,266.5 383.0,266.0 392.0,265.0 400.0,267.0 420.0,273.0 440.0,279.0 470.0,286.5 490.0,293.5 494.0,294.5 500.0,293.0 507.0,292.6" fill="none" stroke="#5a4bb0" stroke-width="1.05" stroke-linejoin="round" />
<polyline points="364.8,291.0 368.0,280.3 372.0,271.4 375.5,262.0 378.0,261.3 388.0,262.5 389.5,264.0 391.0,261.6 395.0,261.8 400.0,263.5 420.0,268.3 440.0,274.5 470.0,282.5 490.0,288.6 494.0,288.0 498.0,287.8" fill="none" stroke="#e33a7f" stroke-width="1.05" stroke-linejoin="round" />
<polyline points="364.8,291.5 368.0,277.0 375.0,270.2 380.0,269.5 382.0,266.4 390.0,265.1 392.0,263.8 400.0,264.5 420.0,269.9 440.0,276.0 470.0,284.0 490.0,291.0 496.0,292.5" fill="none" stroke="#8b2a2a" stroke-width="1.05" stroke-linejoin="round" />
<polyline points="364.8,291.5 368.0,275.0 372.0,269.0 376.0,266.4 385.0,266.0 392.0,265.5 400.0,267.0 420.0,272.7 440.0,278.0 470.0,286.0 488.0,292.5 495.0,293.5 504.0,292.6" fill="none" stroke="#3b7fd0" stroke-width="1.05" stroke-linejoin="round" />
<polyline points="364.8,292.0 366.0,285.0 370.0,277.5 373.0,277.7 375.0,276.0 378.0,273.9 385.0,270.8 392.0,270.2 400.0,271.0 420.0,273.9 440.0,280.5 470.0,287.5 488.0,294.0 494.0,296.0 500.0,294.0 505.0,292.6" fill="none" stroke="#b07a35" stroke-width="1.05" stroke-linejoin="round" />
<polyline points="364.8,293.0 380.0,298.0 415.4,311.2 450.0,322.8 480.0,333.0 494.0,337.3 500.0,335.8 504.0,330.5 507.0,310.0 508.4,292.6" fill="none" stroke="#a7d86f" stroke-width="1.1" stroke-linejoin="round" />
<polyline points="364.8,292.9 380.0,297.5 450.0,321.8 480.0,331.8 494.0,336.0 500.0,334.0 504.0,329.0 507.0,310.0 508.2,292.6" fill="none" stroke="#e6e04a" stroke-width="1.1" stroke-linejoin="round" />
<polyline points="364.8,292.0 370.0,291.0 374.0,290.4 382.0,291.6 384.2,291.7 450.0,313.5 480.0,323.5 498.0,328.9 503.0,326.0 506.0,318.0 508.2,292.6" fill="none" stroke="#3ec0d8" stroke-width="1.1" stroke-linejoin="round" />
<polyline points="364.8,292.0 372.0,290.8 385.0,292.0 450.0,313.8 480.0,323.5 496.0,327.3 501.0,326.0 505.0,322.0 508.2,292.6" fill="none" stroke="#2a2560" stroke-width="1.1" stroke-linejoin="round" />
<polyline points="364.8,292.3 380.0,295.4 450.0,319.0 480.0,329.5 494.0,334.3 500.0,333.0 504.0,327.0 507.0,305.0 508.2,292.6" fill="none" stroke="#3a2a5a" stroke-width="1.1" stroke-linejoin="round" />
<line x1="366.20" y1="304.20" x2="369.00" y2="304.20" stroke="#3ec0d8" stroke-width="1.0" />
<text x="370.60" y="305.10" font-size="2.5" fill="#222" font-weight="bold" textLength="32.43" lengthAdjust="spacingAndGlyphs" >KEGG_ALZHEIMERS_DISEASE</text>
<line x1="366.20" y1="307.60" x2="369.00" y2="307.60" stroke="#8b2a2a" stroke-width="1.0" />
<text x="370.60" y="308.50" font-size="2.5" fill="#222" font-weight="bold" textLength="31.02" lengthAdjust="spacingAndGlyphs" >KEGG_COLORECTAL_CANCER</text>
<line x1="366.20" y1="311.00" x2="369.00" y2="311.00" stroke="#3b7fd0" stroke-width="1.0" />
<text x="370.60" y="311.90" font-size="2.5" fill="#222" font-weight="bold" textLength="38.07" lengthAdjust="spacingAndGlyphs" >KEGG_ERBB_SIGNALING_PATHWAY</text>
<line x1="366.20" y1="314.40" x2="369.00" y2="314.40" stroke="#2a2560" stroke-width="1.0" />
<text x="370.60" y="315.30" font-size="2.5" fill="#222" font-weight="bold" textLength="33.839999999999996" lengthAdjust="spacingAndGlyphs" >KEGG_HUNTINGTONS_DISEASE</text>
<line x1="366.20" y1="317.80" x2="369.00" y2="317.80" stroke="#b07a35" stroke-width="1.0" />
<text x="370.60" y="318.70" font-size="2.5" fill="#222" font-weight="bold" textLength="38.07" lengthAdjust="spacingAndGlyphs" >KEGG_MAPK_SIGNALING_PATHWAY</text>
<line x1="366.20" y1="321.20" x2="369.00" y2="321.20" stroke="#5a4bb0" stroke-width="1.0" />
<text x="370.60" y="322.10" font-size="2.5" fill="#222" font-weight="bold" textLength="38.07" lengthAdjust="spacingAndGlyphs" >KEGG_MTOR_SIGNALING_PATHWAY</text>
<line x1="366.20" y1="324.60" x2="369.00" y2="324.60" stroke="#e33a7f" stroke-width="1.0" />
<text x="370.60" y="325.50" font-size="2.5" fill="#222" font-weight="bold" textLength="43.71" lengthAdjust="spacingAndGlyphs" >KEGG_NON_SMALL_CELL_LUNG_CANCER</text>
<line x1="366.20" y1="328.00" x2="369.00" y2="328.00" stroke="#e6e04a" stroke-width="1.0" />
<text x="370.60" y="328.90" font-size="2.5" fill="#222" font-weight="bold" textLength="42.3" lengthAdjust="spacingAndGlyphs" >KEGG_OXIDATIVE_PHOSPHORYLATION</text>
<line x1="366.20" y1="331.40" x2="369.00" y2="331.40" stroke="#5a3a7a" stroke-width="1.0" />
<text x="370.60" y="332.30" font-size="2.5" fill="#222" font-weight="bold" textLength="32.43" lengthAdjust="spacingAndGlyphs" >KEGG_PARKINSONS_DISEASE</text>
<line x1="366.20" y1="334.80" x2="369.00" y2="334.80" stroke="#a7d86f" stroke-width="1.0" />
<text x="370.60" y="335.70" font-size="2.5" fill="#222" font-weight="bold" textLength="26.79" lengthAdjust="spacingAndGlyphs" >KEGG_PROTEIN_EXPORT</text>
<path d="M426.6 350.3v1.9M461.4 350.3v1.9M407.4 350.3v1.9M456.4 350.3v1.9M492.8 350.3v1.9M476.7 350.3v1.9M506.8 350.3v1.9M493.2 350.3v1.9M508.1 350.3v1.9M417.6 350.3v1.9M439.5 350.3v1.9M482.1 350.3v1.9M503.7 350.3v1.9M477.1 350.3v1.9M402.5 350.3v1.9M380.1 350.3v1.9M450.1 350.3v1.9M460.6 350.3v1.9M508.4 350.3v1.9M492.9 350.3v1.9M495.6 350.3v1.9M387.2 350.3v1.9M413.1 350.3v1.9M419.3 350.3v1.9M461.9 350.3v1.9M496.4 350.3v1.9M388.5 350.3v1.9M477.5 350.3v1.9M474.8 350.3v1.9M474.6 350.3v1.9M505.3 350.3v1.9M366.4 350.3v1.9M459.6 350.3v1.9M415.8 350.3v1.9M440.7 350.3v1.9M438.4 350.3v1.9M499.3 350.3v1.9M380.3 350.3v1.9M442.7 350.3v1.9M504.6 350.3v1.9M403.3 350.3v1.9M476.2 350.3v1.9M429.0 350.3v1.9M373.8 350.3v1.9M367.2 350.3v1.9" stroke="#6a5a9a" stroke-width="0.5" opacity="0.35" fill="none"/>
<path d="M470.7 352.2v1.9M485.0 352.2v1.9M505.0 352.2v1.9M507.9 352.2v1.9M425.3 352.2v1.9M485.9 352.2v1.9M509.3 352.2v1.9M502.9 352.2v1.9M507.7 352.2v1.9M499.8 352.2v1.9M370.7 352.2v1.9M486.4 352.2v1.9M379.2 352.2v1.9M443.9 352.2v1.9M506.4 352.2v1.9M427.9 352.2v1.9M468.8 352.2v1.9M472.2 352.2v1.9M501.8 352.2v1.9M503.6 352.2v1.9M509.4 352.2v1.9M380.9 352.2v1.9M470.1 352.2v1.9M412.6 352.2v1.9M504.5 352.2v1.9M379.3 352.2v1.9M508.5 352.2v1.9M509.0 352.2v1.9M490.1 352.2v1.9M408.1 352.2v1.9M508.6 352.2v1.9M500.7 352.2v1.9M506.1 352.2v1.9M507.3 352.2v1.9M448.0 352.2v1.9M509.3 352.2v1.9M406.2 352.2v1.9M429.0 352.2v1.9M488.2 352.2v1.9M435.6 352.2v1.9M447.7 352.2v1.9M450.8 352.2v1.9M509.3 352.2v1.9M501.7 352.2v1.9M502.6 352.2v1.9" stroke="#e6e04a" stroke-width="0.5" opacity="0.2" fill="none"/>
<path d="M406.8 354.2v1.9M414.0 354.2v1.9M496.2 354.2v1.9M367.0 354.2v1.9M422.7 354.2v1.9M407.6 354.2v1.9M447.8 354.2v1.9M501.0 354.2v1.9M382.4 354.2v1.9M440.8 354.2v1.9M410.3 354.2v1.9M415.8 354.2v1.9M365.8 354.2v1.9M464.8 354.2v1.9M503.4 354.2v1.9M387.2 354.2v1.9M383.2 354.2v1.9M507.6 354.2v1.9M367.4 354.2v1.9M366.2 354.2v1.9M366.1 354.2v1.9M464.7 354.2v1.9M453.0 354.2v1.9M398.9 354.2v1.9M426.2 354.2v1.9M364.9 354.2v1.9M430.4 354.2v1.9M398.1 354.2v1.9M409.0 354.2v1.9M391.3 354.2v1.9M392.8 354.2v1.9M374.7 354.2v1.9M365.4 354.2v1.9M397.0 354.2v1.9M376.5 354.2v1.9M441.7 354.2v1.9M465.4 354.2v1.9M445.6 354.2v1.9M400.0 354.2v1.9M375.6 354.2v1.9M390.8 354.2v1.9M404.4 354.2v1.9M428.1 354.2v1.9M499.9 354.2v1.9M366.5 354.2v1.9" stroke="#e0307a" stroke-width="0.5" opacity="0.2" fill="none"/>
<path d="M434.2 356.1v1.9M435.9 356.1v1.9M468.5 356.1v1.9M493.6 356.1v1.9M477.5 356.1v1.9M455.4 356.1v1.9M474.5 356.1v1.9M461.4 356.1v1.9M489.0 356.1v1.9M465.9 356.1v1.9M463.6 356.1v1.9M400.3 356.1v1.9M497.4 356.1v1.9M420.6 356.1v1.9M453.7 356.1v1.9M484.1 356.1v1.9M504.2 356.1v1.9M507.8 356.1v1.9M365.7 356.1v1.9M410.0 356.1v1.9M409.9 356.1v1.9M421.4 356.1v1.9M385.8 356.1v1.9M444.8 356.1v1.9M376.3 356.1v1.9M408.6 356.1v1.9M501.2 356.1v1.9M472.1 356.1v1.9M431.7 356.1v1.9M380.4 356.1v1.9M503.0 356.1v1.9M466.6 356.1v1.9M394.6 356.1v1.9M413.3 356.1v1.9M457.6 356.1v1.9M463.4 356.1v1.9M402.5 356.1v1.9M502.3 356.1v1.9M411.4 356.1v1.9M401.6 356.1v1.9M487.0 356.1v1.9M387.0 356.1v1.9M463.3 356.1v1.9M393.7 356.1v1.9M451.3 356.1v1.9" stroke="#9a9a9a" stroke-width="0.5" opacity="0.1" fill="none"/>
<path d="M404.9 358.0v1.9M419.6 358.0v1.9M500.8 358.0v1.9M432.3 358.0v1.9M428.0 358.0v1.9M454.0 358.0v1.9M405.4 358.0v1.9M390.0 358.0v1.9M420.4 358.0v1.9M404.2 358.0v1.9M392.1 358.0v1.9M503.7 358.0v1.9M369.8 358.0v1.9M482.0 358.0v1.9M500.0 358.0v1.9M466.7 358.0v1.9M367.5 358.0v1.9M437.3 358.0v1.9M370.5 358.0v1.9M452.7 358.0v1.9M466.1 358.0v1.9M399.5 358.0v1.9M365.9 358.0v1.9M443.5 358.0v1.9M378.5 358.0v1.9M409.5 358.0v1.9M430.5 358.0v1.9M494.1 358.0v1.9M418.3 358.0v1.9M384.3 358.0v1.9M479.3 358.0v1.9M483.7 358.0v1.9M441.4 358.0v1.9M371.9 358.0v1.9M391.9 358.0v1.9M423.1 358.0v1.9M444.6 358.0v1.9M397.4 358.0v1.9M480.8 358.0v1.9M486.8 358.0v1.9M498.6 358.0v1.9M492.6 358.0v1.9M367.3 358.0v1.9M449.0 358.0v1.9M376.4 358.0v1.9" stroke="#b07a35" stroke-width="0.5" opacity="0.0" fill="none"/>
<path d="M490.8 360.0v1.9M463.8 360.0v1.9M465.9 360.0v1.9M381.3 360.0v1.9M368.5 360.0v1.9M475.7 360.0v1.9M440.3 360.0v1.9M442.5 360.0v1.9M419.2 360.0v1.9M473.0 360.0v1.9M400.1 360.0v1.9M391.1 360.0v1.9M402.2 360.0v1.9M394.8 360.0v1.9M443.6 360.0v1.9M489.1 360.0v1.9M369.4 360.0v1.9M369.2 360.0v1.9M425.3 360.0v1.9M452.1 360.0v1.9M381.5 360.0v1.9M391.1 360.0v1.9M368.4 360.0v1.9M366.8 360.0v1.9M422.8 360.0v1.9M452.5 360.0v1.9M447.9 360.0v1.9M378.0 360.0v1.9M372.4 360.0v1.9M496.5 360.0v1.9M429.5 360.0v1.9M409.9 360.0v1.9M454.2 360.0v1.9M460.5 360.0v1.9M427.3 360.0v1.9M370.1 360.0v1.9M477.8 360.0v1.9M384.3 360.0v1.9M367.0 360.0v1.9M402.0 360.0v1.9M428.5 360.0v1.9M443.8 360.0v1.9M379.7 360.0v1.9M457.4 360.0v1.9M422.6 360.0v1.9" stroke="#5a4bb0" stroke-width="0.5" opacity="0.3" fill="none"/>
<path d="M374.2 361.9v1.9M478.3 361.9v1.9M469.6 361.9v1.9M489.6 361.9v1.9M445.8 361.9v1.9M379.4 361.9v1.9M464.0 361.9v1.9M488.8 361.9v1.9M421.1 361.9v1.9M490.0 361.9v1.9M503.0 361.9v1.9M400.0 361.9v1.9M497.0 361.9v1.9M495.9 361.9v1.9M467.1 361.9v1.9M365.0 361.9v1.9M395.0 361.9v1.9M434.3 361.9v1.9M433.2 361.9v1.9M459.8 361.9v1.9M440.0 361.9v1.9M374.2 361.9v1.9M494.7 361.9v1.9M421.6 361.9v1.9M484.5 361.9v1.9M378.4 361.9v1.9M509.0 361.9v1.9M424.6 361.9v1.9M463.6 361.9v1.9M456.8 361.9v1.9M484.7 361.9v1.9M396.3 361.9v1.9M368.2 361.9v1.9M402.1 361.9v1.9M375.7 361.9v1.9M422.2 361.9v1.9M471.2 361.9v1.9M396.3 361.9v1.9M371.7 361.9v1.9M365.4 361.9v1.9M404.6 361.9v1.9M428.7 361.9v1.9M365.4 361.9v1.9M443.3 361.9v1.9M378.8 361.9v1.9" stroke="#3b7fd0" stroke-width="0.5" opacity="0.2" fill="none"/>
<path d="M367.4 363.8v1.9M491.1 363.8v1.9M409.8 363.8v1.9M483.2 363.8v1.9M408.4 363.8v1.9M368.1 363.8v1.9M375.9 363.8v1.9M395.7 363.8v1.9M429.7 363.8v1.9M455.3 363.8v1.9M451.2 363.8v1.9M431.5 363.8v1.9M377.0 363.8v1.9M396.5 363.8v1.9M389.9 363.8v1.9M404.8 363.8v1.9M378.1 363.8v1.9M412.1 363.8v1.9M400.4 363.8v1.9M365.2 363.8v1.9M466.6 363.8v1.9M420.1 363.8v1.9M462.2 363.8v1.9M448.2 363.8v1.9M447.0 363.8v1.9M507.7 363.8v1.9M389.8 363.8v1.9M391.8 363.8v1.9M364.8 363.8v1.9M434.1 363.8v1.9M419.3 363.8v1.9M418.4 363.8v1.9M508.8 363.8v1.9M372.6 363.8v1.9M374.8 363.8v1.9M447.7 363.8v1.9M464.3 363.8v1.9M403.8 363.8v1.9M365.6 363.8v1.9M389.0 363.8v1.9M467.4 363.8v1.9M406.3 363.8v1.9M400.7 363.8v1.9M391.3 363.8v1.9M427.5 363.8v1.9" stroke="#e05050" stroke-width="0.5" opacity="0.15" fill="none"/>
<path d="M451.6 365.7v1.9M438.7 365.7v1.9M504.9 365.7v1.9M428.4 365.7v1.9M506.9 365.7v1.9M401.2 365.7v1.9M501.8 365.7v1.9M508.2 365.7v1.9M504.2 365.7v1.9M502.5 365.7v1.9M506.6 365.7v1.9M447.3 365.7v1.9M453.0 365.7v1.9M460.3 365.7v1.9M507.0 365.7v1.9M509.3 365.7v1.9M493.5 365.7v1.9M404.2 365.7v1.9M509.4 365.7v1.9M470.0 365.7v1.9M483.8 365.7v1.9M497.0 365.7v1.9M462.8 365.7v1.9M499.2 365.7v1.9M462.8 365.7v1.9M482.0 365.7v1.9M429.3 365.7v1.9M461.4 365.7v1.9M506.1 365.7v1.9M471.9 365.7v1.9M485.1 365.7v1.9M426.9 365.7v1.9M500.5 365.7v1.9M509.3 365.7v1.9M508.1 365.7v1.9M413.8 365.7v1.9M508.8 365.7v1.9M508.7 365.7v1.9M436.4 365.7v1.9M450.2 365.7v1.9M509.1 365.7v1.9M469.2 365.7v1.9M506.7 365.7v1.9M421.9 365.7v1.9M457.5 365.7v1.9" stroke="#3a2a5a" stroke-width="0.5" opacity="0.15" fill="none"/>
<path d="M504.3 367.7v1.9M397.2 367.7v1.9M436.0 367.7v1.9M488.8 367.7v1.9M439.5 367.7v1.9M508.2 367.7v1.9M509.3 367.7v1.9M438.3 367.7v1.9M484.9 367.7v1.9M502.3 367.7v1.9M465.0 367.7v1.9M431.7 367.7v1.9M505.0 367.7v1.9M503.2 367.7v1.9M443.9 367.7v1.9M504.0 367.7v1.9M463.9 367.7v1.9M507.0 367.7v1.9M413.0 367.7v1.9M458.1 367.7v1.9M491.6 367.7v1.9M500.9 367.7v1.9M489.3 367.7v1.9M502.9 367.7v1.9M397.2 367.7v1.9M507.8 367.7v1.9M507.5 367.7v1.9M502.5 367.7v1.9M507.0 367.7v1.9M493.9 367.7v1.9M485.2 367.7v1.9M505.3 367.7v1.9M423.0 367.7v1.9M490.9 367.7v1.9M404.6 367.7v1.9M508.7 367.7v1.9M439.3 367.7v1.9M378.8 367.7v1.9M506.5 367.7v1.9M503.0 367.7v1.9M374.2 367.7v1.9M498.6 367.7v1.9M505.6 367.7v1.9M433.5 367.7v1.9M446.3 367.7v1.9" stroke="#3ec0d8" stroke-width="0.5" opacity="0.25" fill="none"/>
<path d="M447.3 358.3v2.6M456.2 358.3v2.6M482.9 358.3v2.6M404.9 358.3v2.6M459.1 358.3v2.6M493.6 358.3v2.6M496.2 358.3v2.6M391.8 358.3v2.6M459.0 358.3v2.6M454.0 358.3v2.6M437.6 358.3v2.6M504.5 358.3v2.6M441.2 358.3v2.6M429.2 358.3v2.6M501.2 358.3v2.6M456.7 358.3v2.6M408.4 358.3v2.6M409.5 358.3v2.6M436.5 358.3v2.6M372.4 358.3v2.6M452.7 358.3v2.6M471.2 358.3v2.6M426.4 358.3v2.6M487.2 358.3v2.6M499.0 358.3v2.6M445.1 358.3v2.6M463.3 358.3v2.6M381.8 358.3v2.6M372.9 358.3v2.6M506.5 358.3v2.6M405.9 358.3v2.6M395.7 358.3v2.6M494.5 358.3v2.6M473.2 358.3v2.6M382.6 358.3v2.6M411.3 358.3v2.6M399.9 358.3v2.6M404.2 358.3v2.6M365.7 358.3v2.6M440.7 358.3v2.6M408.8 358.3v2.6M421.8 358.3v2.6M391.6 358.3v2.6M380.7 358.3v2.6M369.6 358.3v2.6M491.0 358.3v2.6M472.9 358.3v2.6M445.7 358.3v2.6M382.7 358.3v2.6M386.3 358.3v2.6M382.1 358.3v2.6M410.6 358.3v2.6M373.1 358.3v2.6M404.6 358.3v2.6M394.1 358.3v2.6M392.7 358.3v2.6M459.3 358.3v2.6M431.0 358.3v2.6M433.3 358.3v2.6M416.6 358.3v2.6M442.7 358.3v2.6M478.3 358.3v2.6M409.3 358.3v2.6M375.0 358.3v2.6M434.4 358.3v2.6M419.6 358.3v2.6M477.7 358.3v2.6M380.8 358.3v2.6M491.0 358.3v2.6M366.9 358.3v2.6M443.2 358.3v2.6M428.9 358.3v2.6M410.4 358.3v2.6M493.3 358.3v2.6M466.3 358.3v2.6M388.4 358.3v2.6M436.4 358.3v2.6M453.3 358.3v2.6M369.6 358.3v2.6M377.4 358.3v2.6M451.8 358.3v2.6M470.3 358.3v2.6M431.7 358.3v2.6M425.8 358.3v2.6M438.1 358.3v2.6M402.5 358.3v2.6M491.5 358.3v2.6M503.9 358.3v2.6M434.5 358.3v2.6M367.8 358.3v2.6M422.2 358.3v2.6M480.9 358.3v2.6M411.8 358.3v2.6M380.1 358.3v2.6M391.6 358.3v2.6M467.7 358.3v2.6M454.7 358.3v2.6M406.2 358.3v2.6M455.0 358.3v2.6M474.8 358.3v2.6M504.5 358.3v2.6M485.0 358.3v2.6M427.6 358.3v2.6M481.9 358.3v2.6M498.6 358.3v2.6M490.4 358.3v2.6M473.3 358.3v2.6M449.6 358.3v2.6M438.8 358.3v2.6M487.7 358.3v2.6M455.2 358.3v2.6M469.1 358.3v2.6M397.8 358.3v2.6M378.1 358.3v2.6M403.9 358.3v2.6M449.2 358.3v2.6M447.7 358.3v2.6M393.5 358.3v2.6M392.1 358.3v2.6M502.2 358.3v2.6M375.1 358.3v2.6M498.8 358.3v2.6M476.4 358.3v2.6M447.8 358.3v2.6M508.8 358.3v2.6M463.1 358.3v2.6M365.8 358.3v2.6M500.6 358.3v2.6M424.6 358.3v2.6M497.3 358.3v2.6M482.5 358.3v2.6M384.8 358.3v2.6M370.5 358.3v2.6M367.8 358.3v2.6M477.7 358.3v2.6M479.2 358.3v2.6M397.8 358.3v2.6M381.1 358.3v2.6M417.8 358.3v2.6M480.4 358.3v2.6" stroke="#a07840" stroke-width="0.55" opacity="0.55" fill="none"/>
<rect x="498.50" y="350.80" width="10.80" height="1.80" fill="#6a4a8a" stroke="none" stroke-width="0" opacity="0.55"/>
<rect x="498.50" y="353.30" width="10.80" height="1.80" fill="#d8d040" stroke="none" stroke-width="0" opacity="0.55"/>
<rect x="498.50" y="362.50" width="10.80" height="1.80" fill="#6a4a8a" stroke="none" stroke-width="0" opacity="0.55"/>
<rect x="498.50" y="369.30" width="10.80" height="1.20" fill="#58b8d0" stroke="none" stroke-width="0" opacity="0.55"/>
<line x1="364.80" y1="371.50" x2="509.40" y2="371.50" stroke="#555" stroke-width="0.7" />
<text x="408.90" y="373.74" font-size="2.9" fill="#111" font-weight="bold" textLength="18.5" lengthAdjust="spacingAndGlyphs" >high expression</text>
<line x1="427.60" y1="372.70" x2="446.80" y2="372.70" stroke="#333" stroke-width="0.7" stroke-dasharray="0.7,0.5"/>
<text x="447.00" y="374.24" font-size="2.9" fill="#111" font-weight="bold" textLength="17.7" lengthAdjust="spacingAndGlyphs" >low expression</text>
<line x1="522.60" y1="334.10" x2="664.50" y2="334.10" stroke="#b8b8b8" stroke-width="0.9" />
<line x1="522.60" y1="261.00" x2="522.60" y2="337.50" stroke="#555" stroke-width="0.8" />
<line x1="521.20" y1="277.60" x2="522.60" y2="277.60" stroke="#555" stroke-width="0.5" />
<text x="520.70" y="278.61" font-size="2.8" fill="#333" text-anchor="end" >0.6</text>
<line x1="521.20" y1="295.90" x2="522.60" y2="295.90" stroke="#555" stroke-width="0.5" />
<text x="520.70" y="296.91" font-size="2.8" fill="#333" text-anchor="end" >0.4</text>
<line x1="521.20" y1="315.20" x2="522.60" y2="315.20" stroke="#555" stroke-width="0.5" />
<text x="520.70" y="316.21" font-size="2.8" fill="#333" text-anchor="end" >0.2</text>
<line x1="521.20" y1="334.10" x2="522.60" y2="334.10" stroke="#555" stroke-width="0.5" />
<text x="520.70" y="335.11" font-size="2.8" fill="#333" text-anchor="end" >0.0</text>
<text transform="translate(515.52,296.40) rotate(-90)" font-size="3.1" fill="#333" font-weight="bold" text-anchor="middle" textLength="22.2" lengthAdjust="spacingAndGlyphs" >Enrichment Score</text>
<polyline points="522.6,334.0 527.0,318.0 531.0,303.0 536.0,293.0 540.0,287.0 545.0,281.0 549.0,278.9 555.0,279.0 560.0,281.5 605.0,301.5 640.0,320.5 664.3,334.0" fill="none" stroke="#e8e030" stroke-width="1.1" stroke-linejoin="round" />
<polyline points="522.6,334.0 526.0,318.0 530.0,295.0 533.0,275.0 536.6,263.0 605.0,300.0 640.0,319.5 664.3,333.4" fill="none" stroke="#5cb83a" stroke-width="1.1" stroke-linejoin="round" />
<polyline points="522.6,334.0 528.0,300.0 531.0,283.0 534.3,276.6 548.0,276.6 552.0,279.0 605.0,301.0 640.0,320.5 664.3,333.4" fill="none" stroke="#3050c8" stroke-width="1.1" stroke-linejoin="round" />
<polyline points="522.6,334.0 528.0,305.0 531.0,287.0 533.0,283.0 535.5,284.5 540.0,284.0 542.0,280.0 545.0,275.0 549.0,272.0 555.0,273.0 605.0,298.5 640.0,316.5 654.0,325.5 664.0,333.4" fill="none" stroke="#b050c0" stroke-width="1.1" stroke-linejoin="round" />
<polyline points="522.6,334.0 527.0,310.0 531.0,290.0 535.5,273.2 537.0,276.0 542.0,274.0 548.0,272.0 605.0,300.5 640.0,320.0 658.0,330.0 664.3,333.4" fill="none" stroke="#e03838" stroke-width="1.1" stroke-linejoin="round" />
<line x1="523.60" y1="315.30" x2="528.00" y2="315.30" stroke="#e03838" stroke-width="1.2" />
<text x="530.30" y="316.34" font-size="2.9" fill="#222" font-weight="bold" textLength="137" lengthAdjust="spacingAndGlyphs" >GOBP_NEGATIVE_REGULATION_OF_PHOSPHATIDYLINOSITOL_3_KINASE_PROTEIN_KINASE_B_SIGNA</text>
<line x1="523.60" y1="319.68" x2="528.00" y2="319.68" stroke="#5cb83a" stroke-width="1.2" />
<text x="530.30" y="320.72" font-size="2.9" fill="#222" font-weight="bold" textLength="79.64" lengthAdjust="spacingAndGlyphs" >GOBP_POSITIVE_REGULATION_OF_CIRCADIAN_RHYTHM</text>
<line x1="523.60" y1="324.06" x2="528.00" y2="324.06" stroke="#3050c8" stroke-width="1.2" />
<text x="530.30" y="325.10" font-size="2.9" fill="#222" font-weight="bold" textLength="54.300000000000004" lengthAdjust="spacingAndGlyphs" >GOBP_PROTEIN_DEPHOSPHORYLATION</text>
<line x1="523.60" y1="328.44" x2="528.00" y2="328.44" stroke="#e8e030" stroke-width="1.2" />
<text x="530.30" y="329.48" font-size="2.9" fill="#222" font-weight="bold" textLength="66.97" lengthAdjust="spacingAndGlyphs" >GOBP_REGULATION_OF_CELL_MORPHOGENESIS</text>
<line x1="523.60" y1="332.82" x2="528.00" y2="332.82" stroke="#b050c0" stroke-width="1.2" />
<text x="530.30" y="333.86" font-size="2.9" fill="#222" font-weight="bold" textLength="88.69" lengthAdjust="spacingAndGlyphs" >GOBP_REGULATION_OF_PROGRAMMED_NECROTIC_CELL_DEATH</text>
<path d="M616.4 350.3v4.1M634.7 350.3v4.1M639.7 350.3v4.1M623.7 350.3v4.1M660.5 350.3v4.1M563.7 350.3v4.1M598.4 350.3v4.1M565.9 350.3v4.1M658.2 350.3v4.1M589.6 350.3v4.1M554.1 350.3v4.1M591.2 350.3v4.1M538.5 350.3v4.1M526.2 350.3v4.1M548.5 350.3v4.1M526.6 350.3v4.1M522.6 350.3v4.1M524.6 350.3v4.1M557.3 350.3v4.1M610.8 350.3v4.1M523.2 350.3v4.1M586.2 350.3v4.1M525.4 350.3v4.1M565.3 350.3v4.1M538.6 350.3v4.1M556.1 350.3v4.1M600.4 350.3v4.1M551.8 350.3v4.1M549.1 350.3v4.1M603.7 350.3v4.1M525.6 350.3v4.1M544.2 350.3v4.1M598.4 350.3v4.1M626.2 350.3v4.1M660.7 350.3v4.1M535.0 350.3v4.1M584.2 350.3v4.1M540.3 350.3v4.1M598.4 350.3v4.1M628.8 350.3v4.1M526.5 350.3v4.1M543.7 350.3v4.1M650.0 350.3v4.1M544.5 350.3v4.1M585.4 350.3v4.1M622.6 350.3v4.1M537.0 350.3v4.1M615.0 350.3v4.1M522.6 350.3v4.1M543.2 350.3v4.1M528.3 350.3v4.1M543.8 350.3v4.1M531.5 350.3v4.1M522.8 350.3v4.1M619.2 350.3v4.1" stroke="#b070c0" stroke-width="0.5" opacity="0.25" fill="none"/>
<path d="M525.6 354.4v4.1M564.8 354.4v4.1M561.7 354.4v4.1M622.8 354.4v4.1M622.1 354.4v4.1M573.0 354.4v4.1M525.5 354.4v4.1M601.2 354.4v4.1M523.5 354.4v4.1M644.4 354.4v4.1M533.4 354.4v4.1M529.6 354.4v4.1M527.6 354.4v4.1M541.3 354.4v4.1M608.3 354.4v4.1M624.2 354.4v4.1M597.9 354.4v4.1M594.2 354.4v4.1M529.0 354.4v4.1M534.4 354.4v4.1M533.1 354.4v4.1M545.4 354.4v4.1M629.4 354.4v4.1M664.7 354.4v4.1M523.2 354.4v4.1M655.1 354.4v4.1M641.5 354.4v4.1M548.7 354.4v4.1M586.6 354.4v4.1M606.7 354.4v4.1M526.2 354.4v4.1M572.0 354.4v4.1M660.3 354.4v4.1M630.9 354.4v4.1M639.6 354.4v4.1M523.2 354.4v4.1M591.1 354.4v4.1M552.0 354.4v4.1M638.9 354.4v4.1M525.4 354.4v4.1M560.9 354.4v4.1M524.0 354.4v4.1M611.4 354.4v4.1M592.8 354.4v4.1M522.7 354.4v4.1M533.5 354.4v4.1M524.5 354.4v4.1M575.5 354.4v4.1M574.5 354.4v4.1M522.9 354.4v4.1M651.0 354.4v4.1M655.3 354.4v4.1M546.2 354.4v4.1M564.9 354.4v4.1M538.1 354.4v4.1" stroke="#e8e030" stroke-width="0.5" opacity="0.45" fill="none"/>
<path d="M575.3 358.5v4.1M545.4 358.5v4.1M550.5 358.5v4.1M603.2 358.5v4.1M527.6 358.5v4.1M535.4 358.5v4.1M606.2 358.5v4.1M529.9 358.5v4.1M523.3 358.5v4.1M641.8 358.5v4.1M526.2 358.5v4.1M546.8 358.5v4.1M536.7 358.5v4.1M532.4 358.5v4.1M540.4 358.5v4.1M564.0 358.5v4.1M524.5 358.5v4.1M563.4 358.5v4.1M523.0 358.5v4.1M523.5 358.5v4.1M528.5 358.5v4.1M530.9 358.5v4.1M539.3 358.5v4.1M534.8 358.5v4.1M623.0 358.5v4.1M584.7 358.5v4.1M554.7 358.5v4.1M607.9 358.5v4.1M590.1 358.5v4.1M536.9 358.5v4.1M577.0 358.5v4.1M602.3 358.5v4.1M563.5 358.5v4.1M603.8 358.5v4.1M580.0 358.5v4.1M646.1 358.5v4.1M532.6 358.5v4.1M587.3 358.5v4.1M659.4 358.5v4.1M562.6 358.5v4.1M640.1 358.5v4.1M523.9 358.5v4.1M597.7 358.5v4.1M532.7 358.5v4.1M603.3 358.5v4.1M548.3 358.5v4.1M563.6 358.5v4.1M531.5 358.5v4.1M532.1 358.5v4.1M630.0 358.5v4.1M581.9 358.5v4.1M579.3 358.5v4.1M524.5 358.5v4.1M534.9 358.5v4.1M657.0 358.5v4.1" stroke="#3050c8" stroke-width="0.5" opacity="0.3" fill="none"/>
<path d="M530.7 362.6v4.1M569.6 362.6v4.1M597.4 362.6v4.1M565.3 362.6v4.1M572.2 362.6v4.1M658.4 362.6v4.1M614.6 362.6v4.1M533.3 362.6v4.1M554.0 362.6v4.1M552.6 362.6v4.1M594.9 362.6v4.1M593.3 362.6v4.1M535.4 362.6v4.1M596.6 362.6v4.1M554.2 362.6v4.1M522.7 362.6v4.1M538.2 362.6v4.1M547.4 362.6v4.1M530.3 362.6v4.1M592.5 362.6v4.1M664.0 362.6v4.1M648.8 362.6v4.1M585.0 362.6v4.1M631.3 362.6v4.1M562.6 362.6v4.1M577.5 362.6v4.1M639.7 362.6v4.1M523.5 362.6v4.1M545.7 362.6v4.1M547.0 362.6v4.1M543.3 362.6v4.1M553.7 362.6v4.1M523.4 362.6v4.1M594.0 362.6v4.1M655.0 362.6v4.1M533.1 362.6v4.1M529.5 362.6v4.1M542.6 362.6v4.1M617.8 362.6v4.1M532.5 362.6v4.1M612.4 362.6v4.1M528.7 362.6v4.1M578.9 362.6v4.1M602.2 362.6v4.1M593.1 362.6v4.1M524.3 362.6v4.1M655.0 362.6v4.1M629.2 362.6v4.1M561.0 362.6v4.1M631.8 362.6v4.1M579.9 362.6v4.1M528.4 362.6v4.1M549.8 362.6v4.1M623.1 362.6v4.1M558.6 362.6v4.1" stroke="#8cc870" stroke-width="0.5" opacity="0.2" fill="none"/>
<path d="M523.5 366.7v4.1M530.7 366.7v4.1M532.3 366.7v4.1M583.6 366.7v4.1M593.5 366.7v4.1M562.3 366.7v4.1M556.2 366.7v4.1M657.6 366.7v4.1M548.5 366.7v4.1M598.5 366.7v4.1M533.9 366.7v4.1M572.1 366.7v4.1M531.8 366.7v4.1M527.0 366.7v4.1M547.7 366.7v4.1M527.1 366.7v4.1M553.2 366.7v4.1M595.1 366.7v4.1M577.6 366.7v4.1M622.1 366.7v4.1M566.5 366.7v4.1M525.3 366.7v4.1M608.8 366.7v4.1M556.0 366.7v4.1M613.4 366.7v4.1M660.4 366.7v4.1M573.6 366.7v4.1M538.2 366.7v4.1M550.3 366.7v4.1M569.7 366.7v4.1M545.7 366.7v4.1M526.3 366.7v4.1M555.5 366.7v4.1M595.7 366.7v4.1M626.2 366.7v4.1M615.4 366.7v4.1M640.3 366.7v4.1M623.2 366.7v4.1M557.2 366.7v4.1M593.6 366.7v4.1M523.9 366.7v4.1M621.8 366.7v4.1M605.1 366.7v4.1M539.8 366.7v4.1M565.8 366.7v4.1M540.4 366.7v4.1M622.0 366.7v4.1M559.3 366.7v4.1M619.1 366.7v4.1M648.9 366.7v4.1M618.5 366.7v4.1M553.1 366.7v4.1M548.4 366.7v4.1M653.8 366.7v4.1M644.7 366.7v4.1" stroke="#e86050" stroke-width="0.5" opacity="0.3" fill="none"/>
<rect x="522.60" y="354.40" width="23.40" height="3.80" fill="#e8e030" stroke="none" stroke-width="0" opacity="0.35"/>
<rect x="522.60" y="358.50" width="10.40" height="3.80" fill="#3050c8" stroke="none" stroke-width="0" opacity="0.3"/>
<rect x="522.60" y="366.70" width="10.40" height="3.80" fill="#e86050" stroke="none" stroke-width="0" opacity="0.2"/>
<rect x="522.60" y="350.30" width="7.40" height="3.80" fill="#b070c0" stroke="none" stroke-width="0" opacity="0.12"/>
<text x="558.10" y="373.74" font-size="2.9" fill="#111" font-weight="bold" textLength="23.9" lengthAdjust="spacingAndGlyphs" >high expression</text>
<line x1="582.20" y1="372.70" x2="607.00" y2="372.70" stroke="#333" stroke-width="0.7" stroke-dasharray="0.7,0.5"/>
<text x="607.30" y="374.24" font-size="2.9" fill="#111" font-weight="bold" textLength="22.4" lengthAdjust="spacingAndGlyphs" >low expression</text>
</svg></body></html>
